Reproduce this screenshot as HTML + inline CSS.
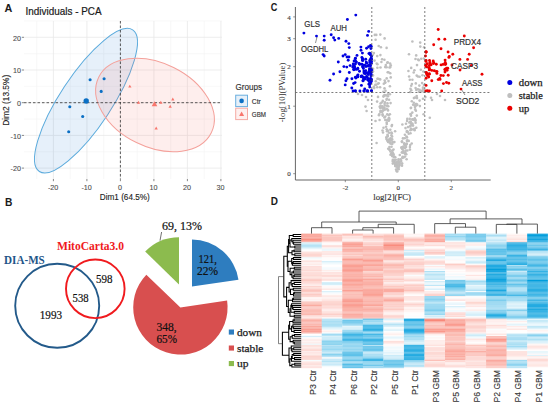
<!DOCTYPE html>
<html><head><meta charset="utf-8"><style>
html,body{margin:0;padding:0;background:#fff;}
svg{display:block;}
</style></head><body>
<svg width="550" height="406" viewBox="0 0 550 406">
<rect width="550" height="406" fill="#fff"/>
<g id="A">
<line x1="36.7" y1="21" x2="36.7" y2="179" stroke="#f3f3f3" stroke-width="0.6"/>
<line x1="70.2" y1="21" x2="70.2" y2="179" stroke="#f3f3f3" stroke-width="0.6"/>
<line x1="103.7" y1="21" x2="103.7" y2="179" stroke="#f3f3f3" stroke-width="0.6"/>
<line x1="137.2" y1="21" x2="137.2" y2="179" stroke="#f3f3f3" stroke-width="0.6"/>
<line x1="170.7" y1="21" x2="170.7" y2="179" stroke="#f3f3f3" stroke-width="0.6"/>
<line x1="204.2" y1="21" x2="204.2" y2="179" stroke="#f3f3f3" stroke-width="0.6"/>
<line x1="24" y1="151.8" x2="222" y2="151.8" stroke="#f3f3f3" stroke-width="0.6"/>
<line x1="24" y1="119.1" x2="222" y2="119.1" stroke="#f3f3f3" stroke-width="0.6"/>
<line x1="24" y1="86.3" x2="222" y2="86.3" stroke="#f3f3f3" stroke-width="0.6"/>
<line x1="24" y1="53.7" x2="222" y2="53.7" stroke="#f3f3f3" stroke-width="0.6"/>
<line x1="24" y1="21.0" x2="222" y2="21.0" stroke="#f3f3f3" stroke-width="0.6"/>
<line x1="53.4" y1="21" x2="53.4" y2="179" stroke="#e9e9e9" stroke-width="0.8"/>
<line x1="86.9" y1="21" x2="86.9" y2="179" stroke="#e9e9e9" stroke-width="0.8"/>
<line x1="120.4" y1="21" x2="120.4" y2="179" stroke="#e9e9e9" stroke-width="0.8"/>
<line x1="153.9" y1="21" x2="153.9" y2="179" stroke="#e9e9e9" stroke-width="0.8"/>
<line x1="187.4" y1="21" x2="187.4" y2="179" stroke="#e9e9e9" stroke-width="0.8"/>
<line x1="220.9" y1="21" x2="220.9" y2="179" stroke="#e9e9e9" stroke-width="0.8"/>
<line x1="24" y1="168.1" x2="222" y2="168.1" stroke="#e9e9e9" stroke-width="0.8"/>
<line x1="24" y1="135.4" x2="222" y2="135.4" stroke="#e9e9e9" stroke-width="0.8"/>
<line x1="24" y1="102.7" x2="222" y2="102.7" stroke="#e9e9e9" stroke-width="0.8"/>
<line x1="24" y1="70.0" x2="222" y2="70.0" stroke="#e9e9e9" stroke-width="0.8"/>
<line x1="24" y1="37.3" x2="222" y2="37.3" stroke="#e9e9e9" stroke-width="0.8"/>
<ellipse cx="86" cy="100.7" rx="84.8" ry="25.8" transform="rotate(-56.6 86 100.7)" fill="#1874cd" fill-opacity="0.11" stroke="#5aaadc" stroke-width="1"/>
<ellipse cx="155" cy="105" rx="62.8" ry="41.9" transform="rotate(26.3 155 105)" fill="#f8766d" fill-opacity="0.12" stroke="#f4a09a" stroke-width="1"/>
<line x1="120.4" y1="21" x2="120.4" y2="179" stroke="#333" stroke-width="0.8" stroke-dasharray="2.5,2"/>
<line x1="24" y1="102.7" x2="222" y2="102.7" stroke="#333" stroke-width="0.8" stroke-dasharray="2.5,2"/>
<circle cx="90.1" cy="79.8" r="1.55" fill="#0b6fc4"/>
<circle cx="104.1" cy="78.7" r="1.55" fill="#0b6fc4"/>
<circle cx="101.2" cy="91.4" r="1.55" fill="#0b6fc4"/>
<circle cx="69.8" cy="106.7" r="1.55" fill="#0b6fc4"/>
<circle cx="82.7" cy="116.5" r="1.55" fill="#0b6fc4"/>
<circle cx="68.7" cy="131.7" r="1.55" fill="#0b6fc4"/>
<circle cx="86.2" cy="101" r="2.7" fill="#0b6fc4"/>
<path d="M129.8 84.7 L131.5 87.6 L128.2 87.6Z" fill="#f8766d"/>
<path d="M138.5 100.8 L140.2 103.7 L136.8 103.7Z" fill="#f8766d"/>
<path d="M160.8 100.8 L162.5 103.7 L159.2 103.7Z" fill="#f8766d"/>
<path d="M172.8 97.6 L174.5 100.5 L171.2 100.5Z" fill="#f8766d"/>
<path d="M170.2 104.8 L171.8 107.7 L168.5 107.7Z" fill="#f8766d"/>
<path d="M156.2 126.6 L157.8 129.5 L154.5 129.5Z" fill="#f8766d"/>
<path d="M154.5 101.2 L157.3 106.3 L151.7 106.3Z" fill="#f8766d"/>
<line x1="53.4" y1="179" x2="53.4" y2="181.2" stroke="#555" stroke-width="0.7"/>
<text x="53.1" y="190.1" font-size="7.2" fill="#4d4d4d" font-family='"Liberation Sans", sans-serif' text-anchor="middle" stroke="#4d4d4d" stroke-width="0.1">-20</text>
<line x1="86.9" y1="179" x2="86.9" y2="181.2" stroke="#555" stroke-width="0.7"/>
<text x="86.6" y="190.1" font-size="7.2" fill="#4d4d4d" font-family='"Liberation Sans", sans-serif' text-anchor="middle" stroke="#4d4d4d" stroke-width="0.1">-10</text>
<line x1="120.4" y1="179" x2="120.4" y2="181.2" stroke="#555" stroke-width="0.7"/>
<text x="120.1" y="190.1" font-size="7.2" fill="#4d4d4d" font-family='"Liberation Sans", sans-serif' text-anchor="middle" stroke="#4d4d4d" stroke-width="0.1">0</text>
<line x1="153.9" y1="179" x2="153.9" y2="181.2" stroke="#555" stroke-width="0.7"/>
<text x="153.6" y="190.1" font-size="7.2" fill="#4d4d4d" font-family='"Liberation Sans", sans-serif' text-anchor="middle" stroke="#4d4d4d" stroke-width="0.1">10</text>
<line x1="187.4" y1="179" x2="187.4" y2="181.2" stroke="#555" stroke-width="0.7"/>
<text x="187.1" y="190.1" font-size="7.2" fill="#4d4d4d" font-family='"Liberation Sans", sans-serif' text-anchor="middle" stroke="#4d4d4d" stroke-width="0.1">20</text>
<line x1="220.9" y1="179" x2="220.9" y2="181.2" stroke="#555" stroke-width="0.7"/>
<text x="220.6" y="190.1" font-size="7.2" fill="#4d4d4d" font-family='"Liberation Sans", sans-serif' text-anchor="middle" stroke="#4d4d4d" stroke-width="0.1">30</text>
<line x1="21.8" y1="168.1" x2="24" y2="168.1" stroke="#555" stroke-width="0.7"/>
<text x="20.9" y="171.4" font-size="7.2" fill="#4d4d4d" font-family='"Liberation Sans", sans-serif' text-anchor="end" stroke="#4d4d4d" stroke-width="0.1">-20</text>
<line x1="21.8" y1="135.4" x2="24" y2="135.4" stroke="#555" stroke-width="0.7"/>
<text x="20.9" y="138.7" font-size="7.2" fill="#4d4d4d" font-family='"Liberation Sans", sans-serif' text-anchor="end" stroke="#4d4d4d" stroke-width="0.1">-10</text>
<line x1="21.8" y1="102.7" x2="24" y2="102.7" stroke="#555" stroke-width="0.7"/>
<text x="20.9" y="106.0" font-size="7.2" fill="#4d4d4d" font-family='"Liberation Sans", sans-serif' text-anchor="end" stroke="#4d4d4d" stroke-width="0.1">0</text>
<line x1="21.8" y1="70.0" x2="24" y2="70.0" stroke="#555" stroke-width="0.7"/>
<text x="20.9" y="73.3" font-size="7.2" fill="#4d4d4d" font-family='"Liberation Sans", sans-serif' text-anchor="end" stroke="#4d4d4d" stroke-width="0.1">10</text>
<line x1="21.8" y1="37.3" x2="24" y2="37.3" stroke="#555" stroke-width="0.7"/>
<text x="20.9" y="40.6" font-size="7.2" fill="#4d4d4d" font-family='"Liberation Sans", sans-serif' text-anchor="end" stroke="#4d4d4d" stroke-width="0.1">20</text>
<text x="99.8" y="199.6" font-size="8.2" fill="#222" font-family='"Liberation Sans", sans-serif' textLength="50" lengthAdjust="spacingAndGlyphs" stroke="#222" stroke-width="0.12">Dim1 (64.5%)</text>
<text transform="translate(8.9 100.3) rotate(-90)" font-size="8.3" fill="#222" font-family='"Liberation Sans", sans-serif' text-anchor="middle" stroke="#222" stroke-width="0.12" textLength="51" lengthAdjust="spacingAndGlyphs">Dim2 (13.5%)</text>
<text x="25.6" y="15.1" font-size="10.3" fill="#1a1a1a" font-family='"Liberation Sans", sans-serif' textLength="76" lengthAdjust="spacingAndGlyphs" stroke="#1a1a1a" stroke-width="0.2">Individuals - PCA</text>
<text x="4.6" y="11.6" font-size="11" fill="#1a1a1a" font-family='"Liberation Sans", sans-serif' font-weight="bold" textLength="7.8" lengthAdjust="spacingAndGlyphs">A</text>
<text x="235.5" y="89.8" font-size="8.4" fill="#333" font-family='"Liberation Sans", sans-serif' textLength="26.5" lengthAdjust="spacingAndGlyphs" stroke="#333" stroke-width="0.15">Groups</text>
<rect x="235.7" y="95.2" width="11.8" height="11.4" fill="#e6f0f9" stroke="#6aaedf" stroke-width="1"/>
<circle cx="241.6" cy="100.9" r="2.3" fill="#0b6fc4"/>
<rect x="235.7" y="108.2" width="11.8" height="11.4" fill="#fef0ef" stroke="#f5aaa4" stroke-width="1"/>
<path d="M241.6 111.5 L244.1 116.0 L239.1 116.0Z" fill="#f8766d"/>
<text x="251.8" y="103.6" font-size="7.2" fill="#333" font-family='"Liberation Sans", sans-serif' textLength="9" lengthAdjust="spacingAndGlyphs" stroke="#333" stroke-width="0.15">Ctr</text>
<text x="251.8" y="116.6" font-size="7.2" fill="#333" font-family='"Liberation Sans", sans-serif' textLength="14.2" lengthAdjust="spacingAndGlyphs" stroke="#333" stroke-width="0.15">GBM</text>
</g>
<g id="C">
<circle cx="390.8" cy="139.3" r="1.3" fill="#bfbfbf"/>
<circle cx="390.4" cy="151.5" r="1.3" fill="#bfbfbf"/>
<circle cx="382.6" cy="114.2" r="1.3" fill="#bfbfbf"/>
<circle cx="389.9" cy="94.2" r="1.3" fill="#bfbfbf"/>
<circle cx="391.5" cy="153.2" r="1.3" fill="#bfbfbf"/>
<circle cx="387.2" cy="114.4" r="1.3" fill="#bfbfbf"/>
<circle cx="382.4" cy="110.9" r="1.3" fill="#bfbfbf"/>
<circle cx="390.3" cy="129.8" r="1.3" fill="#bfbfbf"/>
<circle cx="396.1" cy="169.6" r="1.3" fill="#bfbfbf"/>
<circle cx="386.4" cy="139.1" r="1.3" fill="#bfbfbf"/>
<circle cx="384.5" cy="108.0" r="1.3" fill="#bfbfbf"/>
<circle cx="390.5" cy="138.3" r="1.3" fill="#bfbfbf"/>
<circle cx="383.8" cy="95.9" r="1.3" fill="#bfbfbf"/>
<circle cx="386.1" cy="126.8" r="1.3" fill="#bfbfbf"/>
<circle cx="390.3" cy="139.7" r="1.3" fill="#bfbfbf"/>
<circle cx="386.7" cy="129.2" r="1.3" fill="#bfbfbf"/>
<circle cx="382.2" cy="106.4" r="1.3" fill="#bfbfbf"/>
<circle cx="382.3" cy="107.0" r="1.3" fill="#bfbfbf"/>
<circle cx="388.0" cy="94.2" r="1.3" fill="#bfbfbf"/>
<circle cx="384.6" cy="103.7" r="1.3" fill="#bfbfbf"/>
<circle cx="394.6" cy="160.1" r="1.3" fill="#bfbfbf"/>
<circle cx="394.0" cy="157.3" r="1.3" fill="#bfbfbf"/>
<circle cx="388.2" cy="148.7" r="1.3" fill="#bfbfbf"/>
<circle cx="389.1" cy="132.7" r="1.3" fill="#bfbfbf"/>
<circle cx="398.5" cy="159.3" r="1.3" fill="#bfbfbf"/>
<circle cx="386.3" cy="137.2" r="1.3" fill="#bfbfbf"/>
<circle cx="388.7" cy="120.8" r="1.3" fill="#bfbfbf"/>
<circle cx="387.5" cy="103.4" r="1.3" fill="#bfbfbf"/>
<circle cx="388.9" cy="120.2" r="1.3" fill="#bfbfbf"/>
<circle cx="387.6" cy="136.5" r="1.3" fill="#bfbfbf"/>
<circle cx="388.9" cy="140.4" r="1.3" fill="#bfbfbf"/>
<circle cx="380.5" cy="103.5" r="1.3" fill="#bfbfbf"/>
<circle cx="384.8" cy="109.8" r="1.3" fill="#bfbfbf"/>
<circle cx="389.1" cy="99.8" r="1.3" fill="#bfbfbf"/>
<circle cx="382.5" cy="108.0" r="1.3" fill="#bfbfbf"/>
<circle cx="379.2" cy="114.2" r="1.3" fill="#bfbfbf"/>
<circle cx="390.3" cy="142.3" r="1.3" fill="#bfbfbf"/>
<circle cx="395.3" cy="157.2" r="1.3" fill="#bfbfbf"/>
<circle cx="394.2" cy="162.0" r="1.3" fill="#bfbfbf"/>
<circle cx="390.6" cy="103.1" r="1.3" fill="#bfbfbf"/>
<circle cx="394.9" cy="164.0" r="1.3" fill="#bfbfbf"/>
<circle cx="384.7" cy="105.6" r="1.3" fill="#bfbfbf"/>
<circle cx="387.3" cy="140.6" r="1.3" fill="#bfbfbf"/>
<circle cx="385.3" cy="119.9" r="1.3" fill="#bfbfbf"/>
<circle cx="387.8" cy="109.8" r="1.3" fill="#bfbfbf"/>
<circle cx="395.8" cy="159.7" r="1.3" fill="#bfbfbf"/>
<circle cx="391.8" cy="133.2" r="1.3" fill="#bfbfbf"/>
<circle cx="393.5" cy="149.5" r="1.3" fill="#bfbfbf"/>
<circle cx="387.8" cy="119.6" r="1.3" fill="#bfbfbf"/>
<circle cx="377.1" cy="101.6" r="1.3" fill="#bfbfbf"/>
<circle cx="388.1" cy="141.9" r="1.3" fill="#bfbfbf"/>
<circle cx="395.1" cy="131.3" r="1.3" fill="#bfbfbf"/>
<circle cx="384.3" cy="117.5" r="1.3" fill="#bfbfbf"/>
<circle cx="392.2" cy="144.0" r="1.3" fill="#bfbfbf"/>
<circle cx="387.8" cy="130.9" r="1.3" fill="#bfbfbf"/>
<circle cx="396.1" cy="162.4" r="1.3" fill="#bfbfbf"/>
<circle cx="395.4" cy="164.5" r="1.3" fill="#bfbfbf"/>
<circle cx="389.6" cy="149.6" r="1.3" fill="#bfbfbf"/>
<circle cx="381.7" cy="102.5" r="1.3" fill="#bfbfbf"/>
<circle cx="393.7" cy="154.7" r="1.3" fill="#bfbfbf"/>
<circle cx="388.4" cy="139.6" r="1.3" fill="#bfbfbf"/>
<circle cx="382.5" cy="130.5" r="1.3" fill="#bfbfbf"/>
<circle cx="386.7" cy="108.8" r="1.3" fill="#bfbfbf"/>
<circle cx="389.4" cy="118.9" r="1.3" fill="#bfbfbf"/>
<circle cx="388.9" cy="117.7" r="1.3" fill="#bfbfbf"/>
<circle cx="391.4" cy="135.2" r="1.3" fill="#bfbfbf"/>
<circle cx="380.4" cy="112.1" r="1.3" fill="#bfbfbf"/>
<circle cx="392.0" cy="125.1" r="1.3" fill="#bfbfbf"/>
<circle cx="387.6" cy="130.7" r="1.3" fill="#bfbfbf"/>
<circle cx="392.8" cy="161.4" r="1.3" fill="#bfbfbf"/>
<circle cx="387.8" cy="135.8" r="1.3" fill="#bfbfbf"/>
<circle cx="392.8" cy="159.9" r="1.3" fill="#bfbfbf"/>
<circle cx="392.8" cy="163.6" r="1.3" fill="#bfbfbf"/>
<circle cx="386.8" cy="124.0" r="1.3" fill="#bfbfbf"/>
<circle cx="396.0" cy="165.9" r="1.3" fill="#bfbfbf"/>
<circle cx="392.3" cy="154.0" r="1.3" fill="#bfbfbf"/>
<circle cx="391.5" cy="146.7" r="1.3" fill="#bfbfbf"/>
<circle cx="385.3" cy="116.6" r="1.3" fill="#bfbfbf"/>
<circle cx="382.3" cy="107.1" r="1.3" fill="#bfbfbf"/>
<circle cx="382.9" cy="107.9" r="1.3" fill="#bfbfbf"/>
<circle cx="394.4" cy="156.8" r="1.3" fill="#bfbfbf"/>
<circle cx="383.5" cy="127.8" r="1.3" fill="#bfbfbf"/>
<circle cx="388.9" cy="142.1" r="1.3" fill="#bfbfbf"/>
<circle cx="397.6" cy="166.8" r="1.3" fill="#bfbfbf"/>
<circle cx="390.2" cy="139.6" r="1.3" fill="#bfbfbf"/>
<circle cx="386.8" cy="105.8" r="1.3" fill="#bfbfbf"/>
<circle cx="386.7" cy="122.6" r="1.3" fill="#bfbfbf"/>
<circle cx="390.5" cy="154.7" r="1.3" fill="#bfbfbf"/>
<circle cx="382.8" cy="100.9" r="1.3" fill="#bfbfbf"/>
<circle cx="392.9" cy="153.6" r="1.3" fill="#bfbfbf"/>
<circle cx="387.0" cy="131.3" r="1.3" fill="#bfbfbf"/>
<circle cx="383.4" cy="96.6" r="1.3" fill="#bfbfbf"/>
<circle cx="384.6" cy="95.0" r="1.3" fill="#bfbfbf"/>
<circle cx="388.0" cy="110.4" r="1.3" fill="#bfbfbf"/>
<circle cx="387.5" cy="134.7" r="1.3" fill="#bfbfbf"/>
<circle cx="392.1" cy="136.6" r="1.3" fill="#bfbfbf"/>
<circle cx="390.4" cy="143.6" r="1.3" fill="#bfbfbf"/>
<circle cx="388.7" cy="115.0" r="1.3" fill="#bfbfbf"/>
<circle cx="391.4" cy="132.5" r="1.3" fill="#bfbfbf"/>
<circle cx="394.4" cy="142.0" r="1.3" fill="#bfbfbf"/>
<circle cx="388.3" cy="106.3" r="1.3" fill="#bfbfbf"/>
<circle cx="388.0" cy="96.2" r="1.3" fill="#bfbfbf"/>
<circle cx="399.0" cy="166.7" r="1.3" fill="#bfbfbf"/>
<circle cx="378.0" cy="96.9" r="1.3" fill="#bfbfbf"/>
<circle cx="382.7" cy="115.6" r="1.3" fill="#bfbfbf"/>
<circle cx="392.2" cy="139.4" r="1.3" fill="#bfbfbf"/>
<circle cx="379.0" cy="115.2" r="1.3" fill="#bfbfbf"/>
<circle cx="393.0" cy="153.2" r="1.3" fill="#bfbfbf"/>
<circle cx="392.4" cy="150.8" r="1.3" fill="#bfbfbf"/>
<circle cx="379.7" cy="106.7" r="1.3" fill="#bfbfbf"/>
<circle cx="387.6" cy="140.4" r="1.3" fill="#bfbfbf"/>
<circle cx="386.6" cy="99.8" r="1.3" fill="#bfbfbf"/>
<circle cx="391.2" cy="139.9" r="1.3" fill="#bfbfbf"/>
<circle cx="391.5" cy="153.7" r="1.3" fill="#bfbfbf"/>
<circle cx="389.4" cy="147.1" r="1.3" fill="#bfbfbf"/>
<circle cx="393.1" cy="161.1" r="1.3" fill="#bfbfbf"/>
<circle cx="385.9" cy="95.4" r="1.3" fill="#bfbfbf"/>
<circle cx="380.3" cy="108.0" r="1.3" fill="#bfbfbf"/>
<circle cx="395.6" cy="165.4" r="1.3" fill="#bfbfbf"/>
<circle cx="380.5" cy="110.7" r="1.3" fill="#bfbfbf"/>
<circle cx="392.4" cy="141.9" r="1.3" fill="#bfbfbf"/>
<circle cx="387.0" cy="120.3" r="1.3" fill="#bfbfbf"/>
<circle cx="393.6" cy="142.3" r="1.3" fill="#bfbfbf"/>
<circle cx="379.6" cy="120.0" r="1.3" fill="#bfbfbf"/>
<circle cx="383.0" cy="132.5" r="1.3" fill="#bfbfbf"/>
<circle cx="383.2" cy="110.4" r="1.3" fill="#bfbfbf"/>
<circle cx="391.7" cy="126.1" r="1.3" fill="#bfbfbf"/>
<circle cx="389.3" cy="149.6" r="1.3" fill="#bfbfbf"/>
<circle cx="389.9" cy="114.2" r="1.3" fill="#bfbfbf"/>
<circle cx="392.4" cy="150.5" r="1.3" fill="#bfbfbf"/>
<circle cx="385.0" cy="102.3" r="1.3" fill="#bfbfbf"/>
<circle cx="386.8" cy="98.8" r="1.3" fill="#bfbfbf"/>
<circle cx="382.1" cy="111.9" r="1.3" fill="#bfbfbf"/>
<circle cx="392.1" cy="156.1" r="1.3" fill="#bfbfbf"/>
<circle cx="380.5" cy="106.0" r="1.3" fill="#bfbfbf"/>
<circle cx="402.8" cy="156.9" r="1.3" fill="#bfbfbf"/>
<circle cx="411.7" cy="143.5" r="1.3" fill="#bfbfbf"/>
<circle cx="405.2" cy="144.7" r="1.3" fill="#bfbfbf"/>
<circle cx="405.2" cy="152.3" r="1.3" fill="#bfbfbf"/>
<circle cx="414.8" cy="118.2" r="1.3" fill="#bfbfbf"/>
<circle cx="411.3" cy="129.0" r="1.3" fill="#bfbfbf"/>
<circle cx="415.7" cy="105.6" r="1.3" fill="#bfbfbf"/>
<circle cx="414.6" cy="130.3" r="1.3" fill="#bfbfbf"/>
<circle cx="402.5" cy="157.9" r="1.3" fill="#bfbfbf"/>
<circle cx="414.6" cy="105.2" r="1.3" fill="#bfbfbf"/>
<circle cx="402.9" cy="138.4" r="1.3" fill="#bfbfbf"/>
<circle cx="402.0" cy="165.7" r="1.3" fill="#bfbfbf"/>
<circle cx="405.5" cy="153.7" r="1.3" fill="#bfbfbf"/>
<circle cx="414.2" cy="119.9" r="1.3" fill="#bfbfbf"/>
<circle cx="416.1" cy="105.2" r="1.3" fill="#bfbfbf"/>
<circle cx="409.9" cy="147.1" r="1.3" fill="#bfbfbf"/>
<circle cx="412.3" cy="123.5" r="1.3" fill="#bfbfbf"/>
<circle cx="410.7" cy="121.7" r="1.3" fill="#bfbfbf"/>
<circle cx="405.0" cy="153.8" r="1.3" fill="#bfbfbf"/>
<circle cx="412.3" cy="119.4" r="1.3" fill="#bfbfbf"/>
<circle cx="406.5" cy="144.3" r="1.3" fill="#bfbfbf"/>
<circle cx="403.2" cy="152.7" r="1.3" fill="#bfbfbf"/>
<circle cx="412.8" cy="119.4" r="1.3" fill="#bfbfbf"/>
<circle cx="401.5" cy="147.3" r="1.3" fill="#bfbfbf"/>
<circle cx="413.8" cy="102.8" r="1.3" fill="#bfbfbf"/>
<circle cx="402.3" cy="152.3" r="1.3" fill="#bfbfbf"/>
<circle cx="411.8" cy="101.2" r="1.3" fill="#bfbfbf"/>
<circle cx="399.7" cy="165.0" r="1.3" fill="#bfbfbf"/>
<circle cx="410.5" cy="133.2" r="1.3" fill="#bfbfbf"/>
<circle cx="403.3" cy="146.5" r="1.3" fill="#bfbfbf"/>
<circle cx="406.6" cy="159.3" r="1.3" fill="#bfbfbf"/>
<circle cx="405.0" cy="147.9" r="1.3" fill="#bfbfbf"/>
<circle cx="413.0" cy="125.6" r="1.3" fill="#bfbfbf"/>
<circle cx="410.6" cy="114.1" r="1.3" fill="#bfbfbf"/>
<circle cx="404.2" cy="144.1" r="1.3" fill="#bfbfbf"/>
<circle cx="425.4" cy="97.1" r="1.3" fill="#bfbfbf"/>
<circle cx="404.0" cy="157.2" r="1.3" fill="#bfbfbf"/>
<circle cx="415.2" cy="109.4" r="1.3" fill="#bfbfbf"/>
<circle cx="410.8" cy="108.1" r="1.3" fill="#bfbfbf"/>
<circle cx="416.3" cy="127.8" r="1.3" fill="#bfbfbf"/>
<circle cx="413.1" cy="104.7" r="1.3" fill="#bfbfbf"/>
<circle cx="410.0" cy="126.4" r="1.3" fill="#bfbfbf"/>
<circle cx="407.2" cy="140.3" r="1.3" fill="#bfbfbf"/>
<circle cx="411.8" cy="129.6" r="1.3" fill="#bfbfbf"/>
<circle cx="410.9" cy="128.8" r="1.3" fill="#bfbfbf"/>
<circle cx="410.4" cy="130.3" r="1.3" fill="#bfbfbf"/>
<circle cx="409.9" cy="149.6" r="1.3" fill="#bfbfbf"/>
<circle cx="417.3" cy="104.9" r="1.3" fill="#bfbfbf"/>
<circle cx="419.6" cy="100.6" r="1.3" fill="#bfbfbf"/>
<circle cx="398.4" cy="161.4" r="1.3" fill="#bfbfbf"/>
<circle cx="402.2" cy="163.6" r="1.3" fill="#bfbfbf"/>
<circle cx="405.5" cy="128.1" r="1.3" fill="#bfbfbf"/>
<circle cx="400.6" cy="159.3" r="1.3" fill="#bfbfbf"/>
<circle cx="423.6" cy="114.2" r="1.3" fill="#bfbfbf"/>
<circle cx="415.0" cy="97.6" r="1.3" fill="#bfbfbf"/>
<circle cx="411.9" cy="125.0" r="1.3" fill="#bfbfbf"/>
<circle cx="402.7" cy="147.3" r="1.3" fill="#bfbfbf"/>
<circle cx="402.7" cy="147.3" r="1.3" fill="#bfbfbf"/>
<circle cx="406.3" cy="154.2" r="1.3" fill="#bfbfbf"/>
<circle cx="405.0" cy="145.4" r="1.3" fill="#bfbfbf"/>
<circle cx="416.6" cy="104.1" r="1.3" fill="#bfbfbf"/>
<circle cx="415.8" cy="104.0" r="1.3" fill="#bfbfbf"/>
<circle cx="404.9" cy="134.8" r="1.3" fill="#bfbfbf"/>
<circle cx="401.2" cy="161.0" r="1.3" fill="#bfbfbf"/>
<circle cx="414.5" cy="128.7" r="1.3" fill="#bfbfbf"/>
<circle cx="399.2" cy="163.3" r="1.3" fill="#bfbfbf"/>
<circle cx="405.8" cy="150.6" r="1.3" fill="#bfbfbf"/>
<circle cx="407.4" cy="150.5" r="1.3" fill="#bfbfbf"/>
<circle cx="404.7" cy="138.3" r="1.3" fill="#bfbfbf"/>
<circle cx="415.6" cy="122.7" r="1.3" fill="#bfbfbf"/>
<circle cx="401.9" cy="142.0" r="1.3" fill="#bfbfbf"/>
<circle cx="416.8" cy="115.6" r="1.3" fill="#bfbfbf"/>
<circle cx="415.0" cy="106.9" r="1.3" fill="#bfbfbf"/>
<circle cx="402.6" cy="147.9" r="1.3" fill="#bfbfbf"/>
<circle cx="406.0" cy="144.8" r="1.3" fill="#bfbfbf"/>
<circle cx="399.7" cy="162.7" r="1.3" fill="#bfbfbf"/>
<circle cx="407.1" cy="120.9" r="1.3" fill="#bfbfbf"/>
<circle cx="414.2" cy="129.3" r="1.3" fill="#bfbfbf"/>
<circle cx="423.0" cy="98.8" r="1.3" fill="#bfbfbf"/>
<circle cx="406.8" cy="131.9" r="1.3" fill="#bfbfbf"/>
<circle cx="416.7" cy="96.1" r="1.3" fill="#bfbfbf"/>
<circle cx="407.0" cy="137.4" r="1.3" fill="#bfbfbf"/>
<circle cx="417.0" cy="98.1" r="1.3" fill="#bfbfbf"/>
<circle cx="411.1" cy="107.8" r="1.3" fill="#bfbfbf"/>
<circle cx="405.1" cy="156.5" r="1.3" fill="#bfbfbf"/>
<circle cx="412.3" cy="124.2" r="1.3" fill="#bfbfbf"/>
<circle cx="404.2" cy="143.2" r="1.3" fill="#bfbfbf"/>
<circle cx="403.4" cy="150.9" r="1.3" fill="#bfbfbf"/>
<circle cx="406.5" cy="136.6" r="1.3" fill="#bfbfbf"/>
<circle cx="407.0" cy="141.0" r="1.3" fill="#bfbfbf"/>
<circle cx="415.4" cy="120.7" r="1.3" fill="#bfbfbf"/>
<circle cx="415.6" cy="120.0" r="1.3" fill="#bfbfbf"/>
<circle cx="409.7" cy="118.9" r="1.3" fill="#bfbfbf"/>
<circle cx="406.0" cy="146.9" r="1.3" fill="#bfbfbf"/>
<circle cx="411.0" cy="115.8" r="1.3" fill="#bfbfbf"/>
<circle cx="407.3" cy="118.9" r="1.3" fill="#bfbfbf"/>
<circle cx="402.4" cy="149.2" r="1.3" fill="#bfbfbf"/>
<circle cx="406.7" cy="143.6" r="1.3" fill="#bfbfbf"/>
<circle cx="399.8" cy="155.0" r="1.3" fill="#bfbfbf"/>
<circle cx="407.8" cy="131.9" r="1.3" fill="#bfbfbf"/>
<circle cx="408.7" cy="140.9" r="1.3" fill="#bfbfbf"/>
<circle cx="410.3" cy="121.8" r="1.3" fill="#bfbfbf"/>
<circle cx="412.3" cy="112.6" r="1.3" fill="#bfbfbf"/>
<circle cx="409.3" cy="122.5" r="1.3" fill="#bfbfbf"/>
<circle cx="406.0" cy="123.7" r="1.3" fill="#bfbfbf"/>
<circle cx="408.7" cy="133.7" r="1.3" fill="#bfbfbf"/>
<circle cx="402.7" cy="157.3" r="1.3" fill="#bfbfbf"/>
<circle cx="415.9" cy="110.8" r="1.3" fill="#bfbfbf"/>
<circle cx="408.0" cy="127.1" r="1.3" fill="#bfbfbf"/>
<circle cx="413.9" cy="98.1" r="1.3" fill="#bfbfbf"/>
<circle cx="419.9" cy="106.1" r="1.3" fill="#bfbfbf"/>
<circle cx="401.8" cy="152.5" r="1.3" fill="#bfbfbf"/>
<circle cx="410.7" cy="125.6" r="1.3" fill="#bfbfbf"/>
<circle cx="402.4" cy="124.5" r="1.3" fill="#bfbfbf"/>
<circle cx="406.9" cy="131.0" r="1.3" fill="#bfbfbf"/>
<circle cx="410.7" cy="114.3" r="1.3" fill="#bfbfbf"/>
<circle cx="401.5" cy="148.0" r="1.3" fill="#bfbfbf"/>
<circle cx="410.2" cy="145.1" r="1.3" fill="#bfbfbf"/>
<circle cx="411.1" cy="123.6" r="1.3" fill="#bfbfbf"/>
<circle cx="402.0" cy="141.3" r="1.3" fill="#bfbfbf"/>
<circle cx="397.2" cy="164.5" r="1.3" fill="#bfbfbf"/>
<circle cx="397.8" cy="163.1" r="1.3" fill="#bfbfbf"/>
<circle cx="395.8" cy="166.3" r="1.3" fill="#bfbfbf"/>
<circle cx="397.9" cy="162.4" r="1.3" fill="#bfbfbf"/>
<circle cx="401.7" cy="163.5" r="1.3" fill="#bfbfbf"/>
<circle cx="396.5" cy="163.1" r="1.3" fill="#bfbfbf"/>
<circle cx="396.8" cy="165.1" r="1.3" fill="#bfbfbf"/>
<circle cx="397.9" cy="168.5" r="1.3" fill="#bfbfbf"/>
<circle cx="399.2" cy="161.6" r="1.3" fill="#bfbfbf"/>
<circle cx="398.5" cy="169.2" r="1.3" fill="#bfbfbf"/>
<circle cx="396.5" cy="171.1" r="1.3" fill="#bfbfbf"/>
<circle cx="397.5" cy="167.5" r="1.3" fill="#bfbfbf"/>
<circle cx="398.5" cy="169.0" r="1.3" fill="#bfbfbf"/>
<circle cx="395.3" cy="163.1" r="1.3" fill="#bfbfbf"/>
<circle cx="395.3" cy="165.9" r="1.3" fill="#bfbfbf"/>
<circle cx="397.4" cy="165.3" r="1.3" fill="#bfbfbf"/>
<circle cx="398.2" cy="161.6" r="1.3" fill="#bfbfbf"/>
<circle cx="397.7" cy="162.1" r="1.3" fill="#bfbfbf"/>
<circle cx="397.3" cy="171.5" r="1.3" fill="#bfbfbf"/>
<circle cx="397.5" cy="162.2" r="1.3" fill="#bfbfbf"/>
<circle cx="398.2" cy="165.7" r="1.3" fill="#bfbfbf"/>
<circle cx="398.5" cy="165.5" r="1.3" fill="#bfbfbf"/>
<circle cx="376.7" cy="63.5" r="1.3" fill="#bfbfbf"/>
<circle cx="375.3" cy="84.9" r="1.3" fill="#bfbfbf"/>
<circle cx="379.2" cy="79.0" r="1.3" fill="#bfbfbf"/>
<circle cx="387.7" cy="72.2" r="1.3" fill="#bfbfbf"/>
<circle cx="390.1" cy="63.5" r="1.3" fill="#bfbfbf"/>
<circle cx="384.5" cy="88.4" r="1.3" fill="#bfbfbf"/>
<circle cx="384.4" cy="59.7" r="1.3" fill="#bfbfbf"/>
<circle cx="386.7" cy="78.4" r="1.3" fill="#bfbfbf"/>
<circle cx="390.7" cy="65.3" r="1.3" fill="#bfbfbf"/>
<circle cx="374.2" cy="88.1" r="1.3" fill="#bfbfbf"/>
<circle cx="373.1" cy="68.7" r="1.3" fill="#bfbfbf"/>
<circle cx="389.9" cy="86.3" r="1.3" fill="#bfbfbf"/>
<circle cx="383.3" cy="91.7" r="1.3" fill="#bfbfbf"/>
<circle cx="384.7" cy="80.6" r="1.3" fill="#bfbfbf"/>
<circle cx="390.7" cy="77.4" r="1.3" fill="#bfbfbf"/>
<circle cx="377.9" cy="78.7" r="1.3" fill="#bfbfbf"/>
<circle cx="373.0" cy="75.4" r="1.3" fill="#bfbfbf"/>
<circle cx="385.1" cy="82.6" r="1.3" fill="#bfbfbf"/>
<circle cx="388.5" cy="72.3" r="1.3" fill="#bfbfbf"/>
<circle cx="377.9" cy="83.7" r="1.3" fill="#bfbfbf"/>
<circle cx="374.5" cy="60.6" r="1.3" fill="#bfbfbf"/>
<circle cx="377.4" cy="64.3" r="1.3" fill="#bfbfbf"/>
<circle cx="390.2" cy="73.2" r="1.3" fill="#bfbfbf"/>
<circle cx="389.5" cy="67.5" r="1.3" fill="#bfbfbf"/>
<circle cx="388.5" cy="81.1" r="1.3" fill="#bfbfbf"/>
<circle cx="372.8" cy="71.7" r="1.3" fill="#bfbfbf"/>
<circle cx="376.3" cy="84.8" r="1.3" fill="#bfbfbf"/>
<circle cx="387.3" cy="62.8" r="1.3" fill="#bfbfbf"/>
<circle cx="375.8" cy="81.3" r="1.3" fill="#bfbfbf"/>
<circle cx="390.4" cy="67.1" r="1.3" fill="#bfbfbf"/>
<circle cx="385.2" cy="67.1" r="1.3" fill="#bfbfbf"/>
<circle cx="387.7" cy="62.4" r="1.3" fill="#bfbfbf"/>
<circle cx="381.4" cy="62.0" r="1.3" fill="#bfbfbf"/>
<circle cx="382.1" cy="59.2" r="1.3" fill="#bfbfbf"/>
<circle cx="373.8" cy="86.8" r="1.3" fill="#bfbfbf"/>
<circle cx="386.6" cy="67.3" r="1.3" fill="#bfbfbf"/>
<circle cx="377.5" cy="78.7" r="1.3" fill="#bfbfbf"/>
<circle cx="380.2" cy="79.4" r="1.3" fill="#bfbfbf"/>
<circle cx="377.2" cy="87.3" r="1.3" fill="#bfbfbf"/>
<circle cx="383.8" cy="83.8" r="1.3" fill="#bfbfbf"/>
<circle cx="378.7" cy="83.2" r="1.3" fill="#bfbfbf"/>
<circle cx="385.2" cy="82.6" r="1.3" fill="#bfbfbf"/>
<circle cx="373.0" cy="71.2" r="1.3" fill="#bfbfbf"/>
<circle cx="385.5" cy="90.7" r="1.3" fill="#bfbfbf"/>
<circle cx="385.8" cy="65.0" r="1.3" fill="#bfbfbf"/>
<circle cx="380.5" cy="67.5" r="1.3" fill="#bfbfbf"/>
<circle cx="380.1" cy="87.2" r="1.3" fill="#bfbfbf"/>
<circle cx="377.4" cy="67.8" r="1.3" fill="#bfbfbf"/>
<circle cx="376.3" cy="34.9" r="1.3" fill="#bfbfbf"/>
<circle cx="375.6" cy="39.8" r="1.3" fill="#bfbfbf"/>
<circle cx="380.3" cy="34.6" r="1.3" fill="#bfbfbf"/>
<circle cx="384.6" cy="38.4" r="1.3" fill="#bfbfbf"/>
<circle cx="377.2" cy="56.1" r="1.3" fill="#bfbfbf"/>
<circle cx="380.9" cy="47.3" r="1.3" fill="#bfbfbf"/>
<circle cx="374.8" cy="34.9" r="1.3" fill="#bfbfbf"/>
<circle cx="380.4" cy="55.1" r="1.3" fill="#bfbfbf"/>
<circle cx="373.9" cy="53.1" r="1.3" fill="#bfbfbf"/>
<circle cx="386.6" cy="47.9" r="1.3" fill="#bfbfbf"/>
<circle cx="372.9" cy="54.7" r="1.3" fill="#bfbfbf"/>
<circle cx="378.7" cy="46.0" r="1.3" fill="#bfbfbf"/>
<circle cx="423.8" cy="58.5" r="1.3" fill="#bfbfbf"/>
<circle cx="411.2" cy="85.8" r="1.3" fill="#bfbfbf"/>
<circle cx="417.9" cy="76.5" r="1.3" fill="#bfbfbf"/>
<circle cx="420.2" cy="42.6" r="1.3" fill="#bfbfbf"/>
<circle cx="419.0" cy="91.7" r="1.3" fill="#bfbfbf"/>
<circle cx="423.7" cy="89.4" r="1.3" fill="#bfbfbf"/>
<circle cx="408.4" cy="71.0" r="1.3" fill="#bfbfbf"/>
<circle cx="414.4" cy="70.3" r="1.3" fill="#bfbfbf"/>
<circle cx="415.8" cy="83.4" r="1.3" fill="#bfbfbf"/>
<circle cx="415.5" cy="59.0" r="1.3" fill="#bfbfbf"/>
<circle cx="416.2" cy="55.4" r="1.3" fill="#bfbfbf"/>
<circle cx="415.6" cy="88.1" r="1.3" fill="#bfbfbf"/>
<circle cx="422.5" cy="75.3" r="1.3" fill="#bfbfbf"/>
<circle cx="411.2" cy="67.9" r="1.3" fill="#bfbfbf"/>
<circle cx="416.3" cy="89.9" r="1.3" fill="#bfbfbf"/>
<circle cx="418.8" cy="60.3" r="1.3" fill="#bfbfbf"/>
<circle cx="419.3" cy="85.6" r="1.3" fill="#bfbfbf"/>
<circle cx="413.7" cy="72.5" r="1.3" fill="#bfbfbf"/>
<circle cx="423.3" cy="71.5" r="1.3" fill="#bfbfbf"/>
<circle cx="409.0" cy="54.3" r="1.3" fill="#bfbfbf"/>
<circle cx="421.3" cy="90.7" r="1.3" fill="#bfbfbf"/>
<circle cx="410.5" cy="88.8" r="1.3" fill="#bfbfbf"/>
<circle cx="424.1" cy="47.3" r="1.3" fill="#bfbfbf"/>
<circle cx="422.1" cy="83.1" r="1.3" fill="#bfbfbf"/>
<circle cx="409.1" cy="76.5" r="1.3" fill="#bfbfbf"/>
<circle cx="422.5" cy="91.3" r="1.3" fill="#bfbfbf"/>
<circle cx="416.7" cy="75.6" r="1.3" fill="#bfbfbf"/>
<circle cx="418.2" cy="59.5" r="1.3" fill="#bfbfbf"/>
<circle cx="419.6" cy="89.7" r="1.3" fill="#bfbfbf"/>
<circle cx="412.4" cy="41.5" r="1.3" fill="#bfbfbf"/>
<circle cx="411.3" cy="90.3" r="1.3" fill="#bfbfbf"/>
<circle cx="411.9" cy="84.0" r="1.3" fill="#bfbfbf"/>
<circle cx="410.1" cy="92.0" r="1.3" fill="#bfbfbf"/>
<circle cx="417.9" cy="89.2" r="1.3" fill="#bfbfbf"/>
<circle cx="417.0" cy="65.1" r="1.3" fill="#bfbfbf"/>
<circle cx="422.9" cy="89.1" r="1.3" fill="#bfbfbf"/>
<circle cx="424.0" cy="85.0" r="1.3" fill="#bfbfbf"/>
<circle cx="423.0" cy="87.5" r="1.3" fill="#bfbfbf"/>
<circle cx="419.6" cy="76.7" r="1.3" fill="#bfbfbf"/>
<circle cx="420.8" cy="69.8" r="1.3" fill="#bfbfbf"/>
<circle cx="420.0" cy="91.8" r="1.3" fill="#bfbfbf"/>
<circle cx="421.2" cy="58.8" r="1.3" fill="#bfbfbf"/>
<circle cx="412.4" cy="79.8" r="1.3" fill="#bfbfbf"/>
<circle cx="409.8" cy="79.7" r="1.3" fill="#bfbfbf"/>
<circle cx="420.3" cy="46.6" r="1.3" fill="#bfbfbf"/>
<circle cx="365.5" cy="106.6" r="1.3" fill="#bfbfbf"/>
<circle cx="366.6" cy="111.0" r="1.3" fill="#bfbfbf"/>
<circle cx="375.5" cy="121.0" r="1.3" fill="#bfbfbf"/>
<circle cx="376.6" cy="143.0" r="1.3" fill="#bfbfbf"/>
<circle cx="431.0" cy="97.8" r="1.3" fill="#bfbfbf"/>
<circle cx="429.8" cy="117.7" r="1.3" fill="#bfbfbf"/>
<circle cx="432.0" cy="100.0" r="1.3" fill="#bfbfbf"/>
<circle cx="362.0" cy="95.0" r="1.3" fill="#bfbfbf"/>
<circle cx="366.0" cy="97.0" r="1.3" fill="#bfbfbf"/>
<circle cx="368.0" cy="100.0" r="1.3" fill="#bfbfbf"/>
<circle cx="440.0" cy="96.0" r="1.3" fill="#bfbfbf"/>
<circle cx="445.0" cy="100.0" r="1.3" fill="#bfbfbf"/>
<circle cx="358.0" cy="94.0" r="1.3" fill="#bfbfbf"/>
<circle cx="437.0" cy="94.0" r="1.3" fill="#bfbfbf"/>
<circle cx="355.8" cy="15.1" r="1.45" fill="#0000e0"/>
<circle cx="347.4" cy="19.5" r="1.45" fill="#0000e0"/>
<circle cx="303.9" cy="33.1" r="1.45" fill="#0000e0"/>
<circle cx="316.5" cy="36.1" r="1.45" fill="#0000e0"/>
<circle cx="324.2" cy="36.1" r="1.45" fill="#0000e0"/>
<circle cx="324.2" cy="40.3" r="1.45" fill="#0000e0"/>
<circle cx="331.2" cy="34.7" r="1.45" fill="#0000e0"/>
<circle cx="333.6" cy="37.7" r="1.45" fill="#0000e0"/>
<circle cx="334.8" cy="40.1" r="1.45" fill="#0000e0"/>
<circle cx="338.7" cy="38.4" r="1.45" fill="#0000e0"/>
<circle cx="346.0" cy="41.2" r="1.45" fill="#0000e0"/>
<circle cx="348.8" cy="43.6" r="1.45" fill="#0000e0"/>
<circle cx="349.3" cy="47.6" r="1.45" fill="#0000e0"/>
<circle cx="323.1" cy="54.6" r="1.45" fill="#0000e0"/>
<circle cx="324.2" cy="56.0" r="1.45" fill="#0000e0"/>
<circle cx="343.0" cy="56.0" r="1.45" fill="#0000e0"/>
<circle cx="347.0" cy="57.0" r="1.45" fill="#0000e0"/>
<circle cx="338.3" cy="62.0" r="1.45" fill="#0000e0"/>
<circle cx="333.6" cy="74.0" r="1.45" fill="#0000e0"/>
<circle cx="330.0" cy="80.3" r="1.45" fill="#0000e0"/>
<circle cx="351.8" cy="88.0" r="1.45" fill="#0000e0"/>
<circle cx="368.7" cy="31.4" r="1.45" fill="#0000e0"/>
<circle cx="367.5" cy="35.4" r="1.45" fill="#0000e0"/>
<circle cx="359.5" cy="71.2" r="1.45" fill="#0000e0"/>
<circle cx="370.5" cy="78.4" r="1.45" fill="#0000e0"/>
<circle cx="362.6" cy="58.6" r="1.45" fill="#0000e0"/>
<circle cx="370.4" cy="83.0" r="1.45" fill="#0000e0"/>
<circle cx="365.3" cy="73.5" r="1.45" fill="#0000e0"/>
<circle cx="353.3" cy="63.9" r="1.45" fill="#0000e0"/>
<circle cx="370.6" cy="65.8" r="1.45" fill="#0000e0"/>
<circle cx="370.9" cy="48.6" r="1.45" fill="#0000e0"/>
<circle cx="367.9" cy="65.7" r="1.45" fill="#0000e0"/>
<circle cx="371.4" cy="79.3" r="1.45" fill="#0000e0"/>
<circle cx="362.4" cy="53.1" r="1.45" fill="#0000e0"/>
<circle cx="363.4" cy="68.5" r="1.45" fill="#0000e0"/>
<circle cx="363.5" cy="78.5" r="1.45" fill="#0000e0"/>
<circle cx="360.9" cy="47.1" r="1.45" fill="#0000e0"/>
<circle cx="370.3" cy="54.0" r="1.45" fill="#0000e0"/>
<circle cx="366.5" cy="76.5" r="1.45" fill="#0000e0"/>
<circle cx="355.5" cy="91.0" r="1.45" fill="#0000e0"/>
<circle cx="368.9" cy="53.6" r="1.45" fill="#0000e0"/>
<circle cx="354.1" cy="61.0" r="1.45" fill="#0000e0"/>
<circle cx="367.2" cy="77.2" r="1.45" fill="#0000e0"/>
<circle cx="366.6" cy="48.3" r="1.45" fill="#0000e0"/>
<circle cx="365.8" cy="70.7" r="1.45" fill="#0000e0"/>
<circle cx="366.1" cy="73.3" r="1.45" fill="#0000e0"/>
<circle cx="371.2" cy="72.5" r="1.45" fill="#0000e0"/>
<circle cx="363.4" cy="77.1" r="1.45" fill="#0000e0"/>
<circle cx="357.8" cy="76.9" r="1.45" fill="#0000e0"/>
<circle cx="369.4" cy="70.0" r="1.45" fill="#0000e0"/>
<circle cx="368.3" cy="74.5" r="1.45" fill="#0000e0"/>
<circle cx="367.2" cy="91.0" r="1.45" fill="#0000e0"/>
<circle cx="361.9" cy="57.5" r="1.45" fill="#0000e0"/>
<circle cx="370.8" cy="68.6" r="1.45" fill="#0000e0"/>
<circle cx="359.0" cy="63.4" r="1.45" fill="#0000e0"/>
<circle cx="361.9" cy="64.3" r="1.45" fill="#0000e0"/>
<circle cx="366.6" cy="63.3" r="1.45" fill="#0000e0"/>
<circle cx="369.1" cy="83.7" r="1.45" fill="#0000e0"/>
<circle cx="362.5" cy="59.9" r="1.45" fill="#0000e0"/>
<circle cx="370.3" cy="61.9" r="1.45" fill="#0000e0"/>
<circle cx="371.1" cy="58.2" r="1.45" fill="#0000e0"/>
<circle cx="369.8" cy="71.6" r="1.45" fill="#0000e0"/>
<circle cx="369.8" cy="60.5" r="1.45" fill="#0000e0"/>
<circle cx="368.6" cy="46.8" r="1.45" fill="#0000e0"/>
<circle cx="352.8" cy="67.0" r="1.45" fill="#0000e0"/>
<circle cx="371.3" cy="69.8" r="1.45" fill="#0000e0"/>
<circle cx="362.6" cy="66.4" r="1.45" fill="#0000e0"/>
<circle cx="367.8" cy="78.7" r="1.45" fill="#0000e0"/>
<circle cx="371.5" cy="61.4" r="1.45" fill="#0000e0"/>
<circle cx="363.7" cy="65.1" r="1.45" fill="#0000e0"/>
<circle cx="369.8" cy="62.4" r="1.45" fill="#0000e0"/>
<circle cx="371.1" cy="74.6" r="1.45" fill="#0000e0"/>
<circle cx="354.5" cy="66.2" r="1.45" fill="#0000e0"/>
<circle cx="369.7" cy="64.8" r="1.45" fill="#0000e0"/>
<circle cx="371.5" cy="91.0" r="1.45" fill="#0000e0"/>
<circle cx="353.6" cy="66.0" r="1.45" fill="#0000e0"/>
<circle cx="361.9" cy="75.9" r="1.45" fill="#0000e0"/>
<circle cx="368.1" cy="66.1" r="1.45" fill="#0000e0"/>
<circle cx="369.6" cy="68.6" r="1.45" fill="#0000e0"/>
<circle cx="370.6" cy="73.3" r="1.45" fill="#0000e0"/>
<circle cx="370.9" cy="75.8" r="1.45" fill="#0000e0"/>
<circle cx="355.2" cy="58.8" r="1.45" fill="#0000e0"/>
<circle cx="367.8" cy="91.0" r="1.45" fill="#0000e0"/>
<circle cx="358.0" cy="75.0" r="1.45" fill="#0000e0"/>
<circle cx="363.8" cy="91.0" r="1.45" fill="#0000e0"/>
<circle cx="370.9" cy="70.7" r="1.45" fill="#0000e0"/>
<circle cx="363.0" cy="80.9" r="1.45" fill="#0000e0"/>
<circle cx="357.5" cy="75.7" r="1.45" fill="#0000e0"/>
<circle cx="364.4" cy="73.4" r="1.45" fill="#0000e0"/>
<circle cx="355.5" cy="58.3" r="1.45" fill="#0000e0"/>
<circle cx="370.6" cy="82.5" r="1.45" fill="#0000e0"/>
<circle cx="357.6" cy="69.1" r="1.45" fill="#0000e0"/>
<circle cx="365.7" cy="59.2" r="1.45" fill="#0000e0"/>
<circle cx="371.4" cy="59.3" r="1.45" fill="#0000e0"/>
<circle cx="353.1" cy="91.0" r="1.45" fill="#0000e0"/>
<circle cx="356.2" cy="69.4" r="1.45" fill="#0000e0"/>
<circle cx="368.2" cy="73.5" r="1.45" fill="#0000e0"/>
<circle cx="371.5" cy="90.6" r="1.45" fill="#0000e0"/>
<circle cx="369.8" cy="84.7" r="1.45" fill="#0000e0"/>
<circle cx="364.7" cy="88.9" r="1.45" fill="#0000e0"/>
<circle cx="355.4" cy="63.9" r="1.45" fill="#0000e0"/>
<circle cx="368.7" cy="80.8" r="1.45" fill="#0000e0"/>
<circle cx="364.7" cy="77.9" r="1.45" fill="#0000e0"/>
<circle cx="371.3" cy="46.4" r="1.45" fill="#0000e0"/>
<circle cx="363.1" cy="80.4" r="1.45" fill="#0000e0"/>
<circle cx="364.6" cy="72.8" r="1.45" fill="#0000e0"/>
<circle cx="366.0" cy="66.5" r="1.45" fill="#0000e0"/>
<circle cx="353.9" cy="69.7" r="1.45" fill="#0000e0"/>
<circle cx="357.0" cy="55.4" r="1.45" fill="#0000e0"/>
<circle cx="359.7" cy="64.3" r="1.45" fill="#0000e0"/>
<circle cx="369.7" cy="87.1" r="1.45" fill="#0000e0"/>
<circle cx="371.5" cy="56.4" r="1.45" fill="#0000e0"/>
<circle cx="369.9" cy="83.2" r="1.45" fill="#0000e0"/>
<circle cx="353.2" cy="66.9" r="1.45" fill="#0000e0"/>
<circle cx="371.2" cy="80.6" r="1.45" fill="#0000e0"/>
<circle cx="361.3" cy="76.3" r="1.45" fill="#0000e0"/>
<circle cx="369.1" cy="65.6" r="1.45" fill="#0000e0"/>
<circle cx="364.0" cy="72.8" r="1.45" fill="#0000e0"/>
<circle cx="364.7" cy="65.2" r="1.45" fill="#0000e0"/>
<circle cx="361.4" cy="85.4" r="1.45" fill="#0000e0"/>
<circle cx="355.1" cy="82.6" r="1.45" fill="#0000e0"/>
<circle cx="364.9" cy="79.1" r="1.45" fill="#0000e0"/>
<circle cx="356.4" cy="62.1" r="1.45" fill="#0000e0"/>
<circle cx="357.8" cy="68.2" r="1.45" fill="#0000e0"/>
<circle cx="359.9" cy="91.0" r="1.45" fill="#0000e0"/>
<circle cx="362.6" cy="60.4" r="1.45" fill="#0000e0"/>
<circle cx="371.3" cy="81.5" r="1.45" fill="#0000e0"/>
<circle cx="363.9" cy="71.1" r="1.45" fill="#0000e0"/>
<circle cx="367.6" cy="79.8" r="1.45" fill="#0000e0"/>
<circle cx="369.0" cy="84.3" r="1.45" fill="#0000e0"/>
<circle cx="370.9" cy="79.6" r="1.45" fill="#0000e0"/>
<circle cx="353.6" cy="83.5" r="1.45" fill="#0000e0"/>
<circle cx="355.6" cy="61.3" r="1.45" fill="#0000e0"/>
<circle cx="370.1" cy="61.1" r="1.45" fill="#0000e0"/>
<circle cx="369.8" cy="53.2" r="1.45" fill="#0000e0"/>
<circle cx="355.9" cy="78.0" r="1.45" fill="#0000e0"/>
<circle cx="369.8" cy="70.3" r="1.45" fill="#0000e0"/>
<circle cx="368.5" cy="72.2" r="1.45" fill="#0000e0"/>
<circle cx="370.6" cy="78.9" r="1.45" fill="#0000e0"/>
<circle cx="354.7" cy="67.9" r="1.45" fill="#0000e0"/>
<circle cx="371.5" cy="70.1" r="1.45" fill="#0000e0"/>
<circle cx="370.6" cy="61.2" r="1.45" fill="#0000e0"/>
<circle cx="363.0" cy="67.2" r="1.45" fill="#0000e0"/>
<circle cx="366.2" cy="62.1" r="1.45" fill="#0000e0"/>
<circle cx="361.2" cy="76.7" r="1.45" fill="#0000e0"/>
<circle cx="366.7" cy="91.0" r="1.45" fill="#0000e0"/>
<circle cx="355.2" cy="91.0" r="1.45" fill="#0000e0"/>
<circle cx="359.9" cy="64.1" r="1.45" fill="#0000e0"/>
<circle cx="355.4" cy="77.2" r="1.45" fill="#0000e0"/>
<circle cx="364.7" cy="72.6" r="1.45" fill="#0000e0"/>
<circle cx="361.0" cy="50.3" r="1.45" fill="#0000e0"/>
<circle cx="370.5" cy="45.4" r="1.45" fill="#0000e0"/>
<circle cx="371.4" cy="63.3" r="1.45" fill="#0000e0"/>
<circle cx="353.7" cy="69.4" r="1.45" fill="#0000e0"/>
<circle cx="370.3" cy="54.8" r="1.45" fill="#0000e0"/>
<circle cx="371.0" cy="59.2" r="1.45" fill="#0000e0"/>
<circle cx="362.8" cy="60.4" r="1.45" fill="#0000e0"/>
<circle cx="370.8" cy="59.3" r="1.45" fill="#0000e0"/>
<circle cx="349.3" cy="72.5" r="1.45" fill="#0000e0"/>
<circle cx="339.9" cy="71.7" r="1.45" fill="#0000e0"/>
<circle cx="346.8" cy="67.1" r="1.45" fill="#0000e0"/>
<circle cx="350.1" cy="65.6" r="1.45" fill="#0000e0"/>
<circle cx="345.2" cy="54.6" r="1.45" fill="#0000e0"/>
<circle cx="345.9" cy="80.7" r="1.45" fill="#0000e0"/>
<circle cx="348.2" cy="60.3" r="1.45" fill="#0000e0"/>
<circle cx="351.9" cy="78.8" r="1.45" fill="#0000e0"/>
<circle cx="343.9" cy="66.6" r="1.45" fill="#0000e0"/>
<circle cx="348.9" cy="57.0" r="1.45" fill="#0000e0"/>
<circle cx="347.0" cy="78.8" r="1.45" fill="#0000e0"/>
<circle cx="345.2" cy="84.9" r="1.45" fill="#0000e0"/>
<circle cx="438.2" cy="29.5" r="1.45" fill="#ea0000"/>
<circle cx="464.3" cy="36.0" r="1.45" fill="#ea0000"/>
<circle cx="438.8" cy="39.3" r="1.45" fill="#ea0000"/>
<circle cx="444.8" cy="39.3" r="1.45" fill="#ea0000"/>
<circle cx="433.7" cy="44.8" r="1.45" fill="#ea0000"/>
<circle cx="473.6" cy="47.7" r="1.45" fill="#ea0000"/>
<circle cx="441.0" cy="48.8" r="1.45" fill="#ea0000"/>
<circle cx="452.8" cy="54.3" r="1.45" fill="#ea0000"/>
<circle cx="459.9" cy="59.4" r="1.45" fill="#ea0000"/>
<circle cx="467.6" cy="59.4" r="1.45" fill="#ea0000"/>
<circle cx="469.2" cy="54.3" r="1.45" fill="#ea0000"/>
<circle cx="482.0" cy="74.3" r="1.45" fill="#ea0000"/>
<circle cx="448.8" cy="83.2" r="1.45" fill="#ea0000"/>
<circle cx="461.0" cy="89.1" r="1.45" fill="#ea0000"/>
<circle cx="471.4" cy="65.4" r="1.45" fill="#ea0000"/>
<circle cx="452.0" cy="65.0" r="1.45" fill="#ea0000"/>
<circle cx="445.0" cy="72.0" r="1.45" fill="#ea0000"/>
<circle cx="460.0" cy="70.0" r="1.45" fill="#ea0000"/>
<circle cx="433.2" cy="60.9" r="1.45" fill="#ea0000"/>
<circle cx="429.1" cy="68.0" r="1.45" fill="#ea0000"/>
<circle cx="429.8" cy="63.8" r="1.45" fill="#ea0000"/>
<circle cx="431.8" cy="80.8" r="1.45" fill="#ea0000"/>
<circle cx="447.7" cy="68.3" r="1.45" fill="#ea0000"/>
<circle cx="449.3" cy="56.5" r="1.45" fill="#ea0000"/>
<circle cx="426.0" cy="52.0" r="1.45" fill="#ea0000"/>
<circle cx="425.8" cy="65.7" r="1.45" fill="#ea0000"/>
<circle cx="427.4" cy="90.7" r="1.45" fill="#ea0000"/>
<circle cx="429.5" cy="60.5" r="1.45" fill="#ea0000"/>
<circle cx="443.4" cy="83.6" r="1.45" fill="#ea0000"/>
<circle cx="430.0" cy="62.5" r="1.45" fill="#ea0000"/>
<circle cx="425.5" cy="56.0" r="1.45" fill="#ea0000"/>
<circle cx="448.1" cy="52.0" r="1.45" fill="#ea0000"/>
<circle cx="445.0" cy="69.3" r="1.45" fill="#ea0000"/>
<circle cx="429.3" cy="73.7" r="1.45" fill="#ea0000"/>
<circle cx="429.2" cy="69.9" r="1.45" fill="#ea0000"/>
<circle cx="426.1" cy="52.0" r="1.45" fill="#ea0000"/>
<circle cx="441.1" cy="64.9" r="1.45" fill="#ea0000"/>
<circle cx="426.9" cy="74.2" r="1.45" fill="#ea0000"/>
<circle cx="429.4" cy="65.6" r="1.45" fill="#ea0000"/>
<circle cx="440.9" cy="75.5" r="1.45" fill="#ea0000"/>
<circle cx="425.8" cy="91.0" r="1.45" fill="#ea0000"/>
<circle cx="448.9" cy="57.4" r="1.45" fill="#ea0000"/>
<circle cx="441.7" cy="91.0" r="1.45" fill="#ea0000"/>
<circle cx="445.1" cy="60.1" r="1.45" fill="#ea0000"/>
<circle cx="445.6" cy="69.9" r="1.45" fill="#ea0000"/>
<circle cx="445.0" cy="69.9" r="1.45" fill="#ea0000"/>
<circle cx="440.0" cy="79.4" r="1.45" fill="#ea0000"/>
<circle cx="428.8" cy="67.6" r="1.45" fill="#ea0000"/>
<circle cx="436.4" cy="71.5" r="1.45" fill="#ea0000"/>
<circle cx="447.1" cy="70.2" r="1.45" fill="#ea0000"/>
<circle cx="427.5" cy="75.7" r="1.45" fill="#ea0000"/>
<circle cx="443.3" cy="75.6" r="1.45" fill="#ea0000"/>
<circle cx="434.3" cy="70.7" r="1.45" fill="#ea0000"/>
<circle cx="438.2" cy="79.6" r="1.45" fill="#ea0000"/>
<circle cx="426.1" cy="85.4" r="1.45" fill="#ea0000"/>
<circle cx="445.3" cy="64.5" r="1.45" fill="#ea0000"/>
<circle cx="425.8" cy="65.2" r="1.45" fill="#ea0000"/>
<circle cx="431.2" cy="64.8" r="1.45" fill="#ea0000"/>
<circle cx="436.3" cy="64.2" r="1.45" fill="#ea0000"/>
<circle cx="430.2" cy="64.7" r="1.45" fill="#ea0000"/>
<circle cx="437.0" cy="71.6" r="1.45" fill="#ea0000"/>
<circle cx="439.7" cy="78.5" r="1.45" fill="#ea0000"/>
<circle cx="443.1" cy="64.4" r="1.45" fill="#ea0000"/>
<circle cx="448.2" cy="75.2" r="1.45" fill="#ea0000"/>
<circle cx="426.6" cy="66.9" r="1.45" fill="#ea0000"/>
<circle cx="429.4" cy="91.0" r="1.45" fill="#ea0000"/>
<circle cx="436.9" cy="73.4" r="1.45" fill="#ea0000"/>
<circle cx="426.1" cy="78.2" r="1.45" fill="#ea0000"/>
<circle cx="425.9" cy="61.4" r="1.45" fill="#ea0000"/>
<circle cx="445.2" cy="62.5" r="1.45" fill="#ea0000"/>
<circle cx="426.6" cy="73.0" r="1.45" fill="#ea0000"/>
<circle cx="433.5" cy="63.5" r="1.45" fill="#ea0000"/>
<circle cx="431.8" cy="70.4" r="1.45" fill="#ea0000"/>
<circle cx="446.5" cy="82.5" r="1.45" fill="#ea0000"/>
<circle cx="427.1" cy="63.8" r="1.45" fill="#ea0000"/>
<circle cx="433.8" cy="62.7" r="1.45" fill="#ea0000"/>
<circle cx="426.1" cy="72.5" r="1.45" fill="#ea0000"/>
<circle cx="446.5" cy="68.3" r="1.45" fill="#ea0000"/>
<circle cx="428.7" cy="77.0" r="1.45" fill="#ea0000"/>
<circle cx="429.8" cy="69.5" r="1.45" fill="#ea0000"/>
<circle cx="426.1" cy="60.5" r="1.45" fill="#ea0000"/>
<circle cx="426.1" cy="52.0" r="1.45" fill="#ea0000"/>
<circle cx="429.3" cy="74.2" r="1.45" fill="#ea0000"/>
<circle cx="445.8" cy="63.9" r="1.45" fill="#ea0000"/>
<line x1="371.8" y1="7" x2="371.8" y2="180" stroke="#444" stroke-width="0.7" stroke-dasharray="2,2"/>
<line x1="424.8" y1="7" x2="424.8" y2="180" stroke="#444" stroke-width="0.7" stroke-dasharray="2,2"/>
<line x1="295.4" y1="92.5" x2="490.7" y2="92.5" stroke="#444" stroke-width="0.7" stroke-dasharray="2,2"/>
<path d="M295.4 7 V180 H490.7" fill="none" stroke="#666" stroke-width="1"/>
<line x1="293.2" y1="173.7" x2="295.4" y2="173.7" stroke="#666" stroke-width="0.7"/>
<text x="290.8" y="176.4" font-size="7.0" fill="#444" font-family='"Liberation Serif", serif' text-anchor="end" stroke="#444" stroke-width="0.15">0</text>
<line x1="293.2" y1="106.2" x2="295.4" y2="106.2" stroke="#666" stroke-width="0.7"/>
<text x="290.8" y="108.9" font-size="7.0" fill="#444" font-family='"Liberation Serif", serif' text-anchor="end" stroke="#444" stroke-width="0.15">1</text>
<line x1="293.2" y1="66.7" x2="295.4" y2="66.7" stroke="#666" stroke-width="0.7"/>
<text x="290.8" y="69.4" font-size="7.0" fill="#444" font-family='"Liberation Serif", serif' text-anchor="end" stroke="#444" stroke-width="0.15">2</text>
<line x1="293.2" y1="38.7" x2="295.4" y2="38.7" stroke="#666" stroke-width="0.7"/>
<text x="290.8" y="41.4" font-size="7.0" fill="#444" font-family='"Liberation Serif", serif' text-anchor="end" stroke="#444" stroke-width="0.15">3</text>
<line x1="293.2" y1="16.9" x2="295.4" y2="16.9" stroke="#666" stroke-width="0.7"/>
<text x="290.8" y="19.6" font-size="7.0" fill="#444" font-family='"Liberation Serif", serif' text-anchor="end" stroke="#444" stroke-width="0.15">4</text>
<line x1="345.3" y1="180" x2="345.3" y2="182.2" stroke="#666" stroke-width="0.7"/>
<text x="345.3" y="189.9" font-size="7.0" fill="#444" font-family='"Liberation Serif", serif' text-anchor="middle" stroke="#444" stroke-width="0.15">-2</text>
<line x1="398.3" y1="180" x2="398.3" y2="182.2" stroke="#666" stroke-width="0.7"/>
<text x="398.3" y="189.9" font-size="7.0" fill="#444" font-family='"Liberation Serif", serif' text-anchor="middle" stroke="#444" stroke-width="0.15">0</text>
<line x1="451.3" y1="180" x2="451.3" y2="182.2" stroke="#666" stroke-width="0.7"/>
<text x="451.3" y="189.9" font-size="7.0" fill="#444" font-family='"Liberation Serif", serif' text-anchor="middle" stroke="#444" stroke-width="0.15">2</text>
<text x="373.3" y="200.4" font-size="9.2" fill="#333" font-family='"Liberation Serif", serif' textLength="37.7" lengthAdjust="spacingAndGlyphs" stroke="#333" stroke-width="0.15">log[2](FC)</text>
<text transform="translate(284.8 92.5) rotate(-90)" font-size="9.2" fill="#333" font-family='"Liberation Serif", serif' text-anchor="middle" textLength="59.7" lengthAdjust="spacingAndGlyphs">-log[10](PValue)</text>
<text x="304.3" y="27.4" font-size="8.7" fill="#333" font-family='"Liberation Sans", sans-serif' textLength="15.7" lengthAdjust="spacingAndGlyphs" stroke="#333" stroke-width="0.2">GLS</text>
<text x="301" y="51.8" font-size="8.7" fill="#333" font-family='"Liberation Sans", sans-serif' textLength="27.3" lengthAdjust="spacingAndGlyphs" stroke="#333" stroke-width="0.2">OGDHL</text>
<text x="330.5" y="30.8" font-size="8.7" fill="#333" font-family='"Liberation Sans", sans-serif' textLength="16.5" lengthAdjust="spacingAndGlyphs" stroke="#333" stroke-width="0.2">AUH</text>
<text x="453.7" y="45.3" font-size="8.7" fill="#333" font-family='"Liberation Sans", sans-serif' textLength="27.3" lengthAdjust="spacingAndGlyphs" stroke="#333" stroke-width="0.2">PRDX4</text>
<text x="451" y="68.5" font-size="8.7" fill="#333" font-family='"Liberation Sans", sans-serif' textLength="27.0" lengthAdjust="spacingAndGlyphs" stroke="#333" stroke-width="0.2">CASP3</text>
<text x="462" y="85.8" font-size="8.7" fill="#333" font-family='"Liberation Sans", sans-serif' textLength="20.5" lengthAdjust="spacingAndGlyphs" stroke="#333" stroke-width="0.2">AASS</text>
<text x="456" y="104.0" font-size="8.7" fill="#333" font-family='"Liberation Sans", sans-serif' textLength="23.4" lengthAdjust="spacingAndGlyphs" stroke="#333" stroke-width="0.2">SOD2</text>
<line x1="317" y1="37" x2="315.5" y2="43" stroke="#444" stroke-width="0.6"/>
<line x1="461.5" y1="89.5" x2="465" y2="95" stroke="#444" stroke-width="0.6"/>
<text x="270.7" y="11.1" font-size="10" fill="#1a1a1a" font-family='"Liberation Sans", sans-serif' font-weight="bold" textLength="6.6" lengthAdjust="spacingAndGlyphs">C</text>
<circle cx="509.8" cy="82.6" r="2.5" fill="#0000e0"/>
<text x="518.8" y="85.9" font-size="10.3" fill="#1a1a1a" font-family='"Liberation Serif", serif' textLength="23.8" lengthAdjust="spacingAndGlyphs" stroke="#1a1a1a" stroke-width="0.25">down</text>
<circle cx="509.8" cy="95.6" r="2.5" fill="#bfbfbf"/>
<text x="518.8" y="98.9" font-size="10.3" fill="#1a1a1a" font-family='"Liberation Serif", serif' textLength="24" lengthAdjust="spacingAndGlyphs" stroke="#1a1a1a" stroke-width="0.25">stable</text>
<circle cx="509.8" cy="108.2" r="2.5" fill="#ea0000"/>
<text x="518.8" y="111.5" font-size="10.3" fill="#1a1a1a" font-family='"Liberation Serif", serif' textLength="10.5" lengthAdjust="spacingAndGlyphs" stroke="#1a1a1a" stroke-width="0.25">up</text>
</g>
<g id="B">
<text x="5.1" y="205.5" font-size="10.5" fill="#1a1a1a" font-family='"Liberation Sans", sans-serif' font-weight="bold" textLength="7.4" lengthAdjust="spacingAndGlyphs">B</text>
<circle cx="57.2" cy="305.8" r="42" fill="none" stroke="#235a8a" stroke-width="1.9"/>
<circle cx="95.3" cy="288.8" r="29.3" fill="none" stroke="#f01a1e" stroke-width="1.9"/>
<text x="4.1" y="264.0" font-size="11.9" fill="#1f5689" font-family='"Liberation Serif", serif' font-weight="bold" textLength="40.7" lengthAdjust="spacingAndGlyphs">DIA-MS</text>
<text x="57" y="249.6" font-size="12.3" fill="#f01a1e" font-family='"Liberation Serif", serif' font-weight="bold" textLength="67" lengthAdjust="spacingAndGlyphs">MitoCarta3.0</text>
<text x="95.9" y="283.4" font-size="12.2" fill="#111" font-family='"Liberation Serif", serif' textLength="16.5" lengthAdjust="spacingAndGlyphs" stroke="#111" stroke-width="0.2">598</text>
<text x="72.6" y="301.6" font-size="12.2" fill="#111" font-family='"Liberation Serif", serif' textLength="16.0" lengthAdjust="spacingAndGlyphs" stroke="#111" stroke-width="0.2">538</text>
<text x="39.8" y="319.4" font-size="12.2" fill="#111" font-family='"Liberation Serif", serif' textLength="22.3" lengthAdjust="spacingAndGlyphs" stroke="#111" stroke-width="0.2">1993</text>
<path d="M180.4 307.4 L227.11 300.59 A47.2 47.2 0 1 1 146.33 274.73 Z" fill="#d84f4f"/>
<path d="M192 286.6 L192.00 239.60 A47 47 0 0 1 238.48 279.65 Z" fill="#2e7dbf"/>
<path d="M179 284.4 L145.16 251.49 A47.2 47.2 0 0 1 179.00 237.20 Z" fill="#8cbb4e"/>
<text x="162" y="229.6" font-size="11.9" fill="#111" font-family='"Liberation Serif", serif' textLength="40" lengthAdjust="spacingAndGlyphs" stroke="#111" stroke-width="0.2">69, 13%</text>
<line x1="161.6" y1="232" x2="160" y2="240.6" stroke="#333" stroke-width="0.7"/>
<text x="198.6" y="263.0" font-size="11.9" fill="#111" font-family='"Liberation Serif", serif' textLength="18.4" lengthAdjust="spacingAndGlyphs" stroke="#111" stroke-width="0.2">121,</text>
<text x="197" y="275.3" font-size="11.9" fill="#111" font-family='"Liberation Serif", serif' textLength="21" lengthAdjust="spacingAndGlyphs" stroke="#111" stroke-width="0.2">22%</text>
<text x="156.5" y="331.0" font-size="11.9" fill="#111" font-family='"Liberation Serif", serif' textLength="20.2" lengthAdjust="spacingAndGlyphs" stroke="#111" stroke-width="0.2">348,</text>
<text x="156.5" y="343.0" font-size="11.9" fill="#111" font-family='"Liberation Serif", serif' textLength="20.5" lengthAdjust="spacingAndGlyphs" stroke="#111" stroke-width="0.2">65%</text>
<rect x="228.8" y="329.5" width="5.2" height="5.1" fill="#2e7dbf"/>
<text x="237" y="335.9" font-size="11.3" fill="#1a1a1a" font-family='"Liberation Serif", serif' textLength="25" lengthAdjust="spacingAndGlyphs" stroke="#1a1a1a" stroke-width="0.25">down</text>
<rect x="228.8" y="345.5" width="5.2" height="5.1" fill="#d84f4f"/>
<text x="237" y="351.9" font-size="11.3" fill="#1a1a1a" font-family='"Liberation Serif", serif' textLength="26.4" lengthAdjust="spacingAndGlyphs" stroke="#1a1a1a" stroke-width="0.25">stable</text>
<rect x="228.8" y="361" width="5.2" height="5.1" fill="#8cbb4e"/>
<text x="237" y="367.4" font-size="11.3" fill="#1a1a1a" font-family='"Liberation Serif", serif' textLength="11.5" lengthAdjust="spacingAndGlyphs" stroke="#1a1a1a" stroke-width="0.25">up</text>
</g>
<g id="D">
<text x="270.7" y="205.2" font-size="10.5" fill="#1a1a1a" font-family='"Liberation Sans", sans-serif' font-weight="bold" textLength="7.2" lengthAdjust="spacingAndGlyphs">D</text>
<rect x="301.20" y="233.60" width="20.74" height="1.40" fill="#faa79c"/>
<rect x="321.74" y="233.60" width="20.74" height="1.40" fill="#fddcd8"/>
<rect x="342.28" y="233.60" width="20.74" height="1.40" fill="#fcc1b9"/>
<rect x="362.82" y="233.60" width="20.74" height="1.40" fill="#fde2de"/>
<rect x="383.37" y="233.60" width="20.74" height="1.40" fill="#fddad6"/>
<rect x="403.91" y="233.60" width="20.74" height="1.40" fill="#fef4f2"/>
<rect x="424.45" y="233.60" width="20.74" height="1.40" fill="#fcc8c1"/>
<rect x="444.99" y="233.60" width="20.74" height="1.40" fill="#a5dcf3"/>
<rect x="465.53" y="233.60" width="20.74" height="1.40" fill="#7dcded"/>
<rect x="486.08" y="233.60" width="20.74" height="1.40" fill="#cfedf8"/>
<rect x="506.62" y="233.60" width="20.74" height="1.40" fill="#fff7f6"/>
<rect x="527.16" y="233.60" width="20.74" height="1.40" fill="#22aae1"/>
<rect x="301.20" y="234.85" width="20.74" height="1.40" fill="#faaca2"/>
<rect x="321.74" y="234.85" width="20.74" height="1.40" fill="#fcc5be"/>
<rect x="342.28" y="234.85" width="20.74" height="1.40" fill="#fccfc9"/>
<rect x="362.82" y="234.85" width="20.74" height="1.40" fill="#fdd5d0"/>
<rect x="383.37" y="234.85" width="20.74" height="1.40" fill="#fcc6be"/>
<rect x="403.91" y="234.85" width="20.74" height="1.40" fill="#fff8f7"/>
<rect x="424.45" y="234.85" width="20.74" height="1.40" fill="#fbaea4"/>
<rect x="444.99" y="234.85" width="20.74" height="1.40" fill="#aee0f4"/>
<rect x="465.53" y="234.85" width="20.74" height="1.40" fill="#7ecded"/>
<rect x="486.08" y="234.85" width="20.74" height="1.40" fill="#aadef3"/>
<rect x="506.62" y="234.85" width="20.74" height="1.40" fill="#feedeb"/>
<rect x="527.16" y="234.85" width="20.74" height="1.40" fill="#039edc"/>
<rect x="301.20" y="236.10" width="20.74" height="1.40" fill="#faa297"/>
<rect x="321.74" y="236.10" width="20.74" height="1.40" fill="#fccbc4"/>
<rect x="342.28" y="236.10" width="20.74" height="1.40" fill="#fee5e1"/>
<rect x="362.82" y="236.10" width="20.74" height="1.40" fill="#fbb8af"/>
<rect x="383.37" y="236.10" width="20.74" height="1.40" fill="#fbbbb2"/>
<rect x="403.91" y="236.10" width="20.74" height="1.40" fill="#fef2f0"/>
<rect x="424.45" y="236.10" width="20.74" height="1.40" fill="#faaba1"/>
<rect x="444.99" y="236.10" width="20.74" height="1.40" fill="#88d1ef"/>
<rect x="465.53" y="236.10" width="20.74" height="1.40" fill="#6cc7eb"/>
<rect x="486.08" y="236.10" width="20.74" height="1.40" fill="#bbe5f6"/>
<rect x="506.62" y="236.10" width="20.74" height="1.40" fill="#fef1ef"/>
<rect x="527.16" y="236.10" width="20.74" height="1.40" fill="#11a4de"/>
<rect x="301.20" y="237.35" width="20.74" height="1.40" fill="#faa59a"/>
<rect x="321.74" y="237.35" width="20.74" height="1.40" fill="#fbb7ae"/>
<rect x="342.28" y="237.35" width="20.74" height="1.40" fill="#fdd9d4"/>
<rect x="362.82" y="237.35" width="20.74" height="1.40" fill="#fbbfb7"/>
<rect x="383.37" y="237.35" width="20.74" height="1.40" fill="#fbb7ae"/>
<rect x="403.91" y="237.35" width="20.74" height="1.40" fill="#fdd9d4"/>
<rect x="424.45" y="237.35" width="20.74" height="1.40" fill="#fbb5ab"/>
<rect x="444.99" y="237.35" width="20.74" height="1.40" fill="#9cd9f1"/>
<rect x="465.53" y="237.35" width="20.74" height="1.40" fill="#6ac6eb"/>
<rect x="486.08" y="237.35" width="20.74" height="1.40" fill="#e0f3fb"/>
<rect x="506.62" y="237.35" width="20.74" height="1.40" fill="#fee9e6"/>
<rect x="527.16" y="237.35" width="20.74" height="1.40" fill="#0ca1de"/>
<rect x="301.20" y="238.60" width="20.74" height="1.40" fill="#f99183"/>
<rect x="321.74" y="238.60" width="20.74" height="1.40" fill="#fcc6bf"/>
<rect x="342.28" y="238.60" width="20.74" height="1.40" fill="#fef2f0"/>
<rect x="362.82" y="238.60" width="20.74" height="1.40" fill="#fde1dd"/>
<rect x="383.37" y="238.60" width="20.74" height="1.40" fill="#fcc4bd"/>
<rect x="403.91" y="238.60" width="20.74" height="1.40" fill="#fcc1ba"/>
<rect x="424.45" y="238.60" width="20.74" height="1.40" fill="#faada2"/>
<rect x="444.99" y="238.60" width="20.74" height="1.40" fill="#afe0f4"/>
<rect x="465.53" y="238.60" width="20.74" height="1.40" fill="#8dd3ef"/>
<rect x="486.08" y="238.60" width="20.74" height="1.40" fill="#d0edf9"/>
<rect x="506.62" y="238.60" width="20.74" height="1.40" fill="#fde0dc"/>
<rect x="527.16" y="238.60" width="20.74" height="1.40" fill="#0ea2de"/>
<rect x="301.20" y="239.85" width="20.74" height="1.40" fill="#faa094"/>
<rect x="321.74" y="239.85" width="20.74" height="1.40" fill="#fcc8c1"/>
<rect x="342.28" y="239.85" width="20.74" height="1.40" fill="#feefed"/>
<rect x="362.82" y="239.85" width="20.74" height="1.40" fill="#fde2df"/>
<rect x="383.37" y="239.85" width="20.74" height="1.40" fill="#fcccc5"/>
<rect x="403.91" y="239.85" width="20.74" height="1.40" fill="#fcc5be"/>
<rect x="424.45" y="239.85" width="20.74" height="1.40" fill="#fbb0a6"/>
<rect x="444.99" y="239.85" width="20.74" height="1.40" fill="#d0edf8"/>
<rect x="465.53" y="239.85" width="20.74" height="1.40" fill="#76cbec"/>
<rect x="486.08" y="239.85" width="20.74" height="1.40" fill="#c6e9f7"/>
<rect x="506.62" y="239.85" width="20.74" height="1.40" fill="#feefed"/>
<rect x="527.16" y="239.85" width="20.74" height="1.40" fill="#39b3e4"/>
<rect x="301.20" y="241.10" width="20.74" height="1.40" fill="#fbafa5"/>
<rect x="321.74" y="241.10" width="20.74" height="1.40" fill="#fddcd8"/>
<rect x="342.28" y="241.10" width="20.74" height="1.40" fill="#fddcd7"/>
<rect x="362.82" y="241.10" width="20.74" height="1.40" fill="#fee9e7"/>
<rect x="383.37" y="241.10" width="20.74" height="1.40" fill="#fdd4cf"/>
<rect x="403.91" y="241.10" width="20.74" height="1.40" fill="#fcccc5"/>
<rect x="424.45" y="241.10" width="20.74" height="1.40" fill="#faa195"/>
<rect x="444.99" y="241.10" width="20.74" height="1.40" fill="#f7fcfe"/>
<rect x="465.53" y="241.10" width="20.74" height="1.40" fill="#82cfee"/>
<rect x="486.08" y="241.10" width="20.74" height="1.40" fill="#d6eff9"/>
<rect x="506.62" y="241.10" width="20.74" height="1.40" fill="#fdddd9"/>
<rect x="527.16" y="241.10" width="20.74" height="1.40" fill="#33b1e3"/>
<rect x="301.20" y="242.35" width="20.74" height="1.40" fill="#dbf1fa"/>
<rect x="321.74" y="242.35" width="20.74" height="1.40" fill="#fff8f8"/>
<rect x="342.28" y="242.35" width="20.74" height="1.40" fill="#f9998d"/>
<rect x="362.82" y="242.35" width="20.74" height="1.40" fill="#fccbc4"/>
<rect x="383.37" y="242.35" width="20.74" height="1.40" fill="#faa094"/>
<rect x="403.91" y="242.35" width="20.74" height="1.40" fill="#fdd8d3"/>
<rect x="424.45" y="242.35" width="20.74" height="1.40" fill="#fee4e1"/>
<rect x="444.99" y="242.35" width="20.74" height="1.40" fill="#fddbd6"/>
<rect x="465.53" y="242.35" width="20.74" height="1.40" fill="#fef3f1"/>
<rect x="486.08" y="242.35" width="20.74" height="1.40" fill="#a9def3"/>
<rect x="506.62" y="242.35" width="20.74" height="1.40" fill="#24abe1"/>
<rect x="527.16" y="242.35" width="20.74" height="1.40" fill="#6cc7eb"/>
<rect x="301.20" y="243.60" width="20.74" height="1.40" fill="#cbebf8"/>
<rect x="321.74" y="243.60" width="20.74" height="1.40" fill="#fdfeff"/>
<rect x="342.28" y="243.60" width="20.74" height="1.40" fill="#fa9e92"/>
<rect x="362.82" y="243.60" width="20.74" height="1.40" fill="#fccdc7"/>
<rect x="383.37" y="243.60" width="20.74" height="1.40" fill="#faa094"/>
<rect x="403.91" y="243.60" width="20.74" height="1.40" fill="#fdd2cd"/>
<rect x="424.45" y="243.60" width="20.74" height="1.40" fill="#fee8e6"/>
<rect x="444.99" y="243.60" width="20.74" height="1.40" fill="#feece9"/>
<rect x="465.53" y="243.60" width="20.74" height="1.40" fill="#feefed"/>
<rect x="486.08" y="243.60" width="20.74" height="1.40" fill="#a3dbf2"/>
<rect x="506.62" y="243.60" width="20.74" height="1.40" fill="#41b6e5"/>
<rect x="527.16" y="243.60" width="20.74" height="1.40" fill="#8dd3ef"/>
<rect x="301.20" y="244.85" width="20.74" height="1.40" fill="#b6e3f5"/>
<rect x="321.74" y="244.85" width="20.74" height="1.40" fill="#fde3df"/>
<rect x="342.28" y="244.85" width="20.74" height="1.40" fill="#faada3"/>
<rect x="362.82" y="244.85" width="20.74" height="1.40" fill="#fdd8d3"/>
<rect x="383.37" y="244.85" width="20.74" height="1.40" fill="#f98c7e"/>
<rect x="403.91" y="244.85" width="20.74" height="1.40" fill="#fddfdb"/>
<rect x="424.45" y="244.85" width="20.74" height="1.40" fill="#fdddd9"/>
<rect x="444.99" y="244.85" width="20.74" height="1.40" fill="#fde2de"/>
<rect x="465.53" y="244.85" width="20.74" height="1.40" fill="#fef0ee"/>
<rect x="486.08" y="244.85" width="20.74" height="1.40" fill="#8bd3ef"/>
<rect x="506.62" y="244.85" width="20.74" height="1.40" fill="#2daee2"/>
<rect x="527.16" y="244.85" width="20.74" height="1.40" fill="#6dc7eb"/>
<rect x="301.20" y="246.10" width="20.74" height="1.40" fill="#b5e3f5"/>
<rect x="321.74" y="246.10" width="20.74" height="1.40" fill="#fddbd7"/>
<rect x="342.28" y="246.10" width="20.74" height="1.40" fill="#faa296"/>
<rect x="362.82" y="246.10" width="20.74" height="1.40" fill="#fbb8b0"/>
<rect x="383.37" y="246.10" width="20.74" height="1.40" fill="#fa9c8f"/>
<rect x="403.91" y="246.10" width="20.74" height="1.40" fill="#feebe9"/>
<rect x="424.45" y="246.10" width="20.74" height="1.40" fill="#fff6f5"/>
<rect x="444.99" y="246.10" width="20.74" height="1.40" fill="#fde0dd"/>
<rect x="465.53" y="246.10" width="20.74" height="1.40" fill="#f7fcfe"/>
<rect x="486.08" y="246.10" width="20.74" height="1.40" fill="#85d0ee"/>
<rect x="506.62" y="246.10" width="20.74" height="1.40" fill="#27ace1"/>
<rect x="527.16" y="246.10" width="20.74" height="1.40" fill="#7acced"/>
<rect x="301.20" y="247.35" width="20.74" height="1.40" fill="#cbebf8"/>
<rect x="321.74" y="247.35" width="20.74" height="1.40" fill="#fef0ee"/>
<rect x="342.28" y="247.35" width="20.74" height="1.40" fill="#fbbbb2"/>
<rect x="362.82" y="247.35" width="20.74" height="1.40" fill="#faaba0"/>
<rect x="383.37" y="247.35" width="20.74" height="1.40" fill="#f98c7d"/>
<rect x="403.91" y="247.35" width="20.74" height="1.40" fill="#fffefe"/>
<rect x="424.45" y="247.35" width="20.74" height="1.40" fill="#fffdfc"/>
<rect x="444.99" y="247.35" width="20.74" height="1.40" fill="#fee7e4"/>
<rect x="465.53" y="247.35" width="20.74" height="1.40" fill="#f1fafd"/>
<rect x="486.08" y="247.35" width="20.74" height="1.40" fill="#86d1ee"/>
<rect x="506.62" y="247.35" width="20.74" height="1.40" fill="#14a5df"/>
<rect x="527.16" y="247.35" width="20.74" height="1.40" fill="#4fbbe7"/>
<rect x="301.20" y="248.60" width="20.74" height="1.40" fill="#f7fcfe"/>
<rect x="321.74" y="248.60" width="20.74" height="1.40" fill="#ebf7fc"/>
<rect x="342.28" y="248.60" width="20.74" height="1.40" fill="#faaca2"/>
<rect x="362.82" y="248.60" width="20.74" height="1.40" fill="#fbb2a9"/>
<rect x="383.37" y="248.60" width="20.74" height="1.40" fill="#faa498"/>
<rect x="403.91" y="248.60" width="20.74" height="1.40" fill="#fee9e7"/>
<rect x="424.45" y="248.60" width="20.74" height="1.40" fill="#fee6e3"/>
<rect x="444.99" y="248.60" width="20.74" height="1.40" fill="#fff7f6"/>
<rect x="465.53" y="248.60" width="20.74" height="1.40" fill="#e1f3fb"/>
<rect x="486.08" y="248.60" width="20.74" height="1.40" fill="#55bee8"/>
<rect x="506.62" y="248.60" width="20.74" height="1.40" fill="#37b2e4"/>
<rect x="527.16" y="248.60" width="20.74" height="1.40" fill="#32b0e3"/>
<rect x="301.20" y="249.85" width="20.74" height="1.40" fill="#fdfeff"/>
<rect x="321.74" y="249.85" width="20.74" height="1.40" fill="#eef8fd"/>
<rect x="342.28" y="249.85" width="20.74" height="1.40" fill="#fbb4ab"/>
<rect x="362.82" y="249.85" width="20.74" height="1.40" fill="#fcc1b9"/>
<rect x="383.37" y="249.85" width="20.74" height="1.40" fill="#fcccc6"/>
<rect x="403.91" y="249.85" width="20.74" height="1.40" fill="#d0edf9"/>
<rect x="424.45" y="249.85" width="20.74" height="1.40" fill="#fdd8d3"/>
<rect x="444.99" y="249.85" width="20.74" height="1.40" fill="#f5fbfe"/>
<rect x="465.53" y="249.85" width="20.74" height="1.40" fill="#fdded9"/>
<rect x="486.08" y="249.85" width="20.74" height="1.40" fill="#63c3ea"/>
<rect x="506.62" y="249.85" width="20.74" height="1.40" fill="#59bfe8"/>
<rect x="527.16" y="249.85" width="20.74" height="1.40" fill="#71c8ec"/>
<rect x="301.20" y="251.10" width="20.74" height="1.40" fill="#fef0ee"/>
<rect x="321.74" y="251.10" width="20.74" height="1.40" fill="#fee6e3"/>
<rect x="342.28" y="251.10" width="20.74" height="1.40" fill="#fbb1a7"/>
<rect x="362.82" y="251.10" width="20.74" height="1.40" fill="#fbbdb5"/>
<rect x="383.37" y="251.10" width="20.74" height="1.40" fill="#fddcd7"/>
<rect x="403.91" y="251.10" width="20.74" height="1.40" fill="#e8f6fc"/>
<rect x="424.45" y="251.10" width="20.74" height="1.40" fill="#fddad5"/>
<rect x="444.99" y="251.10" width="20.74" height="1.40" fill="#d7eff9"/>
<rect x="465.53" y="251.10" width="20.74" height="1.40" fill="#fccbc4"/>
<rect x="486.08" y="251.10" width="20.74" height="1.40" fill="#51bce7"/>
<rect x="506.62" y="251.10" width="20.74" height="1.40" fill="#64c3ea"/>
<rect x="527.16" y="251.10" width="20.74" height="1.40" fill="#b2e2f4"/>
<rect x="301.20" y="252.35" width="20.74" height="1.40" fill="#fdd7d2"/>
<rect x="321.74" y="252.35" width="20.74" height="1.40" fill="#fee4e1"/>
<rect x="342.28" y="252.35" width="20.74" height="1.40" fill="#fcc8c1"/>
<rect x="362.82" y="252.35" width="20.74" height="1.40" fill="#fcc3bc"/>
<rect x="383.37" y="252.35" width="20.74" height="1.40" fill="#fdd7d2"/>
<rect x="403.91" y="252.35" width="20.74" height="1.40" fill="#bfe6f6"/>
<rect x="424.45" y="252.35" width="20.74" height="1.40" fill="#fbb6ad"/>
<rect x="444.99" y="252.35" width="20.74" height="1.40" fill="#c1e7f6"/>
<rect x="465.53" y="252.35" width="20.74" height="1.40" fill="#fbbdb5"/>
<rect x="486.08" y="252.35" width="20.74" height="1.40" fill="#48b9e6"/>
<rect x="506.62" y="252.35" width="20.74" height="1.40" fill="#72c9ec"/>
<rect x="527.16" y="252.35" width="20.74" height="1.40" fill="#b0e1f4"/>
<rect x="301.20" y="253.60" width="20.74" height="1.40" fill="#fdd6d1"/>
<rect x="321.74" y="253.60" width="20.74" height="1.40" fill="#fde1de"/>
<rect x="342.28" y="253.60" width="20.74" height="1.40" fill="#fcc3bb"/>
<rect x="362.82" y="253.60" width="20.74" height="1.40" fill="#fcc0b8"/>
<rect x="383.37" y="253.60" width="20.74" height="1.40" fill="#fbbcb4"/>
<rect x="403.91" y="253.60" width="20.74" height="1.40" fill="#c1e7f6"/>
<rect x="424.45" y="253.60" width="20.74" height="1.40" fill="#fddad5"/>
<rect x="444.99" y="253.60" width="20.74" height="1.40" fill="#d5eff9"/>
<rect x="465.53" y="253.60" width="20.74" height="1.40" fill="#fdd8d3"/>
<rect x="486.08" y="253.60" width="20.74" height="1.40" fill="#5bc0e8"/>
<rect x="506.62" y="253.60" width="20.74" height="1.40" fill="#7acced"/>
<rect x="527.16" y="253.60" width="20.74" height="1.40" fill="#d9f0fa"/>
<rect x="301.20" y="254.85" width="20.74" height="1.40" fill="#fdd6d1"/>
<rect x="321.74" y="254.85" width="20.74" height="1.40" fill="#fef4f3"/>
<rect x="342.28" y="254.85" width="20.74" height="1.40" fill="#fdd7d2"/>
<rect x="362.82" y="254.85" width="20.74" height="1.40" fill="#fbbdb5"/>
<rect x="383.37" y="254.85" width="20.74" height="1.40" fill="#fbaea4"/>
<rect x="403.91" y="254.85" width="20.74" height="1.40" fill="#d2eef9"/>
<rect x="424.45" y="254.85" width="20.74" height="1.40" fill="#ffffff"/>
<rect x="444.99" y="254.85" width="20.74" height="1.40" fill="#cfedf8"/>
<rect x="465.53" y="254.85" width="20.74" height="1.40" fill="#fee5e2"/>
<rect x="486.08" y="254.85" width="20.74" height="1.40" fill="#9bd9f1"/>
<rect x="506.62" y="254.85" width="20.74" height="1.40" fill="#38b3e4"/>
<rect x="527.16" y="254.85" width="20.74" height="1.40" fill="#c2e8f7"/>
<rect x="301.20" y="256.10" width="20.74" height="1.40" fill="#fdddd9"/>
<rect x="321.74" y="256.10" width="20.74" height="1.40" fill="#feefed"/>
<rect x="342.28" y="256.10" width="20.74" height="1.40" fill="#fcc3bc"/>
<rect x="362.82" y="256.10" width="20.74" height="1.40" fill="#fcc0b9"/>
<rect x="383.37" y="256.10" width="20.74" height="1.40" fill="#fbb0a6"/>
<rect x="403.91" y="256.10" width="20.74" height="1.40" fill="#ffffff"/>
<rect x="424.45" y="256.10" width="20.74" height="1.40" fill="#e2f4fb"/>
<rect x="444.99" y="256.10" width="20.74" height="1.40" fill="#eff9fd"/>
<rect x="465.53" y="256.10" width="20.74" height="1.40" fill="#fff9f9"/>
<rect x="486.08" y="256.10" width="20.74" height="1.40" fill="#95d6f1"/>
<rect x="506.62" y="256.10" width="20.74" height="1.40" fill="#3cb4e4"/>
<rect x="527.16" y="256.10" width="20.74" height="1.40" fill="#84d0ee"/>
<rect x="301.20" y="257.35" width="20.74" height="1.40" fill="#ecf8fc"/>
<rect x="321.74" y="257.35" width="20.74" height="1.40" fill="#fffbfa"/>
<rect x="342.28" y="257.35" width="20.74" height="1.40" fill="#fbb8af"/>
<rect x="362.82" y="257.35" width="20.74" height="1.40" fill="#fbb8af"/>
<rect x="383.37" y="257.35" width="20.74" height="1.40" fill="#fbb0a6"/>
<rect x="403.91" y="257.35" width="20.74" height="1.40" fill="#fef1ef"/>
<rect x="424.45" y="257.35" width="20.74" height="1.40" fill="#d9f0fa"/>
<rect x="444.99" y="257.35" width="20.74" height="1.40" fill="#fafdfe"/>
<rect x="465.53" y="257.35" width="20.74" height="1.40" fill="#caebf8"/>
<rect x="486.08" y="257.35" width="20.74" height="1.40" fill="#47b8e6"/>
<rect x="506.62" y="257.35" width="20.74" height="1.40" fill="#47b8e6"/>
<rect x="527.16" y="257.35" width="20.74" height="1.40" fill="#5dc1e9"/>
<rect x="301.20" y="258.60" width="20.74" height="1.40" fill="#fcfeff"/>
<rect x="321.74" y="258.60" width="20.74" height="1.40" fill="#fffcfc"/>
<rect x="342.28" y="258.60" width="20.74" height="1.40" fill="#f99b8e"/>
<rect x="362.82" y="258.60" width="20.74" height="1.40" fill="#fbb4ab"/>
<rect x="383.37" y="258.60" width="20.74" height="1.40" fill="#fbbeb6"/>
<rect x="403.91" y="258.60" width="20.74" height="1.40" fill="#fcd1cc"/>
<rect x="424.45" y="258.60" width="20.74" height="1.40" fill="#fff7f6"/>
<rect x="444.99" y="258.60" width="20.74" height="1.40" fill="#f5fbfe"/>
<rect x="465.53" y="258.60" width="20.74" height="1.40" fill="#f3fafd"/>
<rect x="486.08" y="258.60" width="20.74" height="1.40" fill="#3db4e4"/>
<rect x="506.62" y="258.60" width="20.74" height="1.40" fill="#50bce7"/>
<rect x="527.16" y="258.60" width="20.74" height="1.40" fill="#5fc2e9"/>
<rect x="301.20" y="259.85" width="20.74" height="1.40" fill="#feedea"/>
<rect x="321.74" y="259.85" width="20.74" height="1.40" fill="#fcfeff"/>
<rect x="342.28" y="259.85" width="20.74" height="1.40" fill="#fbb1a7"/>
<rect x="362.82" y="259.85" width="20.74" height="1.40" fill="#fa9e92"/>
<rect x="383.37" y="259.85" width="20.74" height="1.40" fill="#fddfdb"/>
<rect x="403.91" y="259.85" width="20.74" height="1.40" fill="#fddfdb"/>
<rect x="424.45" y="259.85" width="20.74" height="1.40" fill="#fee9e6"/>
<rect x="444.99" y="259.85" width="20.74" height="1.40" fill="#fff9f8"/>
<rect x="465.53" y="259.85" width="20.74" height="1.40" fill="#e8f6fc"/>
<rect x="486.08" y="259.85" width="20.74" height="1.40" fill="#23aae1"/>
<rect x="506.62" y="259.85" width="20.74" height="1.40" fill="#66c4ea"/>
<rect x="527.16" y="259.85" width="20.74" height="1.40" fill="#69c5ea"/>
<rect x="301.20" y="261.10" width="20.74" height="1.40" fill="#fde0dc"/>
<rect x="321.74" y="261.10" width="20.74" height="1.40" fill="#d2eef9"/>
<rect x="342.28" y="261.10" width="20.74" height="1.40" fill="#fbb6ad"/>
<rect x="362.82" y="261.10" width="20.74" height="1.40" fill="#faa59a"/>
<rect x="383.37" y="261.10" width="20.74" height="1.40" fill="#fee5e1"/>
<rect x="403.91" y="261.10" width="20.74" height="1.40" fill="#fdd6d1"/>
<rect x="424.45" y="261.10" width="20.74" height="1.40" fill="#fdd8d3"/>
<rect x="444.99" y="261.10" width="20.74" height="1.40" fill="#fffcfc"/>
<rect x="465.53" y="261.10" width="20.74" height="1.40" fill="#ccebf8"/>
<rect x="486.08" y="261.10" width="20.74" height="1.40" fill="#5bc0e8"/>
<rect x="506.62" y="261.10" width="20.74" height="1.40" fill="#56bee8"/>
<rect x="527.16" y="261.10" width="20.74" height="1.40" fill="#74caec"/>
<rect x="301.20" y="262.35" width="20.74" height="1.40" fill="#fef2f1"/>
<rect x="321.74" y="262.35" width="20.74" height="1.40" fill="#e6f6fc"/>
<rect x="342.28" y="262.35" width="20.74" height="1.40" fill="#faaca2"/>
<rect x="362.82" y="262.35" width="20.74" height="1.40" fill="#fbaea4"/>
<rect x="383.37" y="262.35" width="20.74" height="1.40" fill="#fccfc9"/>
<rect x="403.91" y="262.35" width="20.74" height="1.40" fill="#fcc4bd"/>
<rect x="424.45" y="262.35" width="20.74" height="1.40" fill="#fccec8"/>
<rect x="444.99" y="262.35" width="20.74" height="1.40" fill="#fffcfb"/>
<rect x="465.53" y="262.35" width="20.74" height="1.40" fill="#b8e4f5"/>
<rect x="486.08" y="262.35" width="20.74" height="1.40" fill="#48b9e6"/>
<rect x="506.62" y="262.35" width="20.74" height="1.40" fill="#1ca8e0"/>
<rect x="527.16" y="262.35" width="20.74" height="1.40" fill="#5bc0e8"/>
<rect x="301.20" y="263.60" width="20.74" height="1.40" fill="#feeae7"/>
<rect x="321.74" y="263.60" width="20.74" height="1.40" fill="#f7fcfe"/>
<rect x="342.28" y="263.60" width="20.74" height="1.40" fill="#fbafa5"/>
<rect x="362.82" y="263.60" width="20.74" height="1.40" fill="#fbada3"/>
<rect x="383.37" y="263.60" width="20.74" height="1.40" fill="#fbbeb6"/>
<rect x="403.91" y="263.60" width="20.74" height="1.40" fill="#fcccc6"/>
<rect x="424.45" y="263.60" width="20.74" height="1.40" fill="#fddfdb"/>
<rect x="444.99" y="263.60" width="20.74" height="1.40" fill="#fccbc4"/>
<rect x="465.53" y="263.60" width="20.74" height="1.40" fill="#fffefd"/>
<rect x="486.08" y="263.60" width="20.74" height="1.40" fill="#54bde8"/>
<rect x="506.62" y="263.60" width="20.74" height="1.40" fill="#17a6df"/>
<rect x="527.16" y="263.60" width="20.74" height="1.40" fill="#59bfe8"/>
<rect x="301.20" y="264.85" width="20.74" height="1.40" fill="#fef5f4"/>
<rect x="321.74" y="264.85" width="20.74" height="1.40" fill="#ffffff"/>
<rect x="342.28" y="264.85" width="20.74" height="1.40" fill="#faa094"/>
<rect x="362.82" y="264.85" width="20.74" height="1.40" fill="#faa59a"/>
<rect x="383.37" y="264.85" width="20.74" height="1.40" fill="#fbb8af"/>
<rect x="403.91" y="264.85" width="20.74" height="1.40" fill="#fddfdb"/>
<rect x="424.45" y="264.85" width="20.74" height="1.40" fill="#f7fcfe"/>
<rect x="444.99" y="264.85" width="20.74" height="1.40" fill="#fddcd8"/>
<rect x="465.53" y="264.85" width="20.74" height="1.40" fill="#fdd8d3"/>
<rect x="486.08" y="264.85" width="20.74" height="1.40" fill="#22aae1"/>
<rect x="506.62" y="264.85" width="20.74" height="1.40" fill="#b1e1f4"/>
<rect x="527.16" y="264.85" width="20.74" height="1.40" fill="#43b7e5"/>
<rect x="301.20" y="266.10" width="20.74" height="1.40" fill="#fddbd7"/>
<rect x="321.74" y="266.10" width="20.74" height="1.40" fill="#fffefe"/>
<rect x="342.28" y="266.10" width="20.74" height="1.40" fill="#f9978a"/>
<rect x="362.82" y="266.10" width="20.74" height="1.40" fill="#fbb9b0"/>
<rect x="383.37" y="266.10" width="20.74" height="1.40" fill="#fcc0b9"/>
<rect x="403.91" y="266.10" width="20.74" height="1.40" fill="#fddbd7"/>
<rect x="424.45" y="266.10" width="20.74" height="1.40" fill="#fee8e6"/>
<rect x="444.99" y="266.10" width="20.74" height="1.40" fill="#fde1de"/>
<rect x="465.53" y="266.10" width="20.74" height="1.40" fill="#fccac3"/>
<rect x="486.08" y="266.10" width="20.74" height="1.40" fill="#0ea2de"/>
<rect x="506.62" y="266.10" width="20.74" height="1.40" fill="#7dcded"/>
<rect x="527.16" y="266.10" width="20.74" height="1.40" fill="#4bbae6"/>
<rect x="301.20" y="267.35" width="20.74" height="1.40" fill="#fddad6"/>
<rect x="321.74" y="267.35" width="20.74" height="1.40" fill="#f2fafd"/>
<rect x="342.28" y="267.35" width="20.74" height="1.40" fill="#f9998d"/>
<rect x="362.82" y="267.35" width="20.74" height="1.40" fill="#faaa9f"/>
<rect x="383.37" y="267.35" width="20.74" height="1.40" fill="#fbb6ad"/>
<rect x="403.91" y="267.35" width="20.74" height="1.40" fill="#fddfdb"/>
<rect x="424.45" y="267.35" width="20.74" height="1.40" fill="#fff7f6"/>
<rect x="444.99" y="267.35" width="20.74" height="1.40" fill="#fde0dd"/>
<rect x="465.53" y="267.35" width="20.74" height="1.40" fill="#fcd1cb"/>
<rect x="486.08" y="267.35" width="20.74" height="1.40" fill="#07a0dd"/>
<rect x="506.62" y="267.35" width="20.74" height="1.40" fill="#79cced"/>
<rect x="527.16" y="267.35" width="20.74" height="1.40" fill="#6fc8eb"/>
<rect x="301.20" y="268.60" width="20.74" height="1.40" fill="#fde1dd"/>
<rect x="321.74" y="268.60" width="20.74" height="1.40" fill="#f5fbfe"/>
<rect x="342.28" y="268.60" width="20.74" height="1.40" fill="#faa499"/>
<rect x="362.82" y="268.60" width="20.74" height="1.40" fill="#fbb1a7"/>
<rect x="383.37" y="268.60" width="20.74" height="1.40" fill="#fdd8d3"/>
<rect x="403.91" y="268.60" width="20.74" height="1.40" fill="#fccbc4"/>
<rect x="424.45" y="268.60" width="20.74" height="1.40" fill="#e8f6fc"/>
<rect x="444.99" y="268.60" width="20.74" height="1.40" fill="#fef3f2"/>
<rect x="465.53" y="268.60" width="20.74" height="1.40" fill="#fee6e3"/>
<rect x="486.08" y="268.60" width="20.74" height="1.40" fill="#009ddc"/>
<rect x="506.62" y="268.60" width="20.74" height="1.40" fill="#53bde7"/>
<rect x="527.16" y="268.60" width="20.74" height="1.40" fill="#67c4ea"/>
<rect x="301.20" y="269.85" width="20.74" height="1.40" fill="#fddad5"/>
<rect x="321.74" y="269.85" width="20.74" height="1.40" fill="#feeeeb"/>
<rect x="342.28" y="269.85" width="20.74" height="1.40" fill="#fa9c90"/>
<rect x="362.82" y="269.85" width="20.74" height="1.40" fill="#fbb1a8"/>
<rect x="383.37" y="269.85" width="20.74" height="1.40" fill="#fcc7bf"/>
<rect x="403.91" y="269.85" width="20.74" height="1.40" fill="#fcc2ba"/>
<rect x="424.45" y="269.85" width="20.74" height="1.40" fill="#f7fcfe"/>
<rect x="444.99" y="269.85" width="20.74" height="1.40" fill="#fffdfc"/>
<rect x="465.53" y="269.85" width="20.74" height="1.40" fill="#feeae7"/>
<rect x="486.08" y="269.85" width="20.74" height="1.40" fill="#19a7df"/>
<rect x="506.62" y="269.85" width="20.74" height="1.40" fill="#7eceed"/>
<rect x="527.16" y="269.85" width="20.74" height="1.40" fill="#63c3ea"/>
<rect x="301.20" y="271.10" width="20.74" height="1.40" fill="#fee6e3"/>
<rect x="321.74" y="271.10" width="20.74" height="1.40" fill="#fef5f4"/>
<rect x="342.28" y="271.10" width="20.74" height="1.40" fill="#faa195"/>
<rect x="362.82" y="271.10" width="20.74" height="1.40" fill="#fdd5cf"/>
<rect x="383.37" y="271.10" width="20.74" height="1.40" fill="#fcc0b8"/>
<rect x="403.91" y="271.10" width="20.74" height="1.40" fill="#fbbdb5"/>
<rect x="424.45" y="271.10" width="20.74" height="1.40" fill="#a7ddf3"/>
<rect x="444.99" y="271.10" width="20.74" height="1.40" fill="#fff8f7"/>
<rect x="465.53" y="271.10" width="20.74" height="1.40" fill="#feedea"/>
<rect x="486.08" y="271.10" width="20.74" height="1.40" fill="#069fdd"/>
<rect x="506.62" y="271.10" width="20.74" height="1.40" fill="#c9eaf8"/>
<rect x="527.16" y="271.10" width="20.74" height="1.40" fill="#24abe1"/>
<rect x="301.20" y="272.35" width="20.74" height="1.40" fill="#fdd4ce"/>
<rect x="321.74" y="272.35" width="20.74" height="1.40" fill="#fdd8d3"/>
<rect x="342.28" y="272.35" width="20.74" height="1.40" fill="#faa89e"/>
<rect x="362.82" y="272.35" width="20.74" height="1.40" fill="#fcc5be"/>
<rect x="383.37" y="272.35" width="20.74" height="1.40" fill="#fbbdb4"/>
<rect x="403.91" y="272.35" width="20.74" height="1.40" fill="#fddcd8"/>
<rect x="424.45" y="272.35" width="20.74" height="1.40" fill="#d7f0fa"/>
<rect x="444.99" y="272.35" width="20.74" height="1.40" fill="#fffdfd"/>
<rect x="465.53" y="272.35" width="20.74" height="1.40" fill="#fffcfb"/>
<rect x="486.08" y="272.35" width="20.74" height="1.40" fill="#3db4e4"/>
<rect x="506.62" y="272.35" width="20.74" height="1.40" fill="#92d5f0"/>
<rect x="527.16" y="272.35" width="20.74" height="1.40" fill="#42b7e5"/>
<rect x="301.20" y="273.60" width="20.74" height="1.40" fill="#fdddd9"/>
<rect x="321.74" y="273.60" width="20.74" height="1.40" fill="#fee9e6"/>
<rect x="342.28" y="273.60" width="20.74" height="1.40" fill="#fbb2a9"/>
<rect x="362.82" y="273.60" width="20.74" height="1.40" fill="#fbbdb4"/>
<rect x="383.37" y="273.60" width="20.74" height="1.40" fill="#fcd2cc"/>
<rect x="403.91" y="273.60" width="20.74" height="1.40" fill="#feebe8"/>
<rect x="424.45" y="273.60" width="20.74" height="1.40" fill="#b5e3f5"/>
<rect x="444.99" y="273.60" width="20.74" height="1.40" fill="#f3fafd"/>
<rect x="465.53" y="273.60" width="20.74" height="1.40" fill="#fffbfa"/>
<rect x="486.08" y="273.60" width="20.74" height="1.40" fill="#1fa9e0"/>
<rect x="506.62" y="273.60" width="20.74" height="1.40" fill="#a0dbf2"/>
<rect x="527.16" y="273.60" width="20.74" height="1.40" fill="#34b1e3"/>
<rect x="301.20" y="274.85" width="20.74" height="1.40" fill="#fdd9d4"/>
<rect x="321.74" y="274.85" width="20.74" height="1.40" fill="#fdd9d4"/>
<rect x="342.28" y="274.85" width="20.74" height="1.40" fill="#fbb4aa"/>
<rect x="362.82" y="274.85" width="20.74" height="1.40" fill="#fcc0b8"/>
<rect x="383.37" y="274.85" width="20.74" height="1.40" fill="#fdd4cf"/>
<rect x="403.91" y="274.85" width="20.74" height="1.40" fill="#fafdfe"/>
<rect x="424.45" y="274.85" width="20.74" height="1.40" fill="#c5e9f7"/>
<rect x="444.99" y="274.85" width="20.74" height="1.40" fill="#fffbfb"/>
<rect x="465.53" y="274.85" width="20.74" height="1.40" fill="#fee4e1"/>
<rect x="486.08" y="274.85" width="20.74" height="1.40" fill="#38b3e4"/>
<rect x="506.62" y="274.85" width="20.74" height="1.40" fill="#7dcded"/>
<rect x="527.16" y="274.85" width="20.74" height="1.40" fill="#43b7e5"/>
<rect x="301.20" y="276.10" width="20.74" height="1.40" fill="#fddfda"/>
<rect x="321.74" y="276.10" width="20.74" height="1.40" fill="#fdd9d4"/>
<rect x="342.28" y="276.10" width="20.74" height="1.40" fill="#faaa9f"/>
<rect x="362.82" y="276.10" width="20.74" height="1.40" fill="#fbb0a6"/>
<rect x="383.37" y="276.10" width="20.74" height="1.40" fill="#fde1dd"/>
<rect x="403.91" y="276.10" width="20.74" height="1.40" fill="#fef2f0"/>
<rect x="424.45" y="276.10" width="20.74" height="1.40" fill="#cdecf8"/>
<rect x="444.99" y="276.10" width="20.74" height="1.40" fill="#eef9fd"/>
<rect x="465.53" y="276.10" width="20.74" height="1.40" fill="#fff8f7"/>
<rect x="486.08" y="276.10" width="20.74" height="1.40" fill="#2eafe2"/>
<rect x="506.62" y="276.10" width="20.74" height="1.40" fill="#73c9ec"/>
<rect x="527.16" y="276.10" width="20.74" height="1.40" fill="#49b9e6"/>
<rect x="301.20" y="277.35" width="20.74" height="1.40" fill="#fddfdb"/>
<rect x="321.74" y="277.35" width="20.74" height="1.40" fill="#feeeec"/>
<rect x="342.28" y="277.35" width="20.74" height="1.40" fill="#faa89d"/>
<rect x="362.82" y="277.35" width="20.74" height="1.40" fill="#fcc2bb"/>
<rect x="383.37" y="277.35" width="20.74" height="1.40" fill="#fdd8d3"/>
<rect x="403.91" y="277.35" width="20.74" height="1.40" fill="#feebe8"/>
<rect x="424.45" y="277.35" width="20.74" height="1.40" fill="#c3e8f7"/>
<rect x="444.99" y="277.35" width="20.74" height="1.40" fill="#eff9fd"/>
<rect x="465.53" y="277.35" width="20.74" height="1.40" fill="#fef5f3"/>
<rect x="486.08" y="277.35" width="20.74" height="1.40" fill="#009ddc"/>
<rect x="506.62" y="277.35" width="20.74" height="1.40" fill="#99d8f1"/>
<rect x="527.16" y="277.35" width="20.74" height="1.40" fill="#38b3e4"/>
<rect x="301.20" y="278.60" width="20.74" height="1.40" fill="#fcd1cb"/>
<rect x="321.74" y="278.60" width="20.74" height="1.40" fill="#fddfdb"/>
<rect x="342.28" y="278.60" width="20.74" height="1.40" fill="#faa59a"/>
<rect x="362.82" y="278.60" width="20.74" height="1.40" fill="#faa499"/>
<rect x="383.37" y="278.60" width="20.74" height="1.40" fill="#fcc6bf"/>
<rect x="403.91" y="278.60" width="20.74" height="1.40" fill="#fde0dc"/>
<rect x="424.45" y="278.60" width="20.74" height="1.40" fill="#b8e4f5"/>
<rect x="444.99" y="278.60" width="20.74" height="1.40" fill="#f9fdfe"/>
<rect x="465.53" y="278.60" width="20.74" height="1.40" fill="#fef1ef"/>
<rect x="486.08" y="278.60" width="20.74" height="1.40" fill="#0da2de"/>
<rect x="506.62" y="278.60" width="20.74" height="1.40" fill="#8ad2ef"/>
<rect x="527.16" y="278.60" width="20.74" height="1.40" fill="#60c2e9"/>
<rect x="301.20" y="279.85" width="20.74" height="1.40" fill="#fccac3"/>
<rect x="321.74" y="279.85" width="20.74" height="1.40" fill="#fee6e3"/>
<rect x="342.28" y="279.85" width="20.74" height="1.40" fill="#fa9d90"/>
<rect x="362.82" y="279.85" width="20.74" height="1.40" fill="#fbb9b0"/>
<rect x="383.37" y="279.85" width="20.74" height="1.40" fill="#fde0dc"/>
<rect x="403.91" y="279.85" width="20.74" height="1.40" fill="#fdd7d2"/>
<rect x="424.45" y="279.85" width="20.74" height="1.40" fill="#fffefe"/>
<rect x="444.99" y="279.85" width="20.74" height="1.40" fill="#76caec"/>
<rect x="465.53" y="279.85" width="20.74" height="1.40" fill="#c4e8f7"/>
<rect x="486.08" y="279.85" width="20.74" height="1.40" fill="#19a7df"/>
<rect x="506.62" y="279.85" width="20.74" height="1.40" fill="#6ac6eb"/>
<rect x="527.16" y="279.85" width="20.74" height="1.40" fill="#009ddc"/>
<rect x="301.20" y="281.10" width="20.74" height="1.40" fill="#fdd6d0"/>
<rect x="321.74" y="281.10" width="20.74" height="1.40" fill="#fffefe"/>
<rect x="342.28" y="281.10" width="20.74" height="1.40" fill="#fa9f93"/>
<rect x="362.82" y="281.10" width="20.74" height="1.40" fill="#fbb0a6"/>
<rect x="383.37" y="281.10" width="20.74" height="1.40" fill="#fdd6d1"/>
<rect x="403.91" y="281.10" width="20.74" height="1.40" fill="#fee9e6"/>
<rect x="424.45" y="281.10" width="20.74" height="1.40" fill="#ccebf8"/>
<rect x="444.99" y="281.10" width="20.74" height="1.40" fill="#6fc8eb"/>
<rect x="465.53" y="281.10" width="20.74" height="1.40" fill="#95d6f0"/>
<rect x="486.08" y="281.10" width="20.74" height="1.40" fill="#10a3de"/>
<rect x="506.62" y="281.10" width="20.74" height="1.40" fill="#79cced"/>
<rect x="527.16" y="281.10" width="20.74" height="1.40" fill="#1da8e0"/>
<rect x="301.20" y="282.35" width="20.74" height="1.40" fill="#fdd2cd"/>
<rect x="321.74" y="282.35" width="20.74" height="1.40" fill="#c0e7f6"/>
<rect x="342.28" y="282.35" width="20.74" height="1.40" fill="#faa398"/>
<rect x="362.82" y="282.35" width="20.74" height="1.40" fill="#fa9c90"/>
<rect x="383.37" y="282.35" width="20.74" height="1.40" fill="#feeeeb"/>
<rect x="403.91" y="282.35" width="20.74" height="1.40" fill="#fff9f9"/>
<rect x="424.45" y="282.35" width="20.74" height="1.40" fill="#e5f5fb"/>
<rect x="444.99" y="282.35" width="20.74" height="1.40" fill="#69c5ea"/>
<rect x="465.53" y="282.35" width="20.74" height="1.40" fill="#aadef3"/>
<rect x="486.08" y="282.35" width="20.74" height="1.40" fill="#26abe1"/>
<rect x="506.62" y="282.35" width="20.74" height="1.40" fill="#91d5f0"/>
<rect x="527.16" y="282.35" width="20.74" height="1.40" fill="#1ba7e0"/>
<rect x="301.20" y="283.60" width="20.74" height="1.40" fill="#fee8e5"/>
<rect x="321.74" y="283.60" width="20.74" height="1.40" fill="#cfedf8"/>
<rect x="342.28" y="283.60" width="20.74" height="1.40" fill="#faa498"/>
<rect x="362.82" y="283.60" width="20.74" height="1.40" fill="#faaba1"/>
<rect x="383.37" y="283.60" width="20.74" height="1.40" fill="#fddfdb"/>
<rect x="403.91" y="283.60" width="20.74" height="1.40" fill="#fddbd6"/>
<rect x="424.45" y="283.60" width="20.74" height="1.40" fill="#edf8fd"/>
<rect x="444.99" y="283.60" width="20.74" height="1.40" fill="#50bce7"/>
<rect x="465.53" y="283.60" width="20.74" height="1.40" fill="#b9e4f5"/>
<rect x="486.08" y="283.60" width="20.74" height="1.40" fill="#3cb4e4"/>
<rect x="506.62" y="283.60" width="20.74" height="1.40" fill="#5dc1e9"/>
<rect x="527.16" y="283.60" width="20.74" height="1.40" fill="#45b8e6"/>
<rect x="301.20" y="284.85" width="20.74" height="1.40" fill="#feedeb"/>
<rect x="321.74" y="284.85" width="20.74" height="1.40" fill="#f5fbfe"/>
<rect x="342.28" y="284.85" width="20.74" height="1.40" fill="#faaca1"/>
<rect x="362.82" y="284.85" width="20.74" height="1.40" fill="#fbb8af"/>
<rect x="383.37" y="284.85" width="20.74" height="1.40" fill="#fdd9d4"/>
<rect x="403.91" y="284.85" width="20.74" height="1.40" fill="#fccdc7"/>
<rect x="424.45" y="284.85" width="20.74" height="1.40" fill="#bfe6f6"/>
<rect x="444.99" y="284.85" width="20.74" height="1.40" fill="#50bce7"/>
<rect x="465.53" y="284.85" width="20.74" height="1.40" fill="#ebf7fc"/>
<rect x="486.08" y="284.85" width="20.74" height="1.40" fill="#5ec1e9"/>
<rect x="506.62" y="284.85" width="20.74" height="1.40" fill="#7eceed"/>
<rect x="527.16" y="284.85" width="20.74" height="1.40" fill="#42b6e5"/>
<rect x="301.20" y="286.10" width="20.74" height="1.40" fill="#fcd0ca"/>
<rect x="321.74" y="286.10" width="20.74" height="1.40" fill="#fff9f8"/>
<rect x="342.28" y="286.10" width="20.74" height="1.40" fill="#fbb1a7"/>
<rect x="362.82" y="286.10" width="20.74" height="1.40" fill="#fbb7ae"/>
<rect x="383.37" y="286.10" width="20.74" height="1.40" fill="#fcc4bc"/>
<rect x="403.91" y="286.10" width="20.74" height="1.40" fill="#fdd5d0"/>
<rect x="424.45" y="286.10" width="20.74" height="1.40" fill="#fff9f8"/>
<rect x="444.99" y="286.10" width="20.74" height="1.40" fill="#39b3e4"/>
<rect x="465.53" y="286.10" width="20.74" height="1.40" fill="#daf1fa"/>
<rect x="486.08" y="286.10" width="20.74" height="1.40" fill="#4ab9e6"/>
<rect x="506.62" y="286.10" width="20.74" height="1.40" fill="#7ecded"/>
<rect x="527.16" y="286.10" width="20.74" height="1.40" fill="#31b0e3"/>
<rect x="301.20" y="287.35" width="20.74" height="1.40" fill="#fdddd8"/>
<rect x="321.74" y="287.35" width="20.74" height="1.40" fill="#fef6f5"/>
<rect x="342.28" y="287.35" width="20.74" height="1.40" fill="#faa195"/>
<rect x="362.82" y="287.35" width="20.74" height="1.40" fill="#fbb4aa"/>
<rect x="383.37" y="287.35" width="20.74" height="1.40" fill="#fcc9c2"/>
<rect x="403.91" y="287.35" width="20.74" height="1.40" fill="#fcc2bb"/>
<rect x="424.45" y="287.35" width="20.74" height="1.40" fill="#f2fafd"/>
<rect x="444.99" y="287.35" width="20.74" height="1.40" fill="#50bce7"/>
<rect x="465.53" y="287.35" width="20.74" height="1.40" fill="#d3eef9"/>
<rect x="486.08" y="287.35" width="20.74" height="1.40" fill="#43b7e5"/>
<rect x="506.62" y="287.35" width="20.74" height="1.40" fill="#a1dbf2"/>
<rect x="527.16" y="287.35" width="20.74" height="1.40" fill="#20a9e0"/>
<rect x="301.20" y="288.60" width="20.74" height="1.40" fill="#fccfc9"/>
<rect x="321.74" y="288.60" width="20.74" height="1.40" fill="#fee4e1"/>
<rect x="342.28" y="288.60" width="20.74" height="1.40" fill="#fbbfb7"/>
<rect x="362.82" y="288.60" width="20.74" height="1.40" fill="#fbaea4"/>
<rect x="383.37" y="288.60" width="20.74" height="1.40" fill="#faaca1"/>
<rect x="403.91" y="288.60" width="20.74" height="1.40" fill="#fccec8"/>
<rect x="424.45" y="288.60" width="20.74" height="1.40" fill="#d3eef9"/>
<rect x="444.99" y="288.60" width="20.74" height="1.40" fill="#86d1ee"/>
<rect x="465.53" y="288.60" width="20.74" height="1.40" fill="#c9eaf8"/>
<rect x="486.08" y="288.60" width="20.74" height="1.40" fill="#4dbbe7"/>
<rect x="506.62" y="288.60" width="20.74" height="1.40" fill="#b4e2f5"/>
<rect x="527.16" y="288.60" width="20.74" height="1.40" fill="#2caee2"/>
<rect x="301.20" y="289.85" width="20.74" height="1.40" fill="#fcc4bd"/>
<rect x="321.74" y="289.85" width="20.74" height="1.40" fill="#feffff"/>
<rect x="342.28" y="289.85" width="20.74" height="1.40" fill="#faa094"/>
<rect x="362.82" y="289.85" width="20.74" height="1.40" fill="#faa89d"/>
<rect x="383.37" y="289.85" width="20.74" height="1.40" fill="#faaba1"/>
<rect x="403.91" y="289.85" width="20.74" height="1.40" fill="#fcc0b8"/>
<rect x="424.45" y="289.85" width="20.74" height="1.40" fill="#fffefe"/>
<rect x="444.99" y="289.85" width="20.74" height="1.40" fill="#9ad8f1"/>
<rect x="465.53" y="289.85" width="20.74" height="1.40" fill="#b4e2f5"/>
<rect x="486.08" y="289.85" width="20.74" height="1.40" fill="#1ba7e0"/>
<rect x="506.62" y="289.85" width="20.74" height="1.40" fill="#b5e2f5"/>
<rect x="527.16" y="289.85" width="20.74" height="1.40" fill="#29ade2"/>
<rect x="301.20" y="291.10" width="20.74" height="1.40" fill="#fcc6be"/>
<rect x="321.74" y="291.10" width="20.74" height="1.40" fill="#d8f0fa"/>
<rect x="342.28" y="291.10" width="20.74" height="1.40" fill="#fbafa5"/>
<rect x="362.82" y="291.10" width="20.74" height="1.40" fill="#faa59a"/>
<rect x="383.37" y="291.10" width="20.74" height="1.40" fill="#faa69b"/>
<rect x="403.91" y="291.10" width="20.74" height="1.40" fill="#fdd4ce"/>
<rect x="424.45" y="291.10" width="20.74" height="1.40" fill="#feeae8"/>
<rect x="444.99" y="291.10" width="20.74" height="1.40" fill="#aadef3"/>
<rect x="465.53" y="291.10" width="20.74" height="1.40" fill="#f3fbfd"/>
<rect x="486.08" y="291.10" width="20.74" height="1.40" fill="#3eb5e5"/>
<rect x="506.62" y="291.10" width="20.74" height="1.40" fill="#99d8f1"/>
<rect x="527.16" y="291.10" width="20.74" height="1.40" fill="#2caee2"/>
<rect x="301.20" y="292.35" width="20.74" height="1.40" fill="#fddcd8"/>
<rect x="321.74" y="292.35" width="20.74" height="1.40" fill="#f3fafd"/>
<rect x="342.28" y="292.35" width="20.74" height="1.40" fill="#fbbab1"/>
<rect x="362.82" y="292.35" width="20.74" height="1.40" fill="#f99588"/>
<rect x="383.37" y="292.35" width="20.74" height="1.40" fill="#fcc9c3"/>
<rect x="403.91" y="292.35" width="20.74" height="1.40" fill="#fde3df"/>
<rect x="424.45" y="292.35" width="20.74" height="1.40" fill="#feeae7"/>
<rect x="444.99" y="292.35" width="20.74" height="1.40" fill="#bae4f6"/>
<rect x="465.53" y="292.35" width="20.74" height="1.40" fill="#80ceee"/>
<rect x="486.08" y="292.35" width="20.74" height="1.40" fill="#41b6e5"/>
<rect x="506.62" y="292.35" width="20.74" height="1.40" fill="#67c5ea"/>
<rect x="527.16" y="292.35" width="20.74" height="1.40" fill="#35b1e3"/>
<rect x="301.20" y="293.60" width="20.74" height="1.40" fill="#fcc9c2"/>
<rect x="321.74" y="293.60" width="20.74" height="1.40" fill="#fffcfc"/>
<rect x="342.28" y="293.60" width="20.74" height="1.40" fill="#fbbdb5"/>
<rect x="362.82" y="293.60" width="20.74" height="1.40" fill="#fa9f92"/>
<rect x="383.37" y="293.60" width="20.74" height="1.40" fill="#fcd0ca"/>
<rect x="403.91" y="293.60" width="20.74" height="1.40" fill="#fff7f6"/>
<rect x="424.45" y="293.60" width="20.74" height="1.40" fill="#fdd5cf"/>
<rect x="444.99" y="293.60" width="20.74" height="1.40" fill="#a1dbf2"/>
<rect x="465.53" y="293.60" width="20.74" height="1.40" fill="#9ddaf2"/>
<rect x="486.08" y="293.60" width="20.74" height="1.40" fill="#39b3e4"/>
<rect x="506.62" y="293.60" width="20.74" height="1.40" fill="#74c9ec"/>
<rect x="527.16" y="293.60" width="20.74" height="1.40" fill="#3eb5e4"/>
<rect x="301.20" y="294.85" width="20.74" height="1.40" fill="#fdd4cf"/>
<rect x="321.74" y="294.85" width="20.74" height="1.40" fill="#feedea"/>
<rect x="342.28" y="294.85" width="20.74" height="1.40" fill="#fcc3bb"/>
<rect x="362.82" y="294.85" width="20.74" height="1.40" fill="#faa59a"/>
<rect x="383.37" y="294.85" width="20.74" height="1.40" fill="#fde1dd"/>
<rect x="403.91" y="294.85" width="20.74" height="1.40" fill="#fffcfb"/>
<rect x="424.45" y="294.85" width="20.74" height="1.40" fill="#fdd2cc"/>
<rect x="444.99" y="294.85" width="20.74" height="1.40" fill="#94d6f0"/>
<rect x="465.53" y="294.85" width="20.74" height="1.40" fill="#bce5f6"/>
<rect x="486.08" y="294.85" width="20.74" height="1.40" fill="#45b7e5"/>
<rect x="506.62" y="294.85" width="20.74" height="1.40" fill="#47b8e6"/>
<rect x="527.16" y="294.85" width="20.74" height="1.40" fill="#49b9e6"/>
<rect x="301.20" y="296.10" width="20.74" height="1.40" fill="#fdd5cf"/>
<rect x="321.74" y="296.10" width="20.74" height="1.40" fill="#fee7e4"/>
<rect x="342.28" y="296.10" width="20.74" height="1.40" fill="#fbbcb3"/>
<rect x="362.82" y="296.10" width="20.74" height="1.40" fill="#fbafa5"/>
<rect x="383.37" y="296.10" width="20.74" height="1.40" fill="#fddcd8"/>
<rect x="403.91" y="296.10" width="20.74" height="1.40" fill="#fde2df"/>
<rect x="424.45" y="296.10" width="20.74" height="1.40" fill="#93d5f0"/>
<rect x="444.99" y="296.10" width="20.74" height="1.40" fill="#fef2f0"/>
<rect x="465.53" y="296.10" width="20.74" height="1.40" fill="#fafdfe"/>
<rect x="486.08" y="296.10" width="20.74" height="1.40" fill="#9ad8f1"/>
<rect x="506.62" y="296.10" width="20.74" height="1.40" fill="#8ad2ef"/>
<rect x="527.16" y="296.10" width="20.74" height="1.40" fill="#52bde7"/>
<rect x="301.20" y="297.35" width="20.74" height="1.40" fill="#fff9f8"/>
<rect x="321.74" y="297.35" width="20.74" height="1.40" fill="#fef2f1"/>
<rect x="342.28" y="297.35" width="20.74" height="1.40" fill="#fbafa5"/>
<rect x="362.82" y="297.35" width="20.74" height="1.40" fill="#fbafa4"/>
<rect x="383.37" y="297.35" width="20.74" height="1.40" fill="#fbbcb4"/>
<rect x="403.91" y="297.35" width="20.74" height="1.40" fill="#fdddd8"/>
<rect x="424.45" y="297.35" width="20.74" height="1.40" fill="#8ad2ef"/>
<rect x="444.99" y="297.35" width="20.74" height="1.40" fill="#fffefd"/>
<rect x="465.53" y="297.35" width="20.74" height="1.40" fill="#fff7f6"/>
<rect x="486.08" y="297.35" width="20.74" height="1.40" fill="#90d4f0"/>
<rect x="506.62" y="297.35" width="20.74" height="1.40" fill="#89d2ef"/>
<rect x="527.16" y="297.35" width="20.74" height="1.40" fill="#71c9ec"/>
<rect x="301.20" y="298.60" width="20.74" height="1.40" fill="#fef0ef"/>
<rect x="321.74" y="298.60" width="20.74" height="1.40" fill="#feeae7"/>
<rect x="342.28" y="298.60" width="20.74" height="1.40" fill="#faa89d"/>
<rect x="362.82" y="298.60" width="20.74" height="1.40" fill="#fbbeb6"/>
<rect x="383.37" y="298.60" width="20.74" height="1.40" fill="#fbb4ab"/>
<rect x="403.91" y="298.60" width="20.74" height="1.40" fill="#fee4e1"/>
<rect x="424.45" y="298.60" width="20.74" height="1.40" fill="#84d0ee"/>
<rect x="444.99" y="298.60" width="20.74" height="1.40" fill="#feedeb"/>
<rect x="465.53" y="298.60" width="20.74" height="1.40" fill="#fef0ee"/>
<rect x="486.08" y="298.60" width="20.74" height="1.40" fill="#94d6f0"/>
<rect x="506.62" y="298.60" width="20.74" height="1.40" fill="#a7ddf3"/>
<rect x="527.16" y="298.60" width="20.74" height="1.40" fill="#6ac6eb"/>
<rect x="301.20" y="299.85" width="20.74" height="1.40" fill="#fef4f3"/>
<rect x="321.74" y="299.85" width="20.74" height="1.40" fill="#fee4e1"/>
<rect x="342.28" y="299.85" width="20.74" height="1.40" fill="#faa297"/>
<rect x="362.82" y="299.85" width="20.74" height="1.40" fill="#fbbbb2"/>
<rect x="383.37" y="299.85" width="20.74" height="1.40" fill="#faa99e"/>
<rect x="403.91" y="299.85" width="20.74" height="1.40" fill="#feece9"/>
<rect x="424.45" y="299.85" width="20.74" height="1.40" fill="#98d7f1"/>
<rect x="444.99" y="299.85" width="20.74" height="1.40" fill="#fee4e1"/>
<rect x="465.53" y="299.85" width="20.74" height="1.40" fill="#feeeec"/>
<rect x="486.08" y="299.85" width="20.74" height="1.40" fill="#7dcded"/>
<rect x="506.62" y="299.85" width="20.74" height="1.40" fill="#a5dcf3"/>
<rect x="527.16" y="299.85" width="20.74" height="1.40" fill="#41b6e5"/>
<rect x="301.20" y="301.10" width="20.74" height="1.40" fill="#fdd8d3"/>
<rect x="321.74" y="301.10" width="20.74" height="1.40" fill="#fdd5d0"/>
<rect x="342.28" y="301.10" width="20.74" height="1.40" fill="#f99588"/>
<rect x="362.82" y="301.10" width="20.74" height="1.40" fill="#faaca2"/>
<rect x="383.37" y="301.10" width="20.74" height="1.40" fill="#fbbab1"/>
<rect x="403.91" y="301.10" width="20.74" height="1.40" fill="#fff7f6"/>
<rect x="424.45" y="301.10" width="20.74" height="1.40" fill="#a1dbf2"/>
<rect x="444.99" y="301.10" width="20.74" height="1.40" fill="#feffff"/>
<rect x="465.53" y="301.10" width="20.74" height="1.40" fill="#fee7e4"/>
<rect x="486.08" y="301.10" width="20.74" height="1.40" fill="#95d6f0"/>
<rect x="506.62" y="301.10" width="20.74" height="1.40" fill="#c0e7f6"/>
<rect x="527.16" y="301.10" width="20.74" height="1.40" fill="#5fc2e9"/>
<rect x="301.20" y="302.35" width="20.74" height="1.40" fill="#fbbab1"/>
<rect x="321.74" y="302.35" width="20.74" height="1.40" fill="#fcccc5"/>
<rect x="342.28" y="302.35" width="20.74" height="1.40" fill="#faa094"/>
<rect x="362.82" y="302.35" width="20.74" height="1.40" fill="#fbafa5"/>
<rect x="383.37" y="302.35" width="20.74" height="1.40" fill="#fccbc4"/>
<rect x="403.91" y="302.35" width="20.74" height="1.40" fill="#fde3df"/>
<rect x="424.45" y="302.35" width="20.74" height="1.40" fill="#b2e2f4"/>
<rect x="444.99" y="302.35" width="20.74" height="1.40" fill="#ecf8fc"/>
<rect x="465.53" y="302.35" width="20.74" height="1.40" fill="#fcc6be"/>
<rect x="486.08" y="302.35" width="20.74" height="1.40" fill="#87d1ee"/>
<rect x="506.62" y="302.35" width="20.74" height="1.40" fill="#cbebf8"/>
<rect x="527.16" y="302.35" width="20.74" height="1.40" fill="#27ace1"/>
<rect x="301.20" y="303.60" width="20.74" height="1.40" fill="#fcc2ba"/>
<rect x="321.74" y="303.60" width="20.74" height="1.40" fill="#fcd1cc"/>
<rect x="342.28" y="303.60" width="20.74" height="1.40" fill="#faa196"/>
<rect x="362.82" y="303.60" width="20.74" height="1.40" fill="#fbafa5"/>
<rect x="383.37" y="303.60" width="20.74" height="1.40" fill="#fccec8"/>
<rect x="403.91" y="303.60" width="20.74" height="1.40" fill="#fcd0ca"/>
<rect x="424.45" y="303.60" width="20.74" height="1.40" fill="#9fdaf2"/>
<rect x="444.99" y="303.60" width="20.74" height="1.40" fill="#e6f5fc"/>
<rect x="465.53" y="303.60" width="20.74" height="1.40" fill="#fee5e2"/>
<rect x="486.08" y="303.60" width="20.74" height="1.40" fill="#9fdaf2"/>
<rect x="506.62" y="303.60" width="20.74" height="1.40" fill="#e3f4fb"/>
<rect x="527.16" y="303.60" width="20.74" height="1.40" fill="#2baee2"/>
<rect x="301.20" y="304.85" width="20.74" height="1.40" fill="#faaca1"/>
<rect x="321.74" y="304.85" width="20.74" height="1.40" fill="#fdd9d4"/>
<rect x="342.28" y="304.85" width="20.74" height="1.40" fill="#fa9d91"/>
<rect x="362.82" y="304.85" width="20.74" height="1.40" fill="#faa59a"/>
<rect x="383.37" y="304.85" width="20.74" height="1.40" fill="#fdd4cf"/>
<rect x="403.91" y="304.85" width="20.74" height="1.40" fill="#fddfdb"/>
<rect x="424.45" y="304.85" width="20.74" height="1.40" fill="#9fdaf2"/>
<rect x="444.99" y="304.85" width="20.74" height="1.40" fill="#fdfeff"/>
<rect x="465.53" y="304.85" width="20.74" height="1.40" fill="#feedeb"/>
<rect x="486.08" y="304.85" width="20.74" height="1.40" fill="#a9def3"/>
<rect x="506.62" y="304.85" width="20.74" height="1.40" fill="#d8f0fa"/>
<rect x="527.16" y="304.85" width="20.74" height="1.40" fill="#23aae1"/>
<rect x="301.20" y="306.10" width="20.74" height="1.40" fill="#fcc5be"/>
<rect x="321.74" y="306.10" width="20.74" height="1.40" fill="#fddcd7"/>
<rect x="342.28" y="306.10" width="20.74" height="1.40" fill="#fa9f92"/>
<rect x="362.82" y="306.10" width="20.74" height="1.40" fill="#fcc0b8"/>
<rect x="383.37" y="306.10" width="20.74" height="1.40" fill="#fcccc6"/>
<rect x="403.91" y="306.10" width="20.74" height="1.40" fill="#fde1de"/>
<rect x="424.45" y="306.10" width="20.74" height="1.40" fill="#93d5f0"/>
<rect x="444.99" y="306.10" width="20.74" height="1.40" fill="#d3eef9"/>
<rect x="465.53" y="306.10" width="20.74" height="1.40" fill="#fee4e1"/>
<rect x="486.08" y="306.10" width="20.74" height="1.40" fill="#a1dbf2"/>
<rect x="506.62" y="306.10" width="20.74" height="1.40" fill="#d6eff9"/>
<rect x="527.16" y="306.10" width="20.74" height="1.40" fill="#10a3de"/>
<rect x="301.20" y="307.35" width="20.74" height="1.40" fill="#fcc5bd"/>
<rect x="321.74" y="307.35" width="20.74" height="1.40" fill="#fdd2cd"/>
<rect x="342.28" y="307.35" width="20.74" height="1.40" fill="#f99a8d"/>
<rect x="362.82" y="307.35" width="20.74" height="1.40" fill="#faa99e"/>
<rect x="383.37" y="307.35" width="20.74" height="1.40" fill="#fcd1cc"/>
<rect x="403.91" y="307.35" width="20.74" height="1.40" fill="#fff6f5"/>
<rect x="424.45" y="307.35" width="20.74" height="1.40" fill="#85d0ee"/>
<rect x="444.99" y="307.35" width="20.74" height="1.40" fill="#eff9fd"/>
<rect x="465.53" y="307.35" width="20.74" height="1.40" fill="#fdfeff"/>
<rect x="486.08" y="307.35" width="20.74" height="1.40" fill="#9dd9f2"/>
<rect x="506.62" y="307.35" width="20.74" height="1.40" fill="#e1f4fb"/>
<rect x="527.16" y="307.35" width="20.74" height="1.40" fill="#25abe1"/>
<rect x="301.20" y="308.60" width="20.74" height="1.40" fill="#fcc4bd"/>
<rect x="321.74" y="308.60" width="20.74" height="1.40" fill="#feecea"/>
<rect x="342.28" y="308.60" width="20.74" height="1.40" fill="#fbb3a9"/>
<rect x="362.82" y="308.60" width="20.74" height="1.40" fill="#faada3"/>
<rect x="383.37" y="308.60" width="20.74" height="1.40" fill="#fcc7bf"/>
<rect x="403.91" y="308.60" width="20.74" height="1.40" fill="#feebe9"/>
<rect x="424.45" y="308.60" width="20.74" height="1.40" fill="#8cd3ef"/>
<rect x="444.99" y="308.60" width="20.74" height="1.40" fill="#fffbfa"/>
<rect x="465.53" y="308.60" width="20.74" height="1.40" fill="#fef4f2"/>
<rect x="486.08" y="308.60" width="20.74" height="1.40" fill="#b0e1f4"/>
<rect x="506.62" y="308.60" width="20.74" height="1.40" fill="#afe0f4"/>
<rect x="527.16" y="308.60" width="20.74" height="1.40" fill="#1ca8e0"/>
<rect x="301.20" y="309.85" width="20.74" height="1.40" fill="#fbbdb5"/>
<rect x="321.74" y="309.85" width="20.74" height="1.40" fill="#feefed"/>
<rect x="342.28" y="309.85" width="20.74" height="1.40" fill="#fbb1a7"/>
<rect x="362.82" y="309.85" width="20.74" height="1.40" fill="#fbb5ac"/>
<rect x="383.37" y="309.85" width="20.74" height="1.40" fill="#fddeda"/>
<rect x="403.91" y="309.85" width="20.74" height="1.40" fill="#fef4f2"/>
<rect x="424.45" y="309.85" width="20.74" height="1.40" fill="#7fceed"/>
<rect x="444.99" y="309.85" width="20.74" height="1.40" fill="#f2fafd"/>
<rect x="465.53" y="309.85" width="20.74" height="1.40" fill="#feefec"/>
<rect x="486.08" y="309.85" width="20.74" height="1.40" fill="#83cfee"/>
<rect x="506.62" y="309.85" width="20.74" height="1.40" fill="#82cfee"/>
<rect x="527.16" y="309.85" width="20.74" height="1.40" fill="#38b3e4"/>
<rect x="301.20" y="311.10" width="20.74" height="1.40" fill="#fbb8af"/>
<rect x="321.74" y="311.10" width="20.74" height="1.40" fill="#fde3df"/>
<rect x="342.28" y="311.10" width="20.74" height="1.40" fill="#fbb8b0"/>
<rect x="362.82" y="311.10" width="20.74" height="1.40" fill="#fbb6ad"/>
<rect x="383.37" y="311.10" width="20.74" height="1.40" fill="#fee4e1"/>
<rect x="403.91" y="311.10" width="20.74" height="1.40" fill="#fef4f3"/>
<rect x="424.45" y="311.10" width="20.74" height="1.40" fill="#96d7f1"/>
<rect x="444.99" y="311.10" width="20.74" height="1.40" fill="#f3fafd"/>
<rect x="465.53" y="311.10" width="20.74" height="1.40" fill="#eef8fd"/>
<rect x="486.08" y="311.10" width="20.74" height="1.40" fill="#82cfee"/>
<rect x="506.62" y="311.10" width="20.74" height="1.40" fill="#b2e1f4"/>
<rect x="527.16" y="311.10" width="20.74" height="1.40" fill="#26ace1"/>
<rect x="301.20" y="312.35" width="20.74" height="1.40" fill="#fbb7ae"/>
<rect x="321.74" y="312.35" width="20.74" height="1.40" fill="#fddad5"/>
<rect x="342.28" y="312.35" width="20.74" height="1.40" fill="#fbb7ae"/>
<rect x="362.82" y="312.35" width="20.74" height="1.40" fill="#fcc4bd"/>
<rect x="383.37" y="312.35" width="20.74" height="1.40" fill="#fef0ee"/>
<rect x="403.91" y="312.35" width="20.74" height="1.40" fill="#fffcfc"/>
<rect x="424.45" y="312.35" width="20.74" height="1.40" fill="#a2dbf2"/>
<rect x="444.99" y="312.35" width="20.74" height="1.40" fill="#fdd8d4"/>
<rect x="465.53" y="312.35" width="20.74" height="1.40" fill="#dcf2fa"/>
<rect x="486.08" y="312.35" width="20.74" height="1.40" fill="#60c2e9"/>
<rect x="506.62" y="312.35" width="20.74" height="1.40" fill="#aee0f4"/>
<rect x="527.16" y="312.35" width="20.74" height="1.40" fill="#1fa9e0"/>
<rect x="301.20" y="313.60" width="20.74" height="1.40" fill="#fbb2a8"/>
<rect x="321.74" y="313.60" width="20.74" height="1.40" fill="#fcccc6"/>
<rect x="342.28" y="313.60" width="20.74" height="1.40" fill="#faaa9f"/>
<rect x="362.82" y="313.60" width="20.74" height="1.40" fill="#fcc0b8"/>
<rect x="383.37" y="313.60" width="20.74" height="1.40" fill="#fef2f0"/>
<rect x="403.91" y="313.60" width="20.74" height="1.40" fill="#fdfeff"/>
<rect x="424.45" y="313.60" width="20.74" height="1.40" fill="#8fd4f0"/>
<rect x="444.99" y="313.60" width="20.74" height="1.40" fill="#fdd7d2"/>
<rect x="465.53" y="313.60" width="20.74" height="1.40" fill="#d5eff9"/>
<rect x="486.08" y="313.60" width="20.74" height="1.40" fill="#3db5e4"/>
<rect x="506.62" y="313.60" width="20.74" height="1.40" fill="#afe0f4"/>
<rect x="527.16" y="313.60" width="20.74" height="1.40" fill="#4ebbe7"/>
<rect x="301.20" y="314.85" width="20.74" height="1.40" fill="#fddad5"/>
<rect x="321.74" y="314.85" width="20.74" height="1.40" fill="#fde0dc"/>
<rect x="342.28" y="314.85" width="20.74" height="1.40" fill="#fbb0a6"/>
<rect x="362.82" y="314.85" width="20.74" height="1.40" fill="#fbbeb6"/>
<rect x="383.37" y="314.85" width="20.74" height="1.40" fill="#fddbd7"/>
<rect x="403.91" y="314.85" width="20.74" height="1.40" fill="#fffcfc"/>
<rect x="424.45" y="314.85" width="20.74" height="1.40" fill="#ddf2fa"/>
<rect x="444.99" y="314.85" width="20.74" height="1.40" fill="#fde3e0"/>
<rect x="465.53" y="314.85" width="20.74" height="1.40" fill="#d8f0fa"/>
<rect x="486.08" y="314.85" width="20.74" height="1.40" fill="#26ace1"/>
<rect x="506.62" y="314.85" width="20.74" height="1.40" fill="#9fdaf2"/>
<rect x="527.16" y="314.85" width="20.74" height="1.40" fill="#40b6e5"/>
<rect x="301.20" y="316.10" width="20.74" height="1.40" fill="#fde0dd"/>
<rect x="321.74" y="316.10" width="20.74" height="1.40" fill="#fddcd8"/>
<rect x="342.28" y="316.10" width="20.74" height="1.40" fill="#faaca2"/>
<rect x="362.82" y="316.10" width="20.74" height="1.40" fill="#fbb7ae"/>
<rect x="383.37" y="316.10" width="20.74" height="1.40" fill="#fdd2cd"/>
<rect x="403.91" y="316.10" width="20.74" height="1.40" fill="#fafdfe"/>
<rect x="424.45" y="316.10" width="20.74" height="1.40" fill="#ccebf8"/>
<rect x="444.99" y="316.10" width="20.74" height="1.40" fill="#fdd6d1"/>
<rect x="465.53" y="316.10" width="20.74" height="1.40" fill="#f8fcfe"/>
<rect x="486.08" y="316.10" width="20.74" height="1.40" fill="#33b1e3"/>
<rect x="506.62" y="316.10" width="20.74" height="1.40" fill="#7bcced"/>
<rect x="527.16" y="316.10" width="20.74" height="1.40" fill="#32b0e3"/>
<rect x="301.20" y="317.35" width="20.74" height="1.40" fill="#fee4e1"/>
<rect x="321.74" y="317.35" width="20.74" height="1.40" fill="#fff8f7"/>
<rect x="342.28" y="317.35" width="20.74" height="1.40" fill="#faa99e"/>
<rect x="362.82" y="317.35" width="20.74" height="1.40" fill="#fbbbb3"/>
<rect x="383.37" y="317.35" width="20.74" height="1.40" fill="#fdd5d0"/>
<rect x="403.91" y="317.35" width="20.74" height="1.40" fill="#fdfeff"/>
<rect x="424.45" y="317.35" width="20.74" height="1.40" fill="#e1f3fb"/>
<rect x="444.99" y="317.35" width="20.74" height="1.40" fill="#f9fdfe"/>
<rect x="465.53" y="317.35" width="20.74" height="1.40" fill="#feecea"/>
<rect x="486.08" y="317.35" width="20.74" height="1.40" fill="#50bce7"/>
<rect x="506.62" y="317.35" width="20.74" height="1.40" fill="#63c3ea"/>
<rect x="527.16" y="317.35" width="20.74" height="1.40" fill="#48b9e6"/>
<rect x="301.20" y="318.60" width="20.74" height="1.40" fill="#fcc2ba"/>
<rect x="321.74" y="318.60" width="20.74" height="1.40" fill="#b9e4f5"/>
<rect x="342.28" y="318.60" width="20.74" height="1.40" fill="#c2e8f7"/>
<rect x="362.82" y="318.60" width="20.74" height="1.40" fill="#6dc7eb"/>
<rect x="383.37" y="318.60" width="20.74" height="1.40" fill="#d4eff9"/>
<rect x="403.91" y="318.60" width="20.74" height="1.40" fill="#23aae1"/>
<rect x="424.45" y="318.60" width="20.74" height="1.40" fill="#f9978a"/>
<rect x="444.99" y="318.60" width="20.74" height="1.40" fill="#fbb7ae"/>
<rect x="465.53" y="318.60" width="20.74" height="1.40" fill="#fcc5bd"/>
<rect x="486.08" y="318.60" width="20.74" height="1.40" fill="#fee4e1"/>
<rect x="506.62" y="318.60" width="20.74" height="1.40" fill="#d1edf9"/>
<rect x="527.16" y="318.60" width="20.74" height="1.40" fill="#edf8fd"/>
<rect x="301.20" y="319.85" width="20.74" height="1.40" fill="#fbb1a7"/>
<rect x="321.74" y="319.85" width="20.74" height="1.40" fill="#b8e4f5"/>
<rect x="342.28" y="319.85" width="20.74" height="1.40" fill="#6dc7eb"/>
<rect x="362.82" y="319.85" width="20.74" height="1.40" fill="#a2dbf2"/>
<rect x="383.37" y="319.85" width="20.74" height="1.40" fill="#eef9fd"/>
<rect x="403.91" y="319.85" width="20.74" height="1.40" fill="#27ace1"/>
<rect x="424.45" y="319.85" width="20.74" height="1.40" fill="#f88879"/>
<rect x="444.99" y="319.85" width="20.74" height="1.40" fill="#faada2"/>
<rect x="465.53" y="319.85" width="20.74" height="1.40" fill="#fcc3bc"/>
<rect x="486.08" y="319.85" width="20.74" height="1.40" fill="#fef0ee"/>
<rect x="506.62" y="319.85" width="20.74" height="1.40" fill="#f1fafd"/>
<rect x="527.16" y="319.85" width="20.74" height="1.40" fill="#c5e9f7"/>
<rect x="301.20" y="321.10" width="20.74" height="1.40" fill="#fbb6ad"/>
<rect x="321.74" y="321.10" width="20.74" height="1.40" fill="#a1dbf2"/>
<rect x="342.28" y="321.10" width="20.74" height="1.40" fill="#6fc8eb"/>
<rect x="362.82" y="321.10" width="20.74" height="1.40" fill="#94d6f0"/>
<rect x="383.37" y="321.10" width="20.74" height="1.40" fill="#fff9f8"/>
<rect x="403.91" y="321.10" width="20.74" height="1.40" fill="#55bee8"/>
<rect x="424.45" y="321.10" width="20.74" height="1.40" fill="#faa79c"/>
<rect x="444.99" y="321.10" width="20.74" height="1.40" fill="#faada3"/>
<rect x="465.53" y="321.10" width="20.74" height="1.40" fill="#fccbc4"/>
<rect x="486.08" y="321.10" width="20.74" height="1.40" fill="#feedeb"/>
<rect x="506.62" y="321.10" width="20.74" height="1.40" fill="#feeeeb"/>
<rect x="527.16" y="321.10" width="20.74" height="1.40" fill="#c5e9f7"/>
<rect x="301.20" y="322.35" width="20.74" height="1.40" fill="#fbbcb4"/>
<rect x="321.74" y="322.35" width="20.74" height="1.40" fill="#a2dbf2"/>
<rect x="342.28" y="322.35" width="20.74" height="1.40" fill="#5dc1e9"/>
<rect x="362.82" y="322.35" width="20.74" height="1.40" fill="#a9def3"/>
<rect x="383.37" y="322.35" width="20.74" height="1.40" fill="#dbf1fa"/>
<rect x="403.91" y="322.35" width="20.74" height="1.40" fill="#4ebbe7"/>
<rect x="424.45" y="322.35" width="20.74" height="1.40" fill="#fbb8af"/>
<rect x="444.99" y="322.35" width="20.74" height="1.40" fill="#fa9e92"/>
<rect x="465.53" y="322.35" width="20.74" height="1.40" fill="#fcd1cb"/>
<rect x="486.08" y="322.35" width="20.74" height="1.40" fill="#fef0ee"/>
<rect x="506.62" y="322.35" width="20.74" height="1.40" fill="#fffcfb"/>
<rect x="527.16" y="322.35" width="20.74" height="1.40" fill="#d4eff9"/>
<rect x="301.20" y="323.60" width="20.74" height="1.40" fill="#fbb7ae"/>
<rect x="321.74" y="323.60" width="20.74" height="1.40" fill="#aadef3"/>
<rect x="342.28" y="323.60" width="20.74" height="1.40" fill="#9ad8f1"/>
<rect x="362.82" y="323.60" width="20.74" height="1.40" fill="#97d7f1"/>
<rect x="383.37" y="323.60" width="20.74" height="1.40" fill="#b2e2f4"/>
<rect x="403.91" y="323.60" width="20.74" height="1.40" fill="#5dc1e9"/>
<rect x="424.45" y="323.60" width="20.74" height="1.40" fill="#fcd1cb"/>
<rect x="444.99" y="323.60" width="20.74" height="1.40" fill="#f99b8f"/>
<rect x="465.53" y="323.60" width="20.74" height="1.40" fill="#fee4e1"/>
<rect x="486.08" y="323.60" width="20.74" height="1.40" fill="#fef4f3"/>
<rect x="506.62" y="323.60" width="20.74" height="1.40" fill="#e2f4fb"/>
<rect x="527.16" y="323.60" width="20.74" height="1.40" fill="#edf8fd"/>
<rect x="301.20" y="324.85" width="20.74" height="1.40" fill="#fbbfb7"/>
<rect x="321.74" y="324.85" width="20.74" height="1.40" fill="#ade0f4"/>
<rect x="342.28" y="324.85" width="20.74" height="1.40" fill="#b6e3f5"/>
<rect x="362.82" y="324.85" width="20.74" height="1.40" fill="#49b9e6"/>
<rect x="383.37" y="324.85" width="20.74" height="1.40" fill="#ccebf8"/>
<rect x="403.91" y="324.85" width="20.74" height="1.40" fill="#6cc6eb"/>
<rect x="424.45" y="324.85" width="20.74" height="1.40" fill="#fbbfb7"/>
<rect x="444.99" y="324.85" width="20.74" height="1.40" fill="#faa196"/>
<rect x="465.53" y="324.85" width="20.74" height="1.40" fill="#fdd9d4"/>
<rect x="486.08" y="324.85" width="20.74" height="1.40" fill="#fddcd8"/>
<rect x="506.62" y="324.85" width="20.74" height="1.40" fill="#edf8fc"/>
<rect x="527.16" y="324.85" width="20.74" height="1.40" fill="#e7f6fc"/>
<rect x="301.20" y="326.10" width="20.74" height="1.40" fill="#faa094"/>
<rect x="321.74" y="326.10" width="20.74" height="1.40" fill="#b4e2f5"/>
<rect x="342.28" y="326.10" width="20.74" height="1.40" fill="#e3f4fb"/>
<rect x="362.82" y="326.10" width="20.74" height="1.40" fill="#41b6e5"/>
<rect x="383.37" y="326.10" width="20.74" height="1.40" fill="#d5eff9"/>
<rect x="403.91" y="326.10" width="20.74" height="1.40" fill="#76caec"/>
<rect x="424.45" y="326.10" width="20.74" height="1.40" fill="#fcc0b8"/>
<rect x="444.99" y="326.10" width="20.74" height="1.40" fill="#fbb5ac"/>
<rect x="465.53" y="326.10" width="20.74" height="1.40" fill="#fccfc9"/>
<rect x="486.08" y="326.10" width="20.74" height="1.40" fill="#fee7e4"/>
<rect x="506.62" y="326.10" width="20.74" height="1.40" fill="#fee9e7"/>
<rect x="527.16" y="326.10" width="20.74" height="1.40" fill="#bbe5f6"/>
<rect x="301.20" y="327.35" width="20.74" height="1.40" fill="#faada2"/>
<rect x="321.74" y="327.35" width="20.74" height="1.40" fill="#d2eef9"/>
<rect x="342.28" y="327.35" width="20.74" height="1.40" fill="#cfedf8"/>
<rect x="362.82" y="327.35" width="20.74" height="1.40" fill="#2eafe2"/>
<rect x="383.37" y="327.35" width="20.74" height="1.40" fill="#feffff"/>
<rect x="403.91" y="327.35" width="20.74" height="1.40" fill="#67c4ea"/>
<rect x="424.45" y="327.35" width="20.74" height="1.40" fill="#fbb7ae"/>
<rect x="444.99" y="327.35" width="20.74" height="1.40" fill="#fbbbb2"/>
<rect x="465.53" y="327.35" width="20.74" height="1.40" fill="#fcc7c0"/>
<rect x="486.08" y="327.35" width="20.74" height="1.40" fill="#fde4e0"/>
<rect x="506.62" y="327.35" width="20.74" height="1.40" fill="#fff7f6"/>
<rect x="527.16" y="327.35" width="20.74" height="1.40" fill="#bee6f6"/>
<rect x="301.20" y="328.60" width="20.74" height="1.40" fill="#fa9e92"/>
<rect x="321.74" y="328.60" width="20.74" height="1.40" fill="#ecf8fc"/>
<rect x="342.28" y="328.60" width="20.74" height="1.40" fill="#d6eff9"/>
<rect x="362.82" y="328.60" width="20.74" height="1.40" fill="#2baee2"/>
<rect x="383.37" y="328.60" width="20.74" height="1.40" fill="#e4f5fb"/>
<rect x="403.91" y="328.60" width="20.74" height="1.40" fill="#32b0e3"/>
<rect x="424.45" y="328.60" width="20.74" height="1.40" fill="#fa9f92"/>
<rect x="444.99" y="328.60" width="20.74" height="1.40" fill="#fa9f93"/>
<rect x="465.53" y="328.60" width="20.74" height="1.40" fill="#fde2de"/>
<rect x="486.08" y="328.60" width="20.74" height="1.40" fill="#f9fdfe"/>
<rect x="506.62" y="328.60" width="20.74" height="1.40" fill="#fde3df"/>
<rect x="527.16" y="328.60" width="20.74" height="1.40" fill="#f4fbfd"/>
<rect x="301.20" y="329.85" width="20.74" height="1.40" fill="#faaa9f"/>
<rect x="321.74" y="329.85" width="20.74" height="1.40" fill="#fff6f5"/>
<rect x="342.28" y="329.85" width="20.74" height="1.40" fill="#9edaf2"/>
<rect x="362.82" y="329.85" width="20.74" height="1.40" fill="#3fb5e5"/>
<rect x="383.37" y="329.85" width="20.74" height="1.40" fill="#e0f3fb"/>
<rect x="403.91" y="329.85" width="20.74" height="1.40" fill="#21aae1"/>
<rect x="424.45" y="329.85" width="20.74" height="1.40" fill="#faa99e"/>
<rect x="444.99" y="329.85" width="20.74" height="1.40" fill="#faaba0"/>
<rect x="465.53" y="329.85" width="20.74" height="1.40" fill="#fddcd8"/>
<rect x="486.08" y="329.85" width="20.74" height="1.40" fill="#fffafa"/>
<rect x="506.62" y="329.85" width="20.74" height="1.40" fill="#fffefe"/>
<rect x="527.16" y="329.85" width="20.74" height="1.40" fill="#fef4f2"/>
<rect x="301.20" y="331.10" width="20.74" height="1.40" fill="#f99b8f"/>
<rect x="321.74" y="331.10" width="20.74" height="1.40" fill="#feefed"/>
<rect x="342.28" y="331.10" width="20.74" height="1.40" fill="#94d6f0"/>
<rect x="362.82" y="331.10" width="20.74" height="1.40" fill="#75caec"/>
<rect x="383.37" y="331.10" width="20.74" height="1.40" fill="#fcfeff"/>
<rect x="403.91" y="331.10" width="20.74" height="1.40" fill="#1ca8e0"/>
<rect x="424.45" y="331.10" width="20.74" height="1.40" fill="#f98f81"/>
<rect x="444.99" y="331.10" width="20.74" height="1.40" fill="#faa99e"/>
<rect x="465.53" y="331.10" width="20.74" height="1.40" fill="#fddcd7"/>
<rect x="486.08" y="331.10" width="20.74" height="1.40" fill="#fff9f9"/>
<rect x="506.62" y="331.10" width="20.74" height="1.40" fill="#fffffe"/>
<rect x="527.16" y="331.10" width="20.74" height="1.40" fill="#fff7f7"/>
<rect x="301.20" y="332.35" width="20.74" height="1.40" fill="#fbb3a9"/>
<rect x="321.74" y="332.35" width="20.74" height="1.40" fill="#f6fcfe"/>
<rect x="342.28" y="332.35" width="20.74" height="1.40" fill="#5dc1e9"/>
<rect x="362.82" y="332.35" width="20.74" height="1.40" fill="#96d7f1"/>
<rect x="383.37" y="332.35" width="20.74" height="1.40" fill="#fff7f6"/>
<rect x="403.91" y="332.35" width="20.74" height="1.40" fill="#1da8e0"/>
<rect x="424.45" y="332.35" width="20.74" height="1.40" fill="#fbb0a6"/>
<rect x="444.99" y="332.35" width="20.74" height="1.40" fill="#fbb8af"/>
<rect x="465.53" y="332.35" width="20.74" height="1.40" fill="#feecea"/>
<rect x="486.08" y="332.35" width="20.74" height="1.40" fill="#fffaf9"/>
<rect x="506.62" y="332.35" width="20.74" height="1.40" fill="#feffff"/>
<rect x="527.16" y="332.35" width="20.74" height="1.40" fill="#f6fbfe"/>
<rect x="301.20" y="333.60" width="20.74" height="1.40" fill="#ffffff"/>
<rect x="321.74" y="333.60" width="20.74" height="1.40" fill="#9edaf2"/>
<rect x="342.28" y="333.60" width="20.74" height="1.40" fill="#3cb4e4"/>
<rect x="362.82" y="333.60" width="20.74" height="1.40" fill="#40b5e5"/>
<rect x="383.37" y="333.60" width="20.74" height="1.40" fill="#feeeeb"/>
<rect x="403.91" y="333.60" width="20.74" height="1.40" fill="#92d5f0"/>
<rect x="424.45" y="333.60" width="20.74" height="1.40" fill="#feeeec"/>
<rect x="444.99" y="333.60" width="20.74" height="1.40" fill="#fbbbb2"/>
<rect x="465.53" y="333.60" width="20.74" height="1.40" fill="#daf1fa"/>
<rect x="486.08" y="333.60" width="20.74" height="1.40" fill="#fee5e1"/>
<rect x="506.62" y="333.60" width="20.74" height="1.40" fill="#c1e7f6"/>
<rect x="527.16" y="333.60" width="20.74" height="1.40" fill="#a7ddf3"/>
<rect x="301.20" y="334.85" width="20.74" height="1.40" fill="#f8fcfe"/>
<rect x="321.74" y="334.85" width="20.74" height="1.40" fill="#b6e3f5"/>
<rect x="342.28" y="334.85" width="20.74" height="1.40" fill="#49b9e6"/>
<rect x="362.82" y="334.85" width="20.74" height="1.40" fill="#6cc7eb"/>
<rect x="383.37" y="334.85" width="20.74" height="1.40" fill="#fffaf9"/>
<rect x="403.91" y="334.85" width="20.74" height="1.40" fill="#a9def3"/>
<rect x="424.45" y="334.85" width="20.74" height="1.40" fill="#fff7f6"/>
<rect x="444.99" y="334.85" width="20.74" height="1.40" fill="#fbbcb3"/>
<rect x="465.53" y="334.85" width="20.74" height="1.40" fill="#ccebf8"/>
<rect x="486.08" y="334.85" width="20.74" height="1.40" fill="#fff9f8"/>
<rect x="506.62" y="334.85" width="20.74" height="1.40" fill="#b5e3f5"/>
<rect x="527.16" y="334.85" width="20.74" height="1.40" fill="#88d1ef"/>
<rect x="301.20" y="336.10" width="20.74" height="1.40" fill="#d1edf9"/>
<rect x="321.74" y="336.10" width="20.74" height="1.40" fill="#d5eff9"/>
<rect x="342.28" y="336.10" width="20.74" height="1.40" fill="#55bde8"/>
<rect x="362.82" y="336.10" width="20.74" height="1.40" fill="#60c2e9"/>
<rect x="383.37" y="336.10" width="20.74" height="1.40" fill="#eff9fd"/>
<rect x="403.91" y="336.10" width="20.74" height="1.40" fill="#92d5f0"/>
<rect x="424.45" y="336.10" width="20.74" height="1.40" fill="#fbfeff"/>
<rect x="444.99" y="336.10" width="20.74" height="1.40" fill="#fcc7c0"/>
<rect x="465.53" y="336.10" width="20.74" height="1.40" fill="#e3f4fb"/>
<rect x="486.08" y="336.10" width="20.74" height="1.40" fill="#fbb7ae"/>
<rect x="506.62" y="336.10" width="20.74" height="1.40" fill="#b9e4f5"/>
<rect x="527.16" y="336.10" width="20.74" height="1.40" fill="#a8def3"/>
<rect x="301.20" y="337.35" width="20.74" height="1.40" fill="#fffefe"/>
<rect x="321.74" y="337.35" width="20.74" height="1.40" fill="#bee6f6"/>
<rect x="342.28" y="337.35" width="20.74" height="1.40" fill="#51bce7"/>
<rect x="362.82" y="337.35" width="20.74" height="1.40" fill="#6cc6eb"/>
<rect x="383.37" y="337.35" width="20.74" height="1.40" fill="#ddf2fa"/>
<rect x="403.91" y="337.35" width="20.74" height="1.40" fill="#9fdaf2"/>
<rect x="424.45" y="337.35" width="20.74" height="1.40" fill="#fef4f3"/>
<rect x="444.99" y="337.35" width="20.74" height="1.40" fill="#fbb5ac"/>
<rect x="465.53" y="337.35" width="20.74" height="1.40" fill="#f3fafd"/>
<rect x="486.08" y="337.35" width="20.74" height="1.40" fill="#fbb5ac"/>
<rect x="506.62" y="337.35" width="20.74" height="1.40" fill="#95d6f1"/>
<rect x="527.16" y="337.35" width="20.74" height="1.40" fill="#c5e9f7"/>
<rect x="301.20" y="338.60" width="20.74" height="1.40" fill="#feefed"/>
<rect x="321.74" y="338.60" width="20.74" height="1.40" fill="#cfedf8"/>
<rect x="342.28" y="338.60" width="20.74" height="1.40" fill="#3eb5e5"/>
<rect x="362.82" y="338.60" width="20.74" height="1.40" fill="#3fb5e5"/>
<rect x="383.37" y="338.60" width="20.74" height="1.40" fill="#fafdfe"/>
<rect x="403.91" y="338.60" width="20.74" height="1.40" fill="#aadef3"/>
<rect x="424.45" y="338.60" width="20.74" height="1.40" fill="#fffefe"/>
<rect x="444.99" y="338.60" width="20.74" height="1.40" fill="#fcc5be"/>
<rect x="465.53" y="338.60" width="20.74" height="1.40" fill="#fee4e1"/>
<rect x="486.08" y="338.60" width="20.74" height="1.40" fill="#f9978a"/>
<rect x="506.62" y="338.60" width="20.74" height="1.40" fill="#a2dbf2"/>
<rect x="527.16" y="338.60" width="20.74" height="1.40" fill="#abdff3"/>
<rect x="301.20" y="339.85" width="20.74" height="1.40" fill="#feedeb"/>
<rect x="321.74" y="339.85" width="20.74" height="1.40" fill="#aadef3"/>
<rect x="342.28" y="339.85" width="20.74" height="1.40" fill="#4ab9e6"/>
<rect x="362.82" y="339.85" width="20.74" height="1.40" fill="#3bb4e4"/>
<rect x="383.37" y="339.85" width="20.74" height="1.40" fill="#fff8f7"/>
<rect x="403.91" y="339.85" width="20.74" height="1.40" fill="#c8eaf8"/>
<rect x="424.45" y="339.85" width="20.74" height="1.40" fill="#feedea"/>
<rect x="444.99" y="339.85" width="20.74" height="1.40" fill="#fccac3"/>
<rect x="465.53" y="339.85" width="20.74" height="1.40" fill="#fef3f2"/>
<rect x="486.08" y="339.85" width="20.74" height="1.40" fill="#faa195"/>
<rect x="506.62" y="339.85" width="20.74" height="1.40" fill="#c5e9f7"/>
<rect x="527.16" y="339.85" width="20.74" height="1.40" fill="#c6e9f7"/>
<rect x="301.20" y="341.10" width="20.74" height="1.40" fill="#fef4f3"/>
<rect x="321.74" y="341.10" width="20.74" height="1.40" fill="#81cfee"/>
<rect x="342.28" y="341.10" width="20.74" height="1.40" fill="#74caec"/>
<rect x="362.82" y="341.10" width="20.74" height="1.40" fill="#4abae6"/>
<rect x="383.37" y="341.10" width="20.74" height="1.40" fill="#fddcd7"/>
<rect x="403.91" y="341.10" width="20.74" height="1.40" fill="#ccebf8"/>
<rect x="424.45" y="341.10" width="20.74" height="1.40" fill="#feedea"/>
<rect x="444.99" y="341.10" width="20.74" height="1.40" fill="#fcd1cb"/>
<rect x="465.53" y="341.10" width="20.74" height="1.40" fill="#fff6f5"/>
<rect x="486.08" y="341.10" width="20.74" height="1.40" fill="#faa59a"/>
<rect x="506.62" y="341.10" width="20.74" height="1.40" fill="#c5e9f7"/>
<rect x="527.16" y="341.10" width="20.74" height="1.40" fill="#d8f0fa"/>
<rect x="301.20" y="342.35" width="20.74" height="1.40" fill="#fee8e5"/>
<rect x="321.74" y="342.35" width="20.74" height="1.40" fill="#7fceed"/>
<rect x="342.28" y="342.35" width="20.74" height="1.40" fill="#6dc7eb"/>
<rect x="362.82" y="342.35" width="20.74" height="1.40" fill="#55bde8"/>
<rect x="383.37" y="342.35" width="20.74" height="1.40" fill="#fddfdb"/>
<rect x="403.91" y="342.35" width="20.74" height="1.40" fill="#daf1fa"/>
<rect x="424.45" y="342.35" width="20.74" height="1.40" fill="#feebe8"/>
<rect x="444.99" y="342.35" width="20.74" height="1.40" fill="#fbb7ae"/>
<rect x="465.53" y="342.35" width="20.74" height="1.40" fill="#fffffe"/>
<rect x="486.08" y="342.35" width="20.74" height="1.40" fill="#fccac3"/>
<rect x="506.62" y="342.35" width="20.74" height="1.40" fill="#a1dbf2"/>
<rect x="527.16" y="342.35" width="20.74" height="1.40" fill="#d8f0fa"/>
<rect x="301.20" y="343.60" width="20.74" height="1.40" fill="#eff9fd"/>
<rect x="321.74" y="343.60" width="20.74" height="1.40" fill="#87d1ee"/>
<rect x="342.28" y="343.60" width="20.74" height="1.40" fill="#a1dbf2"/>
<rect x="362.82" y="343.60" width="20.74" height="1.40" fill="#53bde7"/>
<rect x="383.37" y="343.60" width="20.74" height="1.40" fill="#fff8f8"/>
<rect x="403.91" y="343.60" width="20.74" height="1.40" fill="#cfedf8"/>
<rect x="424.45" y="343.60" width="20.74" height="1.40" fill="#feebe9"/>
<rect x="444.99" y="343.60" width="20.74" height="1.40" fill="#fbb3aa"/>
<rect x="465.53" y="343.60" width="20.74" height="1.40" fill="#feebe8"/>
<rect x="486.08" y="343.60" width="20.74" height="1.40" fill="#fcd1cb"/>
<rect x="506.62" y="343.60" width="20.74" height="1.40" fill="#a8def3"/>
<rect x="527.16" y="343.60" width="20.74" height="1.40" fill="#fff7f6"/>
<rect x="301.20" y="344.85" width="20.74" height="1.40" fill="#fde0dc"/>
<rect x="321.74" y="344.85" width="20.74" height="1.40" fill="#b9e4f5"/>
<rect x="342.28" y="344.85" width="20.74" height="1.40" fill="#96d7f1"/>
<rect x="362.82" y="344.85" width="20.74" height="1.40" fill="#b8e4f5"/>
<rect x="383.37" y="344.85" width="20.74" height="1.40" fill="#fffaf9"/>
<rect x="403.91" y="344.85" width="20.74" height="1.40" fill="#3cb4e4"/>
<rect x="424.45" y="344.85" width="20.74" height="1.40" fill="#fde3df"/>
<rect x="444.99" y="344.85" width="20.74" height="1.40" fill="#fcc4bd"/>
<rect x="465.53" y="344.85" width="20.74" height="1.40" fill="#fcc7bf"/>
<rect x="486.08" y="344.85" width="20.74" height="1.40" fill="#fbbeb6"/>
<rect x="506.62" y="344.85" width="20.74" height="1.40" fill="#bae5f6"/>
<rect x="527.16" y="344.85" width="20.74" height="1.40" fill="#feeeec"/>
<rect x="301.20" y="346.10" width="20.74" height="1.40" fill="#fde1dd"/>
<rect x="321.74" y="346.10" width="20.74" height="1.40" fill="#9edaf2"/>
<rect x="342.28" y="346.10" width="20.74" height="1.40" fill="#8bd2ef"/>
<rect x="362.82" y="346.10" width="20.74" height="1.40" fill="#64c3ea"/>
<rect x="383.37" y="346.10" width="20.74" height="1.40" fill="#f5fbfe"/>
<rect x="403.91" y="346.10" width="20.74" height="1.40" fill="#36b2e3"/>
<rect x="424.45" y="346.10" width="20.74" height="1.40" fill="#fef4f2"/>
<rect x="444.99" y="346.10" width="20.74" height="1.40" fill="#fbbfb6"/>
<rect x="465.53" y="346.10" width="20.74" height="1.40" fill="#fdd3ce"/>
<rect x="486.08" y="346.10" width="20.74" height="1.40" fill="#fbb0a6"/>
<rect x="506.62" y="346.10" width="20.74" height="1.40" fill="#97d7f1"/>
<rect x="527.16" y="346.10" width="20.74" height="1.40" fill="#fde1dd"/>
<rect x="301.20" y="347.35" width="20.74" height="1.40" fill="#fee8e5"/>
<rect x="321.74" y="347.35" width="20.74" height="1.40" fill="#98d7f1"/>
<rect x="342.28" y="347.35" width="20.74" height="1.40" fill="#93d6f0"/>
<rect x="362.82" y="347.35" width="20.74" height="1.40" fill="#58bfe8"/>
<rect x="383.37" y="347.35" width="20.74" height="1.40" fill="#ecf8fc"/>
<rect x="403.91" y="347.35" width="20.74" height="1.40" fill="#24abe1"/>
<rect x="424.45" y="347.35" width="20.74" height="1.40" fill="#fdd5cf"/>
<rect x="444.99" y="347.35" width="20.74" height="1.40" fill="#fbb1a7"/>
<rect x="465.53" y="347.35" width="20.74" height="1.40" fill="#fcc2ba"/>
<rect x="486.08" y="347.35" width="20.74" height="1.40" fill="#fbbeb6"/>
<rect x="506.62" y="347.35" width="20.74" height="1.40" fill="#b8e4f5"/>
<rect x="527.16" y="347.35" width="20.74" height="1.40" fill="#fde1de"/>
<rect x="301.20" y="348.60" width="20.74" height="1.40" fill="#fddcd7"/>
<rect x="321.74" y="348.60" width="20.74" height="1.40" fill="#95d6f1"/>
<rect x="342.28" y="348.60" width="20.74" height="1.40" fill="#91d5f0"/>
<rect x="362.82" y="348.60" width="20.74" height="1.40" fill="#66c4ea"/>
<rect x="383.37" y="348.60" width="20.74" height="1.40" fill="#f7fcfe"/>
<rect x="403.91" y="348.60" width="20.74" height="1.40" fill="#39b3e4"/>
<rect x="424.45" y="348.60" width="20.74" height="1.40" fill="#fddfdb"/>
<rect x="444.99" y="348.60" width="20.74" height="1.40" fill="#fbb6ac"/>
<rect x="465.53" y="348.60" width="20.74" height="1.40" fill="#fcc4bc"/>
<rect x="486.08" y="348.60" width="20.74" height="1.40" fill="#fbb5ac"/>
<rect x="506.62" y="348.60" width="20.74" height="1.40" fill="#e0f3fb"/>
<rect x="527.16" y="348.60" width="20.74" height="1.40" fill="#fff6f5"/>
<rect x="301.20" y="349.85" width="20.74" height="1.40" fill="#fdd9d4"/>
<rect x="321.74" y="349.85" width="20.74" height="1.40" fill="#b0e1f4"/>
<rect x="342.28" y="349.85" width="20.74" height="1.40" fill="#9fdaf2"/>
<rect x="362.82" y="349.85" width="20.74" height="1.40" fill="#6dc7eb"/>
<rect x="383.37" y="349.85" width="20.74" height="1.40" fill="#eef9fd"/>
<rect x="403.91" y="349.85" width="20.74" height="1.40" fill="#2caee2"/>
<rect x="424.45" y="349.85" width="20.74" height="1.40" fill="#fde1dd"/>
<rect x="444.99" y="349.85" width="20.74" height="1.40" fill="#faaca2"/>
<rect x="465.53" y="349.85" width="20.74" height="1.40" fill="#fcccc6"/>
<rect x="486.08" y="349.85" width="20.74" height="1.40" fill="#fbb0a6"/>
<rect x="506.62" y="349.85" width="20.74" height="1.40" fill="#fdfeff"/>
<rect x="527.16" y="349.85" width="20.74" height="1.40" fill="#fffdfd"/>
<rect x="301.20" y="351.10" width="20.74" height="1.40" fill="#feedeb"/>
<rect x="321.74" y="351.10" width="20.74" height="1.40" fill="#b5e3f5"/>
<rect x="342.28" y="351.10" width="20.74" height="1.40" fill="#87d1ee"/>
<rect x="362.82" y="351.10" width="20.74" height="1.40" fill="#a1dbf2"/>
<rect x="383.37" y="351.10" width="20.74" height="1.40" fill="#eff9fd"/>
<rect x="403.91" y="351.10" width="20.74" height="1.40" fill="#2bade2"/>
<rect x="424.45" y="351.10" width="20.74" height="1.40" fill="#fee6e3"/>
<rect x="444.99" y="351.10" width="20.74" height="1.40" fill="#fa9f93"/>
<rect x="465.53" y="351.10" width="20.74" height="1.40" fill="#faa89d"/>
<rect x="486.08" y="351.10" width="20.74" height="1.40" fill="#fbb2a9"/>
<rect x="506.62" y="351.10" width="20.74" height="1.40" fill="#fde1dd"/>
<rect x="527.16" y="351.10" width="20.74" height="1.40" fill="#e5f5fb"/>
<rect x="301.20" y="352.35" width="20.74" height="1.40" fill="#fddeda"/>
<rect x="321.74" y="352.35" width="20.74" height="1.40" fill="#c3e8f7"/>
<rect x="342.28" y="352.35" width="20.74" height="1.40" fill="#41b6e5"/>
<rect x="362.82" y="352.35" width="20.74" height="1.40" fill="#c3e8f7"/>
<rect x="383.37" y="352.35" width="20.74" height="1.40" fill="#d8f0fa"/>
<rect x="403.91" y="352.35" width="20.74" height="1.40" fill="#43b7e5"/>
<rect x="424.45" y="352.35" width="20.74" height="1.40" fill="#fccbc5"/>
<rect x="444.99" y="352.35" width="20.74" height="1.40" fill="#faa59a"/>
<rect x="465.53" y="352.35" width="20.74" height="1.40" fill="#fbbab1"/>
<rect x="486.08" y="352.35" width="20.74" height="1.40" fill="#faa89e"/>
<rect x="506.62" y="352.35" width="20.74" height="1.40" fill="#fddcd8"/>
<rect x="527.16" y="352.35" width="20.74" height="1.40" fill="#e3f4fb"/>
<rect x="301.20" y="353.60" width="20.74" height="1.40" fill="#feeeeb"/>
<rect x="321.74" y="353.60" width="20.74" height="1.40" fill="#84d0ee"/>
<rect x="342.28" y="353.60" width="20.74" height="1.40" fill="#61c2e9"/>
<rect x="362.82" y="353.60" width="20.74" height="1.40" fill="#acdff4"/>
<rect x="383.37" y="353.60" width="20.74" height="1.40" fill="#f4fbfd"/>
<rect x="403.91" y="353.60" width="20.74" height="1.40" fill="#2bade2"/>
<rect x="424.45" y="353.60" width="20.74" height="1.40" fill="#fddbd6"/>
<rect x="444.99" y="353.60" width="20.74" height="1.40" fill="#faaca1"/>
<rect x="465.53" y="353.60" width="20.74" height="1.40" fill="#fccbc5"/>
<rect x="486.08" y="353.60" width="20.74" height="1.40" fill="#fbb1a7"/>
<rect x="506.62" y="353.60" width="20.74" height="1.40" fill="#fde2de"/>
<rect x="527.16" y="353.60" width="20.74" height="1.40" fill="#fff9f8"/>
<rect x="301.20" y="354.85" width="20.74" height="1.40" fill="#fde0dc"/>
<rect x="321.74" y="354.85" width="20.74" height="1.40" fill="#a0daf2"/>
<rect x="342.28" y="354.85" width="20.74" height="1.40" fill="#5dc1e9"/>
<rect x="362.82" y="354.85" width="20.74" height="1.40" fill="#afe0f4"/>
<rect x="383.37" y="354.85" width="20.74" height="1.40" fill="#caebf8"/>
<rect x="403.91" y="354.85" width="20.74" height="1.40" fill="#24abe1"/>
<rect x="424.45" y="354.85" width="20.74" height="1.40" fill="#fde3df"/>
<rect x="444.99" y="354.85" width="20.74" height="1.40" fill="#fbb7ae"/>
<rect x="465.53" y="354.85" width="20.74" height="1.40" fill="#fcc9c2"/>
<rect x="486.08" y="354.85" width="20.74" height="1.40" fill="#faaca2"/>
<rect x="506.62" y="354.85" width="20.74" height="1.40" fill="#fee5e2"/>
<rect x="527.16" y="354.85" width="20.74" height="1.40" fill="#def2fa"/>
<rect x="301.20" y="356.10" width="20.74" height="1.40" fill="#fcd0ca"/>
<rect x="321.74" y="356.10" width="20.74" height="1.40" fill="#b3e2f5"/>
<rect x="342.28" y="356.10" width="20.74" height="1.40" fill="#7dcded"/>
<rect x="362.82" y="356.10" width="20.74" height="1.40" fill="#9cd9f1"/>
<rect x="383.37" y="356.10" width="20.74" height="1.40" fill="#d0edf9"/>
<rect x="403.91" y="356.10" width="20.74" height="1.40" fill="#39b3e4"/>
<rect x="424.45" y="356.10" width="20.74" height="1.40" fill="#fddcd7"/>
<rect x="444.99" y="356.10" width="20.74" height="1.40" fill="#faa499"/>
<rect x="465.53" y="356.10" width="20.74" height="1.40" fill="#fddbd6"/>
<rect x="486.08" y="356.10" width="20.74" height="1.40" fill="#fcc2bb"/>
<rect x="506.62" y="356.10" width="20.74" height="1.40" fill="#feebe8"/>
<rect x="527.16" y="356.10" width="20.74" height="1.40" fill="#feebe8"/>
<rect x="301.20" y="357.35" width="20.74" height="1.40" fill="#fccec8"/>
<rect x="321.74" y="357.35" width="20.74" height="1.40" fill="#fffcfb"/>
<rect x="342.28" y="357.35" width="20.74" height="1.40" fill="#84d0ee"/>
<rect x="362.82" y="357.35" width="20.74" height="1.40" fill="#7acced"/>
<rect x="383.37" y="357.35" width="20.74" height="1.40" fill="#c9eaf8"/>
<rect x="403.91" y="357.35" width="20.74" height="1.40" fill="#0da2de"/>
<rect x="424.45" y="357.35" width="20.74" height="1.40" fill="#fde1dd"/>
<rect x="444.99" y="357.35" width="20.74" height="1.40" fill="#fbb5ab"/>
<rect x="465.53" y="357.35" width="20.74" height="1.40" fill="#fcd0ca"/>
<rect x="486.08" y="357.35" width="20.74" height="1.40" fill="#fcc8c1"/>
<rect x="506.62" y="357.35" width="20.74" height="1.40" fill="#fef5f3"/>
<rect x="527.16" y="357.35" width="20.74" height="1.40" fill="#fef2f1"/>
<rect x="301.20" y="358.60" width="20.74" height="1.40" fill="#fdd7d2"/>
<rect x="321.74" y="358.60" width="20.74" height="1.40" fill="#caeaf8"/>
<rect x="342.28" y="358.60" width="20.74" height="1.40" fill="#8bd3ef"/>
<rect x="362.82" y="358.60" width="20.74" height="1.40" fill="#41b6e5"/>
<rect x="383.37" y="358.60" width="20.74" height="1.40" fill="#c1e7f6"/>
<rect x="403.91" y="358.60" width="20.74" height="1.40" fill="#24abe1"/>
<rect x="424.45" y="358.60" width="20.74" height="1.40" fill="#fddcd8"/>
<rect x="444.99" y="358.60" width="20.74" height="1.40" fill="#faa99e"/>
<rect x="465.53" y="358.60" width="20.74" height="1.40" fill="#fddad5"/>
<rect x="486.08" y="358.60" width="20.74" height="1.40" fill="#fccbc5"/>
<rect x="506.62" y="358.60" width="20.74" height="1.40" fill="#fef5f4"/>
<rect x="527.16" y="358.60" width="20.74" height="1.40" fill="#fddad5"/>
<rect x="301.20" y="359.85" width="20.74" height="1.40" fill="#f7fcfe"/>
<rect x="321.74" y="359.85" width="20.74" height="1.40" fill="#c9eaf8"/>
<rect x="342.28" y="359.85" width="20.74" height="1.40" fill="#67c5ea"/>
<rect x="362.82" y="359.85" width="20.74" height="1.40" fill="#3bb4e4"/>
<rect x="383.37" y="359.85" width="20.74" height="1.40" fill="#72c9ec"/>
<rect x="403.91" y="359.85" width="20.74" height="1.40" fill="#8cd3ef"/>
<rect x="424.45" y="359.85" width="20.74" height="1.40" fill="#fcc0b8"/>
<rect x="444.99" y="359.85" width="20.74" height="1.40" fill="#fddbd6"/>
<rect x="465.53" y="359.85" width="20.74" height="1.40" fill="#fde1de"/>
<rect x="486.08" y="359.85" width="20.74" height="1.40" fill="#faa89e"/>
<rect x="506.62" y="359.85" width="20.74" height="1.40" fill="#9edaf2"/>
<rect x="527.16" y="359.85" width="20.74" height="1.40" fill="#fddad5"/>
<rect x="301.20" y="361.10" width="20.74" height="1.40" fill="#feeeec"/>
<rect x="321.74" y="361.10" width="20.74" height="1.40" fill="#afe0f4"/>
<rect x="342.28" y="361.10" width="20.74" height="1.40" fill="#97d7f1"/>
<rect x="362.82" y="361.10" width="20.74" height="1.40" fill="#8bd2ef"/>
<rect x="383.37" y="361.10" width="20.74" height="1.40" fill="#69c5ea"/>
<rect x="403.91" y="361.10" width="20.74" height="1.40" fill="#93d5f0"/>
<rect x="424.45" y="361.10" width="20.74" height="1.40" fill="#feebe8"/>
<rect x="444.99" y="361.10" width="20.74" height="1.40" fill="#fdd5d0"/>
<rect x="465.53" y="361.10" width="20.74" height="1.40" fill="#fee6e3"/>
<rect x="486.08" y="361.10" width="20.74" height="1.40" fill="#faaca2"/>
<rect x="506.62" y="361.10" width="20.74" height="1.40" fill="#b2e1f4"/>
<rect x="527.16" y="361.10" width="20.74" height="1.40" fill="#fee4e0"/>
<rect x="301.20" y="362.35" width="20.74" height="1.40" fill="#fdddd9"/>
<rect x="321.74" y="362.35" width="20.74" height="1.40" fill="#ceecf8"/>
<rect x="342.28" y="362.35" width="20.74" height="1.40" fill="#9ad8f1"/>
<rect x="362.82" y="362.35" width="20.74" height="1.40" fill="#7fceed"/>
<rect x="383.37" y="362.35" width="20.74" height="1.40" fill="#61c2e9"/>
<rect x="403.91" y="362.35" width="20.74" height="1.40" fill="#acdff4"/>
<rect x="424.45" y="362.35" width="20.74" height="1.40" fill="#fddbd7"/>
<rect x="444.99" y="362.35" width="20.74" height="1.40" fill="#feefed"/>
<rect x="465.53" y="362.35" width="20.74" height="1.40" fill="#fdd6d1"/>
<rect x="486.08" y="362.35" width="20.74" height="1.40" fill="#fbb2a8"/>
<rect x="506.62" y="362.35" width="20.74" height="1.40" fill="#9edaf2"/>
<rect x="527.16" y="362.35" width="20.74" height="1.40" fill="#feeae8"/>
<rect x="301.20" y="363.60" width="20.74" height="1.40" fill="#fdddd9"/>
<rect x="321.74" y="363.60" width="20.74" height="1.40" fill="#c6e9f7"/>
<rect x="342.28" y="363.60" width="20.74" height="1.40" fill="#50bce7"/>
<rect x="362.82" y="363.60" width="20.74" height="1.40" fill="#96d7f1"/>
<rect x="383.37" y="363.60" width="20.74" height="1.40" fill="#61c2e9"/>
<rect x="403.91" y="363.60" width="20.74" height="1.40" fill="#ceecf8"/>
<rect x="424.45" y="363.60" width="20.74" height="1.40" fill="#fdd9d4"/>
<rect x="444.99" y="363.60" width="20.74" height="1.40" fill="#feedeb"/>
<rect x="465.53" y="363.60" width="20.74" height="1.40" fill="#fde2de"/>
<rect x="486.08" y="363.60" width="20.74" height="1.40" fill="#fbb9b0"/>
<rect x="506.62" y="363.60" width="20.74" height="1.40" fill="#8dd3ef"/>
<rect x="527.16" y="363.60" width="20.74" height="1.40" fill="#fee9e6"/>
<rect x="301.20" y="364.85" width="20.74" height="1.40" fill="#feebe8"/>
<rect x="321.74" y="364.85" width="20.74" height="1.40" fill="#daf1fa"/>
<rect x="342.28" y="364.85" width="20.74" height="1.40" fill="#73c9ec"/>
<rect x="362.82" y="364.85" width="20.74" height="1.40" fill="#71c8eb"/>
<rect x="383.37" y="364.85" width="20.74" height="1.40" fill="#76caec"/>
<rect x="403.91" y="364.85" width="20.74" height="1.40" fill="#b4e2f5"/>
<rect x="424.45" y="364.85" width="20.74" height="1.40" fill="#fdd6d1"/>
<rect x="444.99" y="364.85" width="20.74" height="1.40" fill="#fde0dc"/>
<rect x="465.53" y="364.85" width="20.74" height="1.40" fill="#fdd9d4"/>
<rect x="486.08" y="364.85" width="20.74" height="1.40" fill="#fcc2bb"/>
<rect x="506.62" y="364.85" width="20.74" height="1.40" fill="#96d7f1"/>
<rect x="527.16" y="364.85" width="20.74" height="1.40" fill="#fee7e3"/>
<rect x="301.20" y="366.10" width="20.74" height="1.40" fill="#fde3e0"/>
<rect x="321.74" y="366.10" width="20.74" height="1.40" fill="#f4fbfd"/>
<rect x="342.28" y="366.10" width="20.74" height="1.40" fill="#71c8ec"/>
<rect x="362.82" y="366.10" width="20.74" height="1.40" fill="#9edaf2"/>
<rect x="383.37" y="366.10" width="20.74" height="1.40" fill="#76caec"/>
<rect x="403.91" y="366.10" width="20.74" height="1.40" fill="#b7e3f5"/>
<rect x="424.45" y="366.10" width="20.74" height="1.40" fill="#fdd8d3"/>
<rect x="444.99" y="366.10" width="20.74" height="1.40" fill="#fddad6"/>
<rect x="465.53" y="366.10" width="20.74" height="1.40" fill="#fee4e1"/>
<rect x="486.08" y="366.10" width="20.74" height="1.40" fill="#fccec7"/>
<rect x="506.62" y="366.10" width="20.74" height="1.40" fill="#bde6f6"/>
<rect x="527.16" y="366.10" width="20.74" height="1.40" fill="#feebe9"/>
<rect x="301.20" y="367.35" width="20.74" height="0.80" fill="#fddad6"/>
<rect x="321.74" y="367.35" width="20.74" height="0.80" fill="#ffffff"/>
<rect x="342.28" y="367.35" width="20.74" height="0.80" fill="#40b5e5"/>
<rect x="362.82" y="367.35" width="20.74" height="0.80" fill="#86d0ee"/>
<rect x="383.37" y="367.35" width="20.74" height="0.80" fill="#9ad8f1"/>
<rect x="403.91" y="367.35" width="20.74" height="0.80" fill="#fff8f7"/>
<rect x="424.45" y="367.35" width="20.74" height="0.80" fill="#fef5f4"/>
<rect x="444.99" y="367.35" width="20.74" height="0.80" fill="#feefed"/>
<rect x="465.53" y="367.35" width="20.74" height="0.80" fill="#fddfdb"/>
<rect x="486.08" y="367.35" width="20.74" height="0.80" fill="#fcc5bd"/>
<rect x="506.62" y="367.35" width="20.74" height="0.80" fill="#a9def3"/>
<rect x="527.16" y="367.35" width="20.74" height="0.80" fill="#ffffff"/>
<path d="M311.5 233.6 V227.7 H332.0 V233.6" fill="none" stroke="#333" stroke-width="0.8"/>
<path d="M352.6 233.6 V230.0 H373.1 V233.6" fill="none" stroke="#333" stroke-width="0.8"/>
<path d="M362.8 230.0 V227.7 H393.6 V233.6" fill="none" stroke="#333" stroke-width="0.8"/>
<path d="M378.2 227.7 V224.3 H414.2 V233.6" fill="none" stroke="#333" stroke-width="0.8"/>
<path d="M321.7 227.7 V222.0 H396.2 V224.3" fill="none" stroke="#333" stroke-width="0.8"/>
<path d="M455.3 233.6 V227.2 H475.8 V233.6" fill="none" stroke="#333" stroke-width="0.8"/>
<path d="M434.7 233.6 V223.6 H465.5 V227.2" fill="none" stroke="#333" stroke-width="0.8"/>
<path d="M496.3 233.6 V224.4 H516.9 V233.6" fill="none" stroke="#333" stroke-width="0.8"/>
<path d="M506.6 224.4 V224.1 H537.4 V233.6" fill="none" stroke="#333" stroke-width="0.8"/>
<path d="M450.1 223.6 V218.9 H522.0 V224.1" fill="none" stroke="#333" stroke-width="0.8"/>
<path d="M359.0 222.0 V211.1 H486.1 V218.9" fill="none" stroke="#333" stroke-width="0.8"/>
<path d="M301.2 234.56 H293.2 V236.48 H301.2" fill="none" stroke="#000" stroke-width="1.05"/>
<path d="M301.2 242.24 H293.6 V244.16 H301.2" fill="none" stroke="#000" stroke-width="1.05"/>
<path d="M301.2 240.32 H292.9 V243.20 H293.6" fill="none" stroke="#000" stroke-width="1.05"/>
<path d="M301.2 238.40 H291.8 V241.76 H292.9" fill="none" stroke="#000" stroke-width="1.05"/>
<path d="M301.2 246.08 H294.8 V248.00 H301.2" fill="none" stroke="#000" stroke-width="1.05"/>
<path d="M291.8 240.08 H290.0 V247.04 H294.8" fill="none" stroke="#000" stroke-width="1.05"/>
<path d="M293.2 235.52 H289.3 V243.56 H290.0" fill="none" stroke="#000" stroke-width="1.05"/>
<path d="M301.2 249.92 H294.1 V251.84 H301.2" fill="none" stroke="#000" stroke-width="1.05"/>
<path d="M301.2 253.76 H294.8 V255.68 H301.2" fill="none" stroke="#000" stroke-width="1.05"/>
<path d="M294.1 250.88 H292.0 V254.72 H294.8" fill="none" stroke="#000" stroke-width="1.05"/>
<path d="M289.3 239.54 H288.6 V252.80 H292.0" fill="none" stroke="#000" stroke-width="1.05"/>
<path d="M301.2 257.60 H293.4 V259.52 H301.2" fill="none" stroke="#000" stroke-width="1.05"/>
<path d="M301.2 261.44 H293.1 V263.36 H301.2" fill="none" stroke="#000" stroke-width="1.05"/>
<path d="M293.1 262.40 H292.4 V265.28 H301.2" fill="none" stroke="#000" stroke-width="1.05"/>
<path d="M293.4 258.56 H291.7 V263.84 H292.4" fill="none" stroke="#000" stroke-width="1.05"/>
<path d="M301.2 267.20 H294.3 V269.12 H301.2" fill="none" stroke="#000" stroke-width="1.05"/>
<path d="M301.2 271.04 H293.4 V272.96 H301.2" fill="none" stroke="#000" stroke-width="1.05"/>
<path d="M301.2 274.88 H294.2 V276.80 H301.2" fill="none" stroke="#000" stroke-width="1.05"/>
<path d="M294.2 275.84 H293.1 V278.72 H301.2" fill="none" stroke="#000" stroke-width="1.05"/>
<path d="M293.4 272.00 H291.9 V277.28 H293.1" fill="none" stroke="#000" stroke-width="1.05"/>
<path d="M294.3 268.16 H290.1 V274.64 H291.9" fill="none" stroke="#000" stroke-width="1.05"/>
<path d="M291.7 261.20 H288.0 V271.40 H290.1" fill="none" stroke="#000" stroke-width="1.05"/>
<path d="M288.6 246.17 H287.3 V266.30 H288.0" fill="none" stroke="#000" stroke-width="1.05"/>
<path d="M301.2 282.56 H294.2 V284.48 H301.2" fill="none" stroke="#000" stroke-width="1.05"/>
<path d="M294.2 283.52 H292.2 V286.40 H301.2" fill="none" stroke="#000" stroke-width="1.05"/>
<path d="M301.2 280.64 H291.1 V284.96 H292.2" fill="none" stroke="#000" stroke-width="1.05"/>
<path d="M301.2 288.32 H293.3 V290.24 H301.2" fill="none" stroke="#000" stroke-width="1.05"/>
<path d="M301.2 292.16 H294.2 V294.08 H301.2" fill="none" stroke="#000" stroke-width="1.05"/>
<path d="M294.2 293.12 H293.5 V296.00 H301.2" fill="none" stroke="#000" stroke-width="1.05"/>
<path d="M293.3 289.28 H290.5 V294.56 H293.5" fill="none" stroke="#000" stroke-width="1.05"/>
<path d="M291.1 282.80 H289.1 V291.92 H290.5" fill="none" stroke="#000" stroke-width="1.05"/>
<path d="M301.2 297.92 H293.3 V299.84 H301.2" fill="none" stroke="#000" stroke-width="1.05"/>
<path d="M293.3 298.88 H292.5 V301.76 H301.2" fill="none" stroke="#000" stroke-width="1.05"/>
<path d="M301.2 307.52 H293.0 V309.44 H301.2" fill="none" stroke="#000" stroke-width="1.05"/>
<path d="M301.2 305.60 H292.3 V308.48 H293.0" fill="none" stroke="#000" stroke-width="1.05"/>
<path d="M301.2 303.68 H291.6 V307.04 H292.3" fill="none" stroke="#000" stroke-width="1.05"/>
<path d="M301.2 311.36 H294.3 V313.28 H301.2" fill="none" stroke="#000" stroke-width="1.05"/>
<path d="M291.6 305.36 H290.9 V312.32 H294.3" fill="none" stroke="#000" stroke-width="1.05"/>
<path d="M301.2 315.20 H294.3 V317.12 H301.2" fill="none" stroke="#000" stroke-width="1.05"/>
<path d="M290.9 308.84 H290.0 V316.16 H294.3" fill="none" stroke="#000" stroke-width="1.05"/>
<path d="M292.5 300.32 H288.3 V312.50 H290.0" fill="none" stroke="#000" stroke-width="1.05"/>
<path d="M289.1 287.36 H286.6 V306.41 H288.3" fill="none" stroke="#000" stroke-width="1.05"/>
<path d="M287.3 256.24 H283.8 V296.88 H286.6" fill="none" stroke="#000" stroke-width="1.05"/>
<path d="M301.2 319.04 H294.1 V320.96 H301.2" fill="none" stroke="#000" stroke-width="1.05"/>
<path d="M294.1 320.00 H293.0 V322.88 H301.2" fill="none" stroke="#000" stroke-width="1.05"/>
<path d="M301.2 326.72 H293.6 V328.64 H301.2" fill="none" stroke="#000" stroke-width="1.05"/>
<path d="M301.2 324.80 H292.9 V327.68 H293.6" fill="none" stroke="#000" stroke-width="1.05"/>
<path d="M301.2 330.56 H294.1 V332.48 H301.2" fill="none" stroke="#000" stroke-width="1.05"/>
<path d="M292.9 326.24 H291.6 V331.52 H294.1" fill="none" stroke="#000" stroke-width="1.05"/>
<path d="M293.0 321.44 H289.6 V328.88 H291.6" fill="none" stroke="#000" stroke-width="1.05"/>
<path d="M301.2 334.40 H294.5 V336.32 H301.2" fill="none" stroke="#000" stroke-width="1.05"/>
<path d="M294.5 335.36 H292.2 V338.24 H301.2" fill="none" stroke="#000" stroke-width="1.05"/>
<path d="M301.2 342.08 H294.3 V344.00 H301.2" fill="none" stroke="#000" stroke-width="1.05"/>
<path d="M301.2 340.16 H293.2 V343.04 H294.3" fill="none" stroke="#000" stroke-width="1.05"/>
<path d="M292.2 336.80 H290.1 V341.60 H293.2" fill="none" stroke="#000" stroke-width="1.05"/>
<path d="M289.6 325.16 H288.7 V339.20 H290.1" fill="none" stroke="#000" stroke-width="1.05"/>
<path d="M301.2 347.84 H293.7 V349.76 H301.2" fill="none" stroke="#000" stroke-width="1.05"/>
<path d="M293.7 348.80 H292.0 V351.68 H301.2" fill="none" stroke="#000" stroke-width="1.05"/>
<path d="M301.2 345.92 H291.3 V350.24 H292.0" fill="none" stroke="#000" stroke-width="1.05"/>
<path d="M301.2 353.60 H293.7 V355.52 H301.2" fill="none" stroke="#000" stroke-width="1.05"/>
<path d="M301.2 357.44 H294.5 V359.36 H301.2" fill="none" stroke="#000" stroke-width="1.05"/>
<path d="M293.7 354.56 H292.2 V358.40 H294.5" fill="none" stroke="#000" stroke-width="1.05"/>
<path d="M292.2 356.48 H291.5 V361.28 H301.2" fill="none" stroke="#000" stroke-width="1.05"/>
<path d="M301.2 363.20 H294.7 V365.12 H301.2" fill="none" stroke="#000" stroke-width="1.05"/>
<path d="M294.7 364.16 H291.9 V367.04 H301.2" fill="none" stroke="#000" stroke-width="1.05"/>
<path d="M291.5 358.88 H289.8 V365.60 H291.9" fill="none" stroke="#000" stroke-width="1.05"/>
<path d="M291.3 348.08 H289.0 V362.24 H289.8" fill="none" stroke="#000" stroke-width="1.05"/>
<path d="M288.7 332.18 H282.4 V355.16 H289.0" fill="none" stroke="#000" stroke-width="1.05"/>
<path d="M283.8 276.6 H278.5 V343.7 H282.4" fill="none" stroke="#333" stroke-width="0.6"/>
<text transform="translate(315.6 370) rotate(-90)" font-size="9.2" fill="#333" font-family='"Liberation Sans", sans-serif' text-anchor="end" stroke="#333" stroke-width="0.12" textLength="25" lengthAdjust="spacingAndGlyphs">P3 Ctr</text>
<text transform="translate(336.1 370) rotate(-90)" font-size="9.2" fill="#333" font-family='"Liberation Sans", sans-serif' text-anchor="end" stroke="#333" stroke-width="0.12" textLength="25" lengthAdjust="spacingAndGlyphs">P4 Ctr</text>
<text transform="translate(356.7 370) rotate(-90)" font-size="9.2" fill="#333" font-family='"Liberation Sans", sans-serif' text-anchor="end" stroke="#333" stroke-width="0.12" textLength="25" lengthAdjust="spacingAndGlyphs">P6 Ctr</text>
<text transform="translate(377.2 370) rotate(-90)" font-size="9.2" fill="#333" font-family='"Liberation Sans", sans-serif' text-anchor="end" stroke="#333" stroke-width="0.12" textLength="25" lengthAdjust="spacingAndGlyphs">P2 Ctr</text>
<text transform="translate(397.7 370) rotate(-90)" font-size="9.2" fill="#333" font-family='"Liberation Sans", sans-serif' text-anchor="end" stroke="#333" stroke-width="0.12" textLength="25" lengthAdjust="spacingAndGlyphs">P5 Ctr</text>
<text transform="translate(418.3 370) rotate(-90)" font-size="9.2" fill="#333" font-family='"Liberation Sans", sans-serif' text-anchor="end" stroke="#333" stroke-width="0.12" textLength="25" lengthAdjust="spacingAndGlyphs">P1 Ctr</text>
<text transform="translate(438.8 370) rotate(-90)" font-size="9.2" fill="#333" font-family='"Liberation Sans", sans-serif' text-anchor="end" stroke="#333" stroke-width="0.12" textLength="32.5" lengthAdjust="spacingAndGlyphs">P3 GBM</text>
<text transform="translate(459.4 370) rotate(-90)" font-size="9.2" fill="#333" font-family='"Liberation Sans", sans-serif' text-anchor="end" stroke="#333" stroke-width="0.12" textLength="32.5" lengthAdjust="spacingAndGlyphs">P5 GBM</text>
<text transform="translate(479.9 370) rotate(-90)" font-size="9.2" fill="#333" font-family='"Liberation Sans", sans-serif' text-anchor="end" stroke="#333" stroke-width="0.12" textLength="32.5" lengthAdjust="spacingAndGlyphs">P6 GBM</text>
<text transform="translate(500.4 370) rotate(-90)" font-size="9.2" fill="#333" font-family='"Liberation Sans", sans-serif' text-anchor="end" stroke="#333" stroke-width="0.12" textLength="32.5" lengthAdjust="spacingAndGlyphs">P2 GBM</text>
<text transform="translate(521.0 370) rotate(-90)" font-size="9.2" fill="#333" font-family='"Liberation Sans", sans-serif' text-anchor="end" stroke="#333" stroke-width="0.12" textLength="32.5" lengthAdjust="spacingAndGlyphs">P4 GBM</text>
<text transform="translate(541.5 370) rotate(-90)" font-size="9.2" fill="#333" font-family='"Liberation Sans", sans-serif' text-anchor="end" stroke="#333" stroke-width="0.12" textLength="32.5" lengthAdjust="spacingAndGlyphs">P1 GBM</text>
</g>
</svg>
</body></html>
